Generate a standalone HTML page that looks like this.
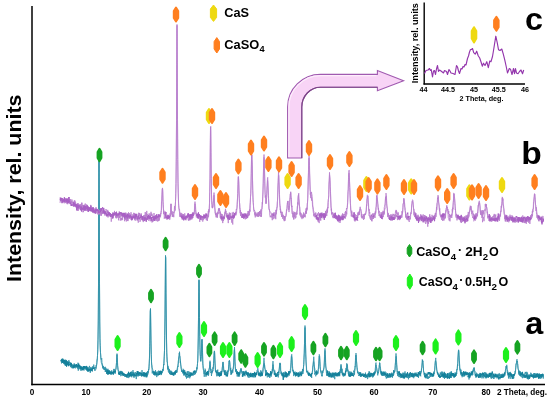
<!DOCTYPE html>
<html><head><meta charset="utf-8"><title>XRD</title>
<style>
html,body{margin:0;padding:0;background:#fff;}
svg{display:block;}
text{font-family:"Liberation Sans",sans-serif;font-weight:bold;fill:#000;}
</style></head><body>
<svg width="550" height="400" viewBox="0 0 550 400">
<defs>
<linearGradient id="ag" x1="0" y1="0" x2="0" y2="1">
<stop offset="0" stop-color="#f0c4ee"/><stop offset="0.5" stop-color="#f9e2f8"/><stop offset="1" stop-color="#f0c4ee"/>
</linearGradient>
</defs>
<rect width="550" height="400" fill="#fff"/>
<!-- arrow -->
<path d="M287.6,158 L287.6,107 A32.9,32.6 0 0 1 320.5,74.4 L377.4,74.4 L377.4,70.5 L403.6,80.7 L377.4,90.8 L377.4,87.2 L320.5,87.2 A18.7,19.8 0 0 0 301.8,107 L301.8,158 Z" fill="#f8d4f6" stroke="#a05ab0" stroke-width="1.1" stroke-linejoin="miter"/><path d="M288.9,157 L288.9,107 A31.6,31.3 0 0 1 320.5,75.7 L376.5,75.7" fill="none" stroke="#fdeefc" stroke-width="1.2"/><path d="M377.4,87.2 L320.5,87.2 A18.7,19.8 0 0 0 301.8,107 L301.8,158" fill="none" stroke="#7a4585" stroke-width="1.1"/>
<!-- axes -->
<line x1="32" y1="6" x2="32" y2="385.2" stroke="#000" stroke-width="1.5"/>
<line x1="31.3" y1="384.5" x2="545" y2="384.5" stroke="#000" stroke-width="1.4"/>
<line x1="424.2" y1="2.5" x2="424.2" y2="84.6" stroke="#000" stroke-width="1.4"/>
<line x1="423.5" y1="84" x2="525" y2="84" stroke="#000" stroke-width="1.3"/>
<g fill="none" stroke="#2c8fa7" stroke-width="0.8" stroke-linejoin="round"><path d="M61.00 361.1 61.25 360.1 61.50 363.4 61.75 360.3 62.00 360.8 62.25 362.6 62.50 359.8 62.75 360.4 63.00 361.5 63.25 361.0 63.50 360.2 63.75 361.5 64.00 361.4 64.25 362.6 64.50 359.9 64.75 361.0 65.00 363.1 65.25 363.8 65.50 359.7 65.75 362.1 66.00 360.1 66.25 360.2 66.50 360.3 66.75 361.0 67.00 362.9 67.25 362.8 67.50 362.3 67.75 362.1 68.00 362.8 68.25 363.0 68.50 364.3 68.75 362.8 69.00 363.7 69.25 363.8 69.50 364.0 69.75 364.5 70.00 364.6 70.25 366.2 70.50 364.7 70.75 367.0 71.00 365.0 71.25 365.1 71.50 366.0 71.75 366.5 72.00 366.4 72.25 367.7 72.50 367.4 72.75 366.6 73.00 365.4 73.25 365.6 73.50 367.2 73.75 365.7 74.00 363.8 74.25 364.5 74.50 364.7 74.75 366.8 75.00 365.4 75.25 368.4 75.50 366.7 75.75 366.2 76.00 365.7 76.25 367.5 76.50 366.1 76.75 365.4 77.00 367.0 77.25 366.3 77.50 367.6 77.75 366.0 78.00 362.7 78.25 367.0 78.50 363.9 78.75 368.1 79.00 368.6 79.25 366.1 79.50 365.5 79.75 365.5 80.00 368.5 80.25 367.5 80.50 367.4 80.75 368.1 81.00 371.0 81.25 369.1 81.50 369.6 81.75 369.5 82.00 369.7 82.25 369.6 82.50 367.2 82.75 367.6 83.00 366.8 83.25 366.7 83.50 368.8 83.75 366.7 84.00 367.2 84.25 366.5 84.50 366.6 84.75 368.3 85.00 367.0 85.25 367.0 85.50 368.2 85.75 368.3 86.00 368.7 86.25 368.1 86.50 365.9 86.75 368.8 87.00 368.8 87.25 369.5 87.50 367.4 87.75 371.4 88.00 366.9 88.25 369.2 88.50 368.4 88.75 367.8 89.00 369.4 89.25 368.2 89.50 365.9 89.75 367.4 90.00 369.5 90.25 371.7 90.50 367.3 90.75 369.1 91.00 370.8 91.25 369.8 91.50 368.6 91.75 367.3 92.00 366.9 92.25 368.1 92.50 368.5 92.75 366.1 93.00 366.7 93.25 369.0 93.50 368.1 93.75 367.6 94.00 368.0 94.25 367.5 94.50 369.6 94.75 370.5 95.00 371.0 95.25 369.3 95.50 369.1 95.75 369.5 96.00 369.2 96.25 368.1 96.50 366.6 96.75 362.9 97.00 359.8 97.25 360.1 97.50 355.3 97.75 349.7 98.00 339.2 98.25 320.2 98.50 285.2 98.75 215.1 99.00 159.9 99.25 214.9 99.50 283.7 99.75 322.0 100.00 342.4 100.25 349.1 100.50 352.9 100.75 357.8 101.00 359.3 101.25 362.3 101.50 363.1 101.75 364.2 102.00 363.9 102.25 365.8 102.50 365.3 102.75 367.0 103.00 366.5 103.25 365.9 103.50 368.2 103.75 367.0 104.00 369.9 104.25 369.0 104.50 369.3 104.75 369.1 105.00 369.3 105.25 366.8 105.50 371.3 105.75 369.0 106.00 371.3 106.25 369.4 106.50 370.0 106.75 369.9 107.00 368.9 107.25 369.9 107.50 370.7 107.75 369.7 108.00 368.8 108.25 369.7 108.50 370.9 108.75 372.2 109.00 372.0 109.25 371.6 109.50 370.4 109.75 373.0 110.00 372.2 110.25 372.2 110.50 373.7 110.75 373.4 111.00 373.2 111.25 371.2 111.50 371.7 111.75 370.3 112.00 372.4 112.25 372.2 112.50 373.3 112.75 372.5 113.00 371.9 113.25 375.0 113.50 371.3 113.75 371.0 114.00 371.8 114.25 373.1 114.50 372.0 114.75 371.8 115.00 370.8 115.25 373.7 115.50 370.7 115.75 369.3 116.00 369.1 116.25 365.9 116.50 362.6 116.75 359.0 117.00 353.6 117.25 357.2 117.50 362.1 117.75 366.2 118.00 369.7 118.25 370.8 118.50 370.7 118.75 370.6 119.00 372.0 119.25 373.5 119.50 372.8 119.75 372.9 120.00 371.0 120.25 374.5 120.50 371.6 120.75 372.0 121.00 373.1 121.25 373.6 121.50 373.7 121.75 372.8 122.00 373.4 122.25 373.0 122.50 371.6 122.75 373.5 123.00 373.0 123.25 374.3 123.50 373.7 123.75 375.1 124.00 375.0 124.25 375.4 124.50 376.0 124.75 375.6 125.00 374.8 125.25 376.8 125.50 374.3 125.75 375.5 126.00 376.8 126.25 375.6 126.50 376.9 126.75 375.2 127.00 375.5 127.25 376.8 127.50 376.9 127.75 377.4 128.00 375.6 128.25 375.8 128.50 376.0 128.75 375.6 129.00 373.3 129.25 374.0 129.50 376.2 129.75 372.9 130.00 375.1 130.25 373.8 130.50 375.4 130.75 373.2 131.00 374.0 131.25 371.5 131.50 373.7 131.75 375.0 132.00 371.8 132.25 374.9 132.50 372.6 132.75 373.3 133.00 370.1 133.25 374.7 133.50 372.4 133.75 372.9 134.00 372.2 134.25 372.8 134.50 375.7 134.75 374.1 135.00 376.1 135.25 375.2 135.50 376.2 135.75 375.4 136.00 376.6 136.25 379.1 136.50 376.7 136.75 376.2 137.00 374.7 137.25 376.1 137.50 376.2 137.75 372.2 138.00 372.4 138.25 376.4 138.50 374.3 138.75 373.9 139.00 374.3 139.25 374.8 139.50 374.4 139.75 373.0 140.00 375.6 140.25 373.0 140.50 371.9 140.75 372.3 141.00 373.0 141.25 372.9 141.50 373.3 141.75 374.1 142.00 370.1 142.25 373.2 142.50 375.4 142.75 375.1 143.00 373.8 143.25 373.9 143.50 376.2 143.75 374.6 144.00 374.3 144.25 377.1 144.50 374.3 144.75 375.4 145.00 374.4 145.25 374.4 145.50 373.1 145.75 373.1 146.00 375.5 146.25 372.6 146.50 374.2 146.75 372.3 147.00 373.3 147.25 373.3 147.50 371.0 147.75 373.9 148.00 371.8 148.25 372.7 148.50 369.1 148.75 369.8 149.00 369.3 149.25 363.1 149.50 355.9 149.75 346.6 150.00 329.7 150.25 311.2 150.50 309.0 150.75 325.1 151.00 343.9 151.25 354.7 151.50 361.2 151.75 367.2 152.00 368.5 152.25 373.4 152.50 370.9 152.75 371.0 153.00 371.7 153.25 373.1 153.50 372.0 153.75 371.4 154.00 374.9 154.25 371.5 154.50 374.8 154.75 373.2 155.00 371.8 155.25 375.1 155.50 372.9 155.75 371.9 156.00 373.2 156.25 374.6 156.50 373.9 156.75 374.0 157.00 375.1 157.25 373.3 157.50 373.5 157.75 372.8 158.00 371.3 158.25 372.7 158.50 374.7 158.75 370.5 159.00 374.0 159.25 372.5 159.50 371.0 159.75 372.1 160.00 374.1 160.25 371.3 160.50 373.0 160.75 373.5 161.00 371.1 161.25 372.9 161.50 372.7 161.75 371.4 162.00 372.6 162.25 371.1 162.50 370.4 162.75 369.1 163.00 370.2 163.25 368.0 163.50 366.3 163.75 363.4 164.00 360.0 164.25 356.0 164.50 350.3 164.75 335.7 165.00 317.1 165.25 284.5 165.50 255.3 165.75 257.5 166.00 292.7 166.25 318.0 166.50 339.4 166.75 352.1 167.00 356.5 167.25 360.1 167.50 363.6 167.75 366.7 168.00 368.7 168.25 368.9 168.50 367.8 168.75 368.9 169.00 370.5 169.25 369.2 169.50 370.8 169.75 374.1 170.00 370.4 170.25 373.2 170.50 370.9 170.75 371.8 171.00 372.3 171.25 370.8 171.50 372.7 171.75 374.6 172.00 374.1 172.25 374.3 172.50 372.6 172.75 373.5 173.00 373.9 173.25 374.5 173.50 375.2 173.75 372.3 174.00 375.3 174.25 372.7 174.50 372.6 174.75 371.3 175.00 372.4 175.25 372.1 175.50 370.8 175.75 371.9 176.00 372.3 176.25 371.6 176.50 372.9 176.75 370.5 177.00 372.4 177.25 370.5 177.50 370.3 177.75 366.3 178.00 367.0 178.25 364.6 178.50 363.1 178.75 357.6 179.00 357.8 179.25 353.0 179.50 355.5 179.75 355.9 180.00 356.7 180.25 362.8 180.50 361.4 180.75 364.8 181.00 367.0 181.25 368.8 181.50 369.7 181.75 371.3 182.00 371.6 182.25 371.6 182.50 370.8 182.75 371.7 183.00 373.3 183.25 370.8 183.50 372.3 183.75 369.7 184.00 371.3 184.25 370.2 184.50 373.7 184.75 370.3 185.00 372.5 185.25 374.1 185.50 374.3 185.75 374.8 186.00 375.3 186.25 374.7 186.50 375.1 186.75 373.8 187.00 373.6 187.25 371.2 187.50 373.2 187.75 374.2 188.00 371.7 188.25 371.1 188.50 372.7 188.75 374.2 189.00 374.5 189.25 371.7 189.50 374.4 189.75 373.4 190.00 374.9 190.25 372.1 190.50 376.0 190.75 374.5 191.00 375.2 191.25 374.7 191.50 373.6 191.75 375.4 192.00 374.1 192.25 373.9 192.50 375.4 192.75 374.5 193.00 373.7 193.25 375.5 193.50 373.5 193.75 373.9 194.00 374.6 194.25 374.5 194.50 374.4 194.75 374.6 195.00 372.3 195.25 371.0 195.50 373.6 195.75 372.9 196.00 370.6 196.25 371.4 196.50 369.6 196.75 367.4 197.00 369.3 197.25 366.7 197.50 363.6 197.75 361.0 198.00 353.1 198.25 337.9 198.50 317.4 198.75 291.3 199.00 279.6 199.25 292.4 199.50 317.7 199.75 336.5 200.00 347.6 200.25 354.6 200.50 356.6 200.75 361.2 201.00 358.4 201.25 356.8 201.50 349.5 201.75 342.5 202.00 339.2 202.25 343.7 202.50 352.6 202.75 363.8 203.00 365.6 203.25 369.4 203.50 370.4 203.75 370.6 204.00 373.7 204.25 373.0 204.50 373.3 204.75 370.3 205.00 373.4 205.25 374.1 205.50 373.5 205.75 373.0 206.00 374.6 206.25 373.5 206.50 373.9 206.75 374.5 207.00 374.5 207.25 371.8 207.50 373.8 207.75 372.5 208.00 371.0 208.25 373.5 208.50 370.8 208.75 371.9 209.00 368.6 209.25 368.8 209.50 366.9 209.75 364.3 210.00 362.1 210.25 363.6 210.50 367.2 210.75 372.8 211.00 372.0 211.25 373.3 211.50 376.0 211.75 371.7 212.00 371.1 212.25 372.0 212.50 372.2 212.75 370.7 213.00 371.0 213.25 369.4 213.50 365.2 213.75 363.3 214.00 355.7 214.25 352.5 214.50 351.4 214.75 359.2 215.00 363.8 215.25 367.1 215.50 370.6 215.75 372.1 216.00 372.2 216.25 372.0 216.50 375.5 216.75 376.3 217.00 374.1 217.25 374.4 217.50 374.1 217.75 375.9 218.00 376.1 218.25 373.7 218.50 374.4 218.75 374.3 219.00 375.4 219.25 376.1 219.50 376.6 219.75 375.0 220.00 374.0 220.25 375.7 220.50 375.5 220.75 374.1 221.00 374.4 221.25 374.2 221.50 374.4 221.75 372.7 222.00 372.1 222.25 370.1 222.50 366.1 222.75 364.8 223.00 362.3 223.25 365.3 223.50 365.9 223.75 369.0 224.00 371.8 224.25 370.1 224.50 372.4 224.75 372.1 225.00 372.3 225.25 372.5 225.50 370.3 225.75 373.1 226.00 373.3 226.25 374.6 226.50 375.2 226.75 374.0 227.00 374.6 227.25 370.6 227.50 373.8 227.75 374.1 228.00 373.2 228.25 371.5 228.50 369.2 228.75 366.8 229.00 363.8 229.25 360.9 229.50 360.5 229.75 362.6 230.00 364.6 230.25 370.7 230.50 369.0 230.75 367.8 231.00 373.2 231.25 373.1 231.50 372.2 231.75 373.2 232.00 372.4 232.25 370.7 232.50 371.4 232.75 369.1 233.00 368.9 233.25 367.2 233.50 365.9 233.75 363.0 234.00 355.2 234.25 350.7 234.50 347.0 234.75 353.5 235.00 361.6 235.25 366.6 235.50 369.4 235.75 371.3 236.00 369.2 236.25 371.3 236.50 369.4 236.75 372.8 237.00 373.7 237.25 373.4 237.50 373.1 237.75 375.0 238.00 375.4 238.25 375.0 238.50 374.2 238.75 374.8 239.00 374.5 239.25 374.4 239.50 374.3 239.75 373.0 240.00 370.7 240.25 371.2 240.50 370.9 240.75 368.7 241.00 368.9 241.25 368.6 241.50 372.4 241.75 372.5 242.00 373.0 242.25 374.2 242.50 374.5 242.75 373.9 243.00 375.2 243.25 375.0 243.50 374.7 243.75 374.7 244.00 373.6 244.25 375.4 244.50 375.4 244.75 374.0 245.00 376.2 245.25 373.7 245.50 371.7 245.75 372.4 246.00 373.4 246.25 374.0 246.50 373.6 246.75 374.9 247.00 373.4 247.25 375.0 247.50 376.3 247.75 375.3 248.00 377.2 248.25 377.5 248.50 375.9 248.75 373.7 249.00 377.5 249.25 377.8 249.50 374.0 249.75 375.9 250.00 375.8 250.25 373.4 250.50 374.6 250.75 376.7 251.00 375.5 251.25 375.4 251.50 376.8 251.75 374.9 252.00 373.5 252.25 377.3 252.50 374.7 252.75 375.5 253.00 376.8 253.25 375.5 253.50 375.2 253.75 374.1 254.00 375.4 254.25 377.3 254.50 373.9 254.75 373.2 255.00 374.8 255.25 373.5 255.50 374.3 255.75 374.0 256.00 374.2 256.25 373.5 256.50 373.1 256.75 373.6 257.00 370.1 257.25 370.3 257.50 369.9 257.75 368.1 258.00 369.1 258.25 370.6 258.50 371.0 258.75 373.4 259.00 372.6 259.25 376.2 259.50 372.6 259.75 372.9 260.00 376.1 260.25 373.0 260.50 376.5 260.75 370.3 261.00 373.4 261.25 375.9 261.50 376.2 261.75 374.9 262.00 373.4 262.25 373.8 262.50 374.4 262.75 373.0 263.00 372.4 263.25 368.4 263.50 367.2 263.75 364.2 264.00 364.5 264.25 363.5 264.50 367.0 264.75 368.1 265.00 369.5 265.25 369.7 265.50 373.7 265.75 376.1 266.00 374.0 266.25 371.5 266.50 374.9 266.75 374.7 267.00 374.7 267.25 377.3 267.50 376.8 267.75 377.1 268.00 374.4 268.25 375.8 268.50 374.0 268.75 376.7 269.00 374.0 269.25 376.8 269.50 375.5 269.75 375.4 270.00 373.4 270.25 375.9 270.50 372.8 270.75 373.3 271.00 373.4 271.25 376.6 271.50 373.7 271.75 372.0 272.00 372.2 272.25 372.5 272.50 366.9 272.75 362.7 273.00 361.1 273.25 363.8 273.50 368.9 273.75 369.2 274.00 370.9 274.25 371.1 274.50 371.6 274.75 374.7 275.00 374.2 275.25 374.6 275.50 372.8 275.75 375.3 276.00 375.3 276.25 377.0 276.50 376.7 276.75 375.3 277.00 376.1 277.25 376.1 277.50 375.6 277.75 374.5 278.00 376.2 278.25 377.4 278.50 373.9 278.75 375.1 279.00 371.4 279.25 369.4 279.50 366.9 279.75 363.4 280.00 363.2 280.25 365.0 280.50 363.7 280.75 370.3 281.00 371.6 281.25 374.3 281.50 371.8 281.75 373.4 282.00 374.9 282.25 374.7 282.50 375.5 282.75 372.8 283.00 373.0 283.25 374.6 283.50 372.3 283.75 374.6 284.00 375.3 284.25 374.6 284.50 372.7 284.75 373.7 285.00 374.0 285.25 375.0 285.50 374.9 285.75 374.3 286.00 372.9 286.25 372.8 286.50 373.8 286.75 373.8 287.00 374.1 287.25 373.4 287.50 374.3 287.75 373.5 288.00 374.2 288.25 373.7 288.50 374.1 288.75 371.9 289.00 371.7 289.25 371.2 289.50 372.3 289.75 372.6 290.00 372.4 290.25 370.3 290.50 368.4 290.75 367.1 291.00 362.6 291.25 356.9 291.50 355.2 291.75 354.3 292.00 357.1 292.25 363.1 292.50 365.7 292.75 368.9 293.00 369.6 293.25 371.2 293.50 371.6 293.75 372.6 294.00 373.8 294.25 373.5 294.50 373.2 294.75 374.4 295.00 371.5 295.25 373.3 295.50 374.5 295.75 373.8 296.00 374.6 296.25 372.2 296.50 374.8 296.75 372.7 297.00 374.9 297.25 374.0 297.50 374.9 297.75 373.1 298.00 373.9 298.25 372.1 298.50 374.8 298.75 375.3 299.00 374.9 299.25 375.7 299.50 375.1 299.75 374.4 300.00 374.8 300.25 373.3 300.50 374.9 300.75 374.0 301.00 373.8 301.25 373.0 301.50 372.2 301.75 371.4 302.00 371.8 302.25 372.5 302.50 369.0 302.75 370.6 303.00 373.8 303.25 368.7 303.50 366.5 303.75 364.5 304.00 359.5 304.25 352.9 304.50 343.1 304.75 330.5 305.00 327.5 305.25 332.2 305.50 344.7 305.75 353.7 306.00 361.8 306.25 365.2 306.50 371.6 306.75 371.2 307.00 372.7 307.25 372.0 307.50 370.9 307.75 372.9 308.00 374.3 308.25 374.1 308.50 373.5 308.75 373.4 309.00 373.0 309.25 374.1 309.50 375.6 309.75 375.8 310.00 376.0 310.25 375.2 310.50 375.7 310.75 375.4 311.00 375.8 311.25 375.4 311.50 375.4 311.75 374.0 312.00 373.3 312.25 374.0 312.50 372.4 312.75 366.3 313.00 366.2 313.25 362.4 313.50 360.0 313.75 356.7 314.00 360.2 314.25 365.0 314.50 368.1 314.75 368.2 315.00 371.8 315.25 372.3 315.50 372.4 315.75 373.0 316.00 371.1 316.25 372.6 316.50 370.4 316.75 374.6 317.00 374.9 317.25 374.1 317.50 372.3 317.75 373.1 318.00 373.4 318.25 369.5 318.50 369.0 318.75 366.3 319.00 360.1 319.25 356.2 319.50 357.9 319.75 361.1 320.00 366.6 320.25 368.9 320.50 369.9 320.75 372.6 321.00 372.8 321.25 373.8 321.50 374.9 321.75 376.2 322.00 374.5 322.25 376.3 322.50 372.3 322.75 373.2 323.00 373.0 323.25 369.9 323.50 369.5 323.75 369.6 324.00 368.0 324.25 365.0 324.50 359.9 324.75 354.2 325.00 350.5 325.25 355.0 325.50 362.3 325.75 366.0 326.00 368.4 326.25 371.8 326.50 373.8 326.75 375.8 327.00 374.2 327.25 375.7 327.50 375.8 327.75 374.7 328.00 374.6 328.25 374.0 328.50 374.3 328.75 374.4 329.00 372.6 329.25 374.0 329.50 376.1 329.75 374.5 330.00 372.5 330.25 376.5 330.50 374.6 330.75 375.1 331.00 375.5 331.25 374.4 331.50 373.7 331.75 374.0 332.00 375.2 332.25 374.9 332.50 374.6 332.75 377.4 333.00 375.2 333.25 376.0 333.50 377.2 333.75 374.8 334.00 374.0 334.25 373.9 334.50 374.1 334.75 375.8 335.00 374.7 335.25 373.0 335.50 372.5 335.75 374.0 336.00 375.3 336.25 372.6 336.50 375.4 336.75 374.1 337.00 373.9 337.25 373.7 337.50 373.3 337.75 373.5 338.00 375.5 338.25 372.3 338.50 373.4 338.75 373.7 339.00 372.3 339.25 372.9 339.50 371.5 339.75 373.5 340.00 372.8 340.25 369.3 340.50 370.9 340.75 366.1 341.00 364.2 341.25 365.4 341.50 370.1 341.75 368.7 342.00 372.6 342.25 373.8 342.50 375.1 342.75 373.8 343.00 375.7 343.25 373.9 343.50 375.5 343.75 373.2 344.00 374.6 344.25 373.7 344.50 374.0 344.75 376.1 345.00 373.1 345.25 372.8 345.50 372.4 345.75 372.0 346.00 368.1 346.25 370.3 346.50 366.0 346.75 363.3 347.00 365.0 347.25 364.5 347.50 368.4 347.75 371.3 348.00 371.4 348.25 371.1 348.50 372.9 348.75 375.7 349.00 373.7 349.25 376.1 349.50 376.2 349.75 373.5 350.00 376.4 350.25 374.1 350.50 376.5 350.75 376.6 351.00 375.7 351.25 374.0 351.50 375.3 351.75 375.2 352.00 376.0 352.25 375.2 352.50 375.7 352.75 374.6 353.00 373.0 353.25 374.7 353.50 376.3 353.75 373.4 354.00 372.8 354.25 371.2 354.50 374.8 354.75 369.9 355.00 370.2 355.25 365.7 355.50 360.6 355.75 355.6 356.00 355.0 356.25 357.0 356.50 360.4 356.75 363.7 357.00 369.0 357.25 370.1 357.50 370.8 357.75 372.3 358.00 371.5 358.25 373.9 358.50 373.3 358.75 373.9 359.00 373.2 359.25 375.0 359.50 375.7 359.75 373.6 360.00 375.8 360.25 376.0 360.50 377.0 360.75 376.7 361.00 374.6 361.25 376.6 361.50 375.6 361.75 374.7 362.00 374.0 362.25 376.0 362.50 376.0 362.75 374.5 363.00 375.4 363.25 374.5 363.50 373.9 363.75 373.5 364.00 375.1 364.25 374.5 364.50 374.5 364.75 374.3 365.00 374.1 365.25 375.4 365.50 372.6 365.75 375.9 366.00 374.0 366.25 375.5 366.50 376.3 366.75 376.5 367.00 377.4 367.25 376.0 367.50 379.1 367.75 378.4 368.00 377.5 368.25 377.4 368.50 375.7 368.75 373.7 369.00 373.5 369.25 375.5 369.50 371.7 369.75 376.4 370.00 375.0 370.25 373.4 370.50 373.9 370.75 372.7 371.00 374.6 371.25 375.2 371.50 376.2 371.75 373.2 372.00 375.9 372.25 374.8 372.50 374.3 372.75 374.3 373.00 374.6 373.25 376.2 373.50 375.8 373.75 375.1 374.00 373.2 374.25 373.8 374.50 375.0 374.75 373.9 375.00 371.7 375.25 373.4 375.50 372.0 375.75 367.5 376.00 365.2 376.25 366.5 376.50 367.2 376.75 368.8 377.00 371.7 377.25 371.6 377.50 373.1 377.75 375.4 378.00 372.2 378.25 371.2 378.50 370.6 378.75 369.6 379.00 369.1 379.25 365.4 379.50 364.7 379.75 362.8 380.00 365.1 380.25 368.4 380.50 371.7 380.75 370.9 381.00 374.4 381.25 372.4 381.50 374.1 381.75 374.0 382.00 376.0 382.25 372.9 382.50 372.9 382.75 373.5 383.00 374.5 383.25 374.3 383.50 372.0 383.75 372.5 384.00 372.0 384.25 375.6 384.50 374.2 384.75 374.6 385.00 371.4 385.25 374.3 385.50 373.8 385.75 375.3 386.00 372.4 386.25 376.0 386.50 375.2 386.75 375.3 387.00 373.3 387.25 377.2 387.50 375.5 387.75 375.8 388.00 375.8 388.25 375.7 388.50 376.5 388.75 376.7 389.00 377.9 389.25 377.3 389.50 375.7 389.75 376.6 390.00 377.4 390.25 375.3 390.50 375.8 390.75 377.2 391.00 376.3 391.25 375.1 391.50 376.4 391.75 376.8 392.00 376.4 392.25 375.8 392.50 377.7 392.75 373.6 393.00 375.4 393.25 375.5 393.50 373.3 393.75 373.1 394.00 372.7 394.25 373.1 394.50 372.0 394.75 371.4 395.00 370.3 395.25 365.2 395.50 362.2 395.75 358.3 396.00 353.4 396.25 357.3 396.50 359.6 396.75 364.6 397.00 367.4 397.25 372.0 397.50 371.6 397.75 372.7 398.00 375.2 398.25 374.8 398.50 373.7 398.75 376.8 399.00 376.7 399.25 375.0 399.50 373.3 399.75 374.3 400.00 373.9 400.25 376.9 400.50 374.3 400.75 376.2 401.00 377.0 401.25 376.2 401.50 376.4 401.75 377.7 402.00 377.2 402.25 374.5 402.50 377.4 402.75 373.4 403.00 375.1 403.25 376.7 403.50 373.4 403.75 376.8 404.00 378.2 404.25 375.5 404.50 373.7 404.75 378.0 405.00 375.0 405.25 374.6 405.50 374.7 405.75 375.2 406.00 374.9 406.25 377.8 406.50 374.3 406.75 373.4 407.00 373.5 407.25 375.0 407.50 377.8 407.75 374.4 408.00 376.0 408.25 377.4 408.50 376.3 408.75 376.4 409.00 376.3 409.25 377.0 409.50 375.6 409.75 378.0 410.00 373.9 410.25 376.9 410.50 376.9 410.75 375.4 411.00 374.9 411.25 376.6 411.50 374.0 411.75 374.9 412.00 374.3 412.25 375.8 412.50 374.6 412.75 375.2 413.00 376.9 413.25 376.2 413.50 376.6 413.75 378.2 414.00 373.7 414.25 375.2 414.50 375.6 414.75 377.0 415.00 373.7 415.25 374.6 415.50 375.2 415.75 373.1 416.00 373.9 416.25 374.5 416.50 374.2 416.75 375.8 417.00 376.5 417.25 375.3 417.50 376.8 417.75 376.8 418.00 376.3 418.25 375.3 418.50 377.9 418.75 374.3 419.00 375.5 419.25 375.7 419.50 371.2 419.75 372.9 420.00 371.1 420.25 372.7 420.50 373.3 420.75 371.3 421.00 371.8 421.25 371.8 421.50 368.9 421.75 367.7 422.00 364.2 422.25 363.0 422.50 359.9 422.75 362.5 423.00 365.2 423.25 365.6 423.50 370.3 423.75 372.5 424.00 374.0 424.25 375.3 424.50 375.5 424.75 377.4 425.00 377.4 425.25 377.3 425.50 376.2 425.75 378.2 426.00 375.0 426.25 377.7 426.50 377.1 426.75 375.2 427.00 376.7 427.25 379.0 427.50 376.3 427.75 375.7 428.00 376.7 428.25 377.3 428.50 378.7 428.75 376.5 429.00 377.8 429.25 376.8 429.50 377.9 429.75 376.8 430.00 374.9 430.25 376.7 430.50 377.0 430.75 375.2 431.00 372.8 431.25 374.2 431.50 375.3 431.75 376.2 432.00 374.9 432.25 376.8 432.50 375.1 432.75 374.0 433.00 376.0 433.25 374.4 433.50 376.3 433.75 375.4 434.00 372.7 434.25 371.3 434.50 370.6 434.75 369.5 435.00 365.4 435.25 361.9 435.50 361.0 435.75 360.9 436.00 362.1 436.25 365.3 436.50 366.1 436.75 370.3 437.00 371.4 437.25 373.2 437.50 372.4 437.75 373.2 438.00 373.6 438.25 373.9 438.50 374.5 438.75 374.5 439.00 376.8 439.25 375.4 439.50 376.0 439.75 375.8 440.00 374.0 440.25 372.5 440.50 373.3 440.75 374.0 441.00 374.3 441.25 372.6 441.50 375.1 441.75 374.1 442.00 375.7 442.25 373.8 442.50 371.7 442.75 375.8 443.00 375.8 443.25 377.9 443.50 375.2 443.75 375.4 444.00 377.1 444.25 371.8 444.50 373.4 444.75 372.8 445.00 375.6 445.25 374.9 445.50 375.9 445.75 373.4 446.00 374.3 446.25 375.1 446.50 374.8 446.75 374.6 447.00 376.1 447.25 373.9 447.50 374.1 447.75 374.1 448.00 375.5 448.25 373.7 448.50 373.8 448.75 374.0 449.00 373.4 449.25 375.2 449.50 374.8 449.75 373.3 450.00 375.2 450.25 376.0 450.50 378.0 450.75 376.1 451.00 377.8 451.25 376.4 451.50 377.7 451.75 374.5 452.00 374.1 452.25 375.1 452.50 374.7 452.75 374.9 453.00 375.1 453.25 373.1 453.50 374.6 453.75 373.7 454.00 376.7 454.25 374.2 454.50 374.0 454.75 376.6 455.00 372.5 455.25 376.2 455.50 374.4 455.75 373.0 456.00 372.5 456.25 372.3 456.50 371.9 456.75 369.7 457.00 369.8 457.25 368.5 457.50 365.3 457.75 363.8 458.00 356.4 458.25 352.5 458.50 349.9 458.75 349.8 459.00 355.4 459.25 360.0 459.50 362.0 459.75 368.2 460.00 368.1 460.25 371.6 460.50 371.3 460.75 373.3 461.00 369.7 461.25 373.8 461.50 373.1 461.75 375.4 462.00 375.8 462.25 375.9 462.50 374.4 462.75 374.9 463.00 374.0 463.25 375.1 463.50 375.4 463.75 375.9 464.00 376.8 464.25 374.0 464.50 375.0 464.75 375.3 465.00 374.2 465.25 372.2 465.50 373.5 465.75 373.3 466.00 372.7 466.25 374.5 466.50 374.1 466.75 374.6 467.00 375.5 467.25 375.6 467.50 376.7 467.75 377.0 468.00 376.8 468.25 376.9 468.50 377.2 468.75 375.6 469.00 376.9 469.25 376.8 469.50 374.8 469.75 376.2 470.00 375.1 470.25 374.9 470.50 376.4 470.75 372.8 471.00 375.4 471.25 373.6 471.50 374.7 471.75 371.8 472.00 375.3 472.25 375.5 472.50 372.5 472.75 375.0 473.00 371.7 473.25 371.1 473.50 368.6 473.75 369.0 474.00 367.5 474.25 368.6 474.50 370.5 474.75 370.8 475.00 373.9 475.25 373.9 475.50 376.4 475.75 375.1 476.00 375.8 476.25 375.8 476.50 376.6 476.75 376.8 477.00 375.0 477.25 373.7 477.50 374.8 477.75 374.4 478.00 375.6 478.25 374.6 478.50 375.3 478.75 375.2 479.00 375.2 479.25 373.8 479.50 376.2 479.75 374.3 480.00 372.9 480.25 374.0 480.50 374.5 480.75 374.4 481.00 375.5 481.25 374.4 481.50 375.4 481.75 376.4 482.00 374.4 482.25 374.7 482.50 377.2 482.75 376.0 483.00 376.4 483.25 375.0 483.50 374.9 483.75 374.5 484.00 373.4 484.25 375.4 484.50 372.5 484.75 373.0 485.00 372.3 485.25 375.9 485.50 372.8 485.75 375.4 486.00 372.7 486.25 376.9 486.50 377.7 486.75 374.9 487.00 376.9 487.25 373.8 487.50 374.9 487.75 376.9 488.00 375.6 488.25 374.9 488.50 375.5 488.75 374.7 489.00 374.5 489.25 376.4 489.50 373.1 489.75 374.6 490.00 375.3 490.25 376.3 490.50 375.4 490.75 374.7 491.00 372.6 491.25 378.8 491.50 374.8 491.75 376.9 492.00 375.0 492.25 378.0 492.50 375.6 492.75 376.9 493.00 377.9 493.25 376.4 493.50 378.7 493.75 377.7 494.00 378.8 494.25 378.2 494.50 376.4 494.75 375.2 495.00 375.9 495.25 377.4 495.50 374.0 495.75 377.0 496.00 373.8 496.25 376.3 496.50 376.2 496.75 374.6 497.00 374.1 497.25 375.9 497.50 376.7 497.75 374.8 498.00 377.0 498.25 376.9 498.50 375.2 498.75 374.5 499.00 376.8 499.25 376.4 499.50 375.1 499.75 375.7 500.00 379.2 500.25 377.4 500.50 377.1 500.75 375.4 501.00 376.1 501.25 377.1 501.50 374.5 501.75 374.7 502.00 374.8 502.25 374.6 502.50 375.9 502.75 374.4 503.00 375.5 503.25 375.7 503.50 375.7 503.75 375.5 504.00 373.4 504.25 373.2 504.50 372.3 504.75 374.1 505.00 373.8 505.25 372.8 505.50 372.8 505.75 369.0 506.00 368.6 506.25 366.0 506.50 366.7 506.75 366.1 507.00 368.9 507.25 369.8 507.50 370.9 507.75 370.7 508.00 375.3 508.25 375.1 508.50 378.5 508.75 375.5 509.00 376.0 509.25 374.5 509.50 377.1 509.75 375.1 510.00 378.4 510.25 378.9 510.50 373.9 510.75 375.5 511.00 374.9 511.25 375.7 511.50 375.3 511.75 377.4 512.00 378.6 512.25 377.3 512.50 378.9 512.75 377.8 513.00 378.5 513.25 378.8 513.50 375.7 513.75 378.3 514.00 374.8 514.25 374.0 514.50 375.4 514.75 372.5 515.00 371.3 515.25 372.3 515.50 369.6 515.75 367.6 516.00 365.4 516.25 363.1 516.50 362.4 516.75 360.2 517.00 359.2 517.25 363.5 517.50 363.9 517.75 364.1 518.00 368.2 518.25 368.9 518.50 370.5 518.75 374.4 519.00 374.5 519.25 373.9 519.50 375.3 519.75 372.7 520.00 375.7 520.25 376.1 520.50 374.7 520.75 373.9 521.00 376.9 521.25 376.8 521.50 376.5 521.75 376.8 522.00 376.8 522.25 377.7 522.50 378.2 522.75 375.8 523.00 377.7 523.25 375.4 523.50 375.0 523.75 375.5 524.00 376.6 524.25 376.4 524.50 375.8 524.75 374.6 525.00 377.0 525.25 375.5 525.50 375.8 525.75 374.9 526.00 378.0 526.25 375.4 526.50 374.3 526.75 377.0 527.00 376.1 527.25 377.3 527.50 377.4 527.75 374.4 528.00 376.3 528.25 379.5 528.50 377.3 528.75 377.2 529.00 377.7 529.25 377.8 529.50 376.1 529.75 376.9 530.00 376.5 530.25 375.7 530.50 375.3 530.75 376.1 531.00 375.6 531.25 374.1 531.50 373.7 531.75 375.2 532.00 375.1 532.25 376.8 532.50 375.0 532.75 374.9 533.00 374.3 533.25 374.9 533.50 375.1 533.75 376.0 534.00 374.2 534.25 375.5 534.50 376.1 534.75 373.1 535.00 375.6 535.25 374.2 535.50 374.7 535.75 375.0 536.00 375.0 536.25 374.4 536.50 375.6 536.75 376.1 537.00 375.1 537.25 374.1 537.50 374.8 537.75 377.2 538.00 375.9 538.25 374.6 538.50 373.9 538.75 375.5 539.00 375.5 539.25 377.9 539.50 373.5 539.75 376.0 540.00 376.8 540.25 377.1 540.50 374.3 540.75 376.7 541.00 376.4 541.25 376.8 541.50 376.9 541.75 375.6 542.00 377.1 542.25 375.5 542.50 374.7 542.75 375.9 543.00 376.9 543.25 378.6 543.50 376.1"/><path d="M61.00 359.8 61.25 360.6 61.50 360.0 61.75 359.6 62.00 360.6 62.25 358.5 62.50 359.6 62.75 360.0 63.00 361.4 63.25 361.6 63.50 362.4 63.75 363.4 64.00 364.2 64.25 364.1 64.50 363.1 64.75 364.6 65.00 363.7 65.25 365.8 65.50 364.7 65.75 363.8 66.00 363.7 66.25 362.5 66.50 363.8 66.75 362.2 67.00 363.8 67.25 361.0 67.50 361.7 67.75 364.6 68.00 364.5 68.25 364.1 68.50 360.3 68.75 360.6 69.00 360.7 69.25 360.5 69.50 363.0 69.75 362.5 70.00 363.4 70.25 363.3 70.50 363.4 70.75 367.2 71.00 366.0 71.25 364.5 71.50 367.5 71.75 365.5 72.00 366.2 72.25 368.4 72.50 365.8 72.75 366.3 73.00 366.1 73.25 368.3 73.50 368.3 73.75 365.9 74.00 367.7 74.25 363.5 74.50 364.8 74.75 366.4 75.00 364.5 75.25 365.3 75.50 365.3 75.75 366.0 76.00 365.8 76.25 364.1 76.50 365.7 76.75 365.7 77.00 367.5 77.25 365.0 77.50 366.3 77.75 368.9 78.00 368.1 78.25 370.7 78.50 367.9 78.75 364.8 79.00 369.4 79.25 368.5 79.50 368.0 79.75 366.8 80.00 368.2 80.25 369.0 80.50 368.5 80.75 368.0 81.00 368.5 81.25 367.8 81.50 366.2 81.75 367.7 82.00 368.0 82.25 369.9 82.50 367.8 82.75 366.7 83.00 369.6 83.25 369.3 83.50 367.9 83.75 367.2 84.00 370.5 84.25 366.6 84.50 367.9 84.75 369.0 85.00 367.5 85.25 368.6 85.50 369.5 85.75 368.5 86.00 367.5 86.25 368.4 86.50 369.1 86.75 370.5 87.00 367.9 87.25 370.9 87.50 368.1 87.75 370.7 88.00 371.7 88.25 370.7 88.50 369.0 88.75 371.4 89.00 370.9 89.25 370.2 89.50 369.6 89.75 369.4 90.00 369.9 90.25 372.9 90.50 370.9 90.75 370.9 91.00 369.8 91.25 370.7 91.50 369.8 91.75 369.0 92.00 369.6 92.25 368.5 92.50 368.9 92.75 368.3 93.00 367.3 93.25 368.6 93.50 368.7 93.75 364.6 94.00 367.7 94.25 367.9 94.50 367.8 94.75 369.6 95.00 368.2 95.25 367.5 95.50 367.0 95.75 368.4 96.00 365.4 96.25 366.4 96.50 365.2 96.75 364.3 97.00 362.7 97.25 359.2 97.50 355.5 97.75 351.1 98.00 340.3 98.25 324.0 98.50 284.0 98.75 212.7 99.00 160.8 99.25 212.7 99.50 281.8 99.75 321.1 100.00 338.6 100.25 345.6 100.50 352.6 100.75 355.0 101.00 359.1 101.25 359.7 101.50 359.2 101.75 358.2 102.00 362.6 102.25 363.3 102.50 364.2 102.75 368.4 103.00 366.6 103.25 368.2 103.50 366.6 103.75 369.1 104.00 368.2 104.25 367.4 104.50 369.3 104.75 369.9 105.00 368.9 105.25 372.0 105.50 370.5 105.75 368.8 106.00 367.9 106.25 371.9 106.50 372.2 106.75 372.3 107.00 370.7 107.25 370.9 107.50 372.8 107.75 371.7 108.00 372.2 108.25 373.0 108.50 373.5 108.75 371.2 109.00 371.9 109.25 372.3 109.50 371.3 109.75 373.2 110.00 370.9 110.25 372.8 110.50 371.9 110.75 374.0 111.00 372.7 111.25 371.9 111.50 372.4 111.75 371.3 112.00 373.7 112.25 372.7 112.50 372.6 112.75 373.4 113.00 373.4 113.25 372.2 113.50 371.2 113.75 373.7 114.00 372.6 114.25 372.1 114.50 372.7 114.75 371.1 115.00 373.0 115.25 370.5 115.50 370.0 115.75 369.7 116.00 367.9 116.25 365.9 116.50 362.5 116.75 356.3 117.00 354.7 117.25 357.7 117.50 365.6 117.75 367.1 118.00 369.1 118.25 370.5 118.50 372.9 118.75 373.4 119.00 372.3 119.25 374.7 119.50 372.0 119.75 373.0 120.00 373.7 120.25 374.3 120.50 373.4 120.75 376.2 121.00 375.9 121.25 374.8 121.50 374.8 121.75 374.6 122.00 374.8 122.25 375.7 122.50 375.8 122.75 375.5 123.00 374.5 123.25 373.2 123.50 373.0 123.75 375.3 124.00 373.4 124.25 374.5 124.50 376.5 124.75 375.6 125.00 375.4 125.25 375.5 125.50 376.2 125.75 376.3 126.00 374.4 126.25 374.1 126.50 374.5 126.75 375.4 127.00 378.0 127.25 375.6 127.50 375.5 127.75 376.6 128.00 376.3 128.25 374.3 128.50 372.5 128.75 378.1 129.00 374.4 129.25 374.1 129.50 376.1 129.75 373.3 130.00 374.1 130.25 372.7 130.50 375.6 130.75 373.6 131.00 374.7 131.25 375.5 131.50 374.3 131.75 377.3 132.00 374.3 132.25 372.5 132.50 375.2 132.75 375.2 133.00 375.2 133.25 373.1 133.50 373.3 133.75 373.8 134.00 375.1 134.25 373.9 134.50 375.7 134.75 375.2 135.00 375.1 135.25 373.5 135.50 372.2 135.75 374.7 136.00 376.2 136.25 375.5 136.50 373.3 136.75 375.2 137.00 374.3 137.25 374.8 137.50 372.7 137.75 372.9 138.00 373.8 138.25 375.5 138.50 373.7 138.75 374.3 139.00 375.9 139.25 373.7 139.50 373.8 139.75 373.7 140.00 376.0 140.25 374.0 140.50 373.1 140.75 374.1 141.00 375.3 141.25 375.3 141.50 375.9 141.75 376.7 142.00 375.5 142.25 374.5 142.50 372.7 142.75 375.1 143.00 375.6 143.25 375.2 143.50 375.2 143.75 373.7 144.00 375.2 144.25 372.4 144.50 372.8 144.75 372.4 145.00 375.7 145.25 375.7 145.50 375.8 145.75 377.2 146.00 373.9 146.25 375.8 146.50 375.0 146.75 374.5 147.00 376.1 147.25 374.4 147.50 373.2 147.75 374.8 148.00 372.6 148.25 372.1 148.50 372.0 148.75 368.8 149.00 366.3 149.25 363.2 149.50 358.2 149.75 343.4 150.00 330.6 150.25 311.6 150.50 308.4 150.75 325.1 151.00 340.5 151.25 354.1 151.50 362.0 151.75 365.0 152.00 365.5 152.25 368.8 152.50 368.6 152.75 369.7 153.00 370.5 153.25 373.3 153.50 374.5 153.75 372.6 154.00 374.3 154.25 372.4 154.50 372.6 154.75 374.6 155.00 375.7 155.25 374.7 155.50 370.2 155.75 372.8 156.00 373.6 156.25 373.8 156.50 372.5 156.75 377.1 157.00 371.7 157.25 374.2 157.50 373.2 157.75 374.0 158.00 374.4 158.25 373.5 158.50 374.4 158.75 372.0 159.00 372.6 159.25 374.1 159.50 371.9 159.75 373.9 160.00 372.6 160.25 371.8 160.50 373.2 160.75 372.2 161.00 375.1 161.25 372.9 161.50 374.6 161.75 371.2 162.00 373.2 162.25 371.4 162.50 371.7 162.75 369.6 163.00 370.8 163.25 370.9 163.50 366.1 163.75 364.1 164.00 364.8 164.25 356.5 164.50 350.3 164.75 337.1 165.00 314.9 165.25 285.1 165.50 256.6 165.75 258.1 166.00 293.7 166.25 322.0 166.50 338.0 166.75 352.5 167.00 361.8 167.25 362.1 167.50 366.0 167.75 369.6 168.00 365.9 168.25 371.1 168.50 372.4 168.75 372.4 169.00 369.5 169.25 372.3 169.50 371.5 169.75 373.9 170.00 373.8 170.25 372.3 170.50 373.0 170.75 372.2 171.00 373.1 171.25 373.4 171.50 374.0 171.75 373.8 172.00 373.3 172.25 374.4 172.50 373.9 172.75 374.4 173.00 373.5 173.25 376.0 173.50 375.7 173.75 375.3 174.00 372.3 174.25 373.5 174.50 372.4 174.75 372.5 175.00 372.8 175.25 372.9 175.50 370.6 175.75 372.9 176.00 372.8 176.25 372.4 176.50 369.9 176.75 370.6 177.00 369.8 177.25 368.1 177.50 367.0 177.75 366.6 178.00 363.7 178.25 361.1 178.50 359.9 178.75 357.4 179.00 356.0 179.25 355.2 179.50 351.7 179.75 355.2 180.00 358.2 180.25 359.1 180.50 362.4 180.75 365.1 181.00 366.3 181.25 368.8 181.50 370.8 181.75 371.9 182.00 370.0 182.25 370.3 182.50 372.5 182.75 371.6 183.00 372.3 183.25 373.8 183.50 372.2 183.75 375.5 184.00 373.6 184.25 374.8 184.50 374.0 184.75 375.4 185.00 374.4 185.25 373.5 185.50 375.2 185.75 376.8 186.00 374.5 186.25 377.1 186.50 378.6 186.75 376.2 187.00 377.5 187.25 376.1 187.50 377.5 187.75 376.0 188.00 373.5 188.25 375.4 188.50 377.5 188.75 375.8 189.00 375.1 189.25 376.5 189.50 374.5 189.75 378.3 190.00 375.1 190.25 377.0 190.50 376.6 190.75 375.8 191.00 374.5 191.25 375.9 191.50 375.5 191.75 375.1 192.00 372.6 192.25 374.4 192.50 373.8 192.75 373.5 193.00 373.1 193.25 372.0 193.50 370.9 193.75 372.7 194.00 370.9 194.25 371.1 194.50 372.3 194.75 374.5 195.00 373.2 195.25 373.9 195.50 372.3 195.75 372.2 196.00 372.7 196.25 372.0 196.50 371.3 196.75 370.4 197.00 368.1 197.25 366.4 197.50 363.4 197.75 360.6 198.00 350.7 198.25 338.2 198.50 319.1 198.75 294.0 199.00 280.2 199.25 290.9 199.50 317.6 199.75 337.0 200.00 349.3 200.25 356.7 200.50 360.9 200.75 361.4 201.00 359.4 201.25 356.4 201.50 348.5 201.75 341.0 202.00 339.4 202.25 343.2 202.50 350.7 202.75 359.7 203.00 365.3 203.25 368.5 203.50 368.7 203.75 371.0 204.00 374.1 204.25 376.8 204.50 373.8 204.75 372.7 205.00 373.5 205.25 373.7 205.50 374.4 205.75 375.9 206.00 376.8 206.25 372.1 206.50 374.2 206.75 374.5 207.00 373.6 207.25 373.4 207.50 373.2 207.75 375.3 208.00 374.1 208.25 372.8 208.50 375.7 208.75 374.2 209.00 370.7 209.25 369.2 209.50 368.0 209.75 364.8 210.00 360.7 210.25 365.2 210.50 367.4 210.75 370.4 211.00 369.2 211.25 369.7 211.50 372.5 211.75 372.2 212.00 373.3 212.25 371.0 212.50 371.9 212.75 367.5 213.00 368.4 213.25 368.5 213.50 363.5 213.75 360.2 214.00 355.4 214.25 350.8 214.50 351.0 214.75 353.9 215.00 360.1 215.25 367.9 215.50 371.7 215.75 370.0 216.00 370.9 216.25 372.8 216.50 373.3 216.75 370.7 217.00 373.9 217.25 370.3 217.50 371.6 217.75 369.6 218.00 373.6 218.25 373.3 218.50 373.7 218.75 372.0 219.00 373.9 219.25 372.0 219.50 374.1 219.75 375.9 220.00 374.7 220.25 372.9 220.50 375.4 220.75 372.8 221.00 372.9 221.25 374.0 221.50 370.9 221.75 372.1 222.00 370.7 222.25 367.5 222.50 366.2 222.75 363.2 223.00 361.9 223.25 363.7 223.50 368.3 223.75 370.6 224.00 371.6 224.25 373.1 224.50 374.7 224.75 373.1 225.00 375.1 225.25 373.9 225.50 374.3 225.75 372.1 226.00 374.9 226.25 371.9 226.50 373.3 226.75 372.7 227.00 374.1 227.25 372.6 227.50 373.5 227.75 371.7 228.00 370.8 228.25 371.7 228.50 368.2 228.75 364.7 229.00 360.8 229.25 361.5 229.50 360.5 229.75 362.3 230.00 367.4 230.25 370.4 230.50 370.3 230.75 370.2 231.00 375.0 231.25 371.0 231.50 372.6 231.75 371.5 232.00 369.9 232.25 372.2 232.50 371.8 232.75 372.8 233.00 371.1 233.25 369.2 233.50 368.9 233.75 362.6 234.00 355.9 234.25 350.4 234.50 349.3 234.75 354.6 235.00 362.9 235.25 366.2 235.50 370.2 235.75 371.7 236.00 370.5 236.25 372.7 236.50 372.6 236.75 373.2 237.00 376.0 237.25 376.6 237.50 375.7 237.75 372.1 238.00 375.8 238.25 375.6 238.50 376.2 238.75 373.8 239.00 372.3 239.25 372.6 239.50 375.2 239.75 375.3 240.00 374.4 240.25 371.6 240.50 371.9 240.75 371.0 241.00 368.5 241.25 370.9 241.50 370.6 241.75 371.8 242.00 371.4 242.25 373.8 242.50 371.6 242.75 373.2 243.00 371.7 243.25 371.4 243.50 372.3 243.75 374.1 244.00 373.1 244.25 373.4 244.50 374.0 244.75 374.2 245.00 373.3 245.25 372.6 245.50 371.3 245.75 373.8 246.00 370.6 246.25 371.5 246.50 373.8 246.75 373.9 247.00 373.1 247.25 374.8 247.50 372.3 247.75 372.6 248.00 374.9 248.25 372.3 248.50 375.1 248.75 374.2 249.00 374.9 249.25 374.6 249.50 375.5 249.75 376.2 250.00 373.7 250.25 373.8 250.50 376.6 250.75 375.3 251.00 374.4 251.25 377.1 251.50 374.7 251.75 376.1 252.00 374.9 252.25 375.9 252.50 373.5 252.75 373.7 253.00 376.6 253.25 373.8 253.50 376.9 253.75 377.4 254.00 374.4 254.25 375.2 254.50 375.6 254.75 374.1 255.00 375.4 255.25 373.2 255.50 373.0 255.75 375.5 256.00 374.6 256.25 372.4 256.50 372.0 256.75 372.7 257.00 372.9 257.25 372.0 257.50 371.8 257.75 370.6 258.00 372.1 258.25 373.0 258.50 375.7 258.75 375.4 259.00 373.5 259.25 374.5 259.50 375.1 259.75 374.4 260.00 373.8 260.25 374.5 260.50 373.3 260.75 372.9 261.00 374.7 261.25 371.6 261.50 373.1 261.75 372.1 262.00 371.5 262.25 370.9 262.50 371.3 262.75 371.2 263.00 368.1 263.25 366.8 263.50 364.4 263.75 360.1 264.00 357.8 264.25 360.6 264.50 366.3 264.75 365.6 265.00 368.9 265.25 369.7 265.50 371.4 265.75 370.3 266.00 372.6 266.25 370.2 266.50 374.3 266.75 372.4 267.00 374.6 267.25 372.3 267.50 372.9 267.75 374.0 268.00 374.4 268.25 374.0 268.50 376.3 268.75 374.9 269.00 375.1 269.25 375.4 269.50 375.1 269.75 378.0 270.00 375.9 270.25 376.3 270.50 374.2 270.75 374.0 271.00 374.3 271.25 373.4 271.50 374.7 271.75 374.2 272.00 373.6 272.25 369.3 272.50 371.0 272.75 366.3 273.00 364.7 273.25 366.5 273.50 369.0 273.75 371.1 274.00 372.4 274.25 374.7 274.50 372.2 274.75 370.4 275.00 372.3 275.25 372.8 275.50 373.4 275.75 375.1 276.00 373.7 276.25 373.3 276.50 376.8 276.75 375.9 277.00 375.8 277.25 374.3 277.50 375.6 277.75 376.1 278.00 372.6 278.25 372.9 278.50 371.7 278.75 373.3 279.00 370.5 279.25 368.8 279.50 365.3 279.75 364.5 280.00 362.8 280.25 365.3 280.50 369.9 280.75 371.5 281.00 373.6 281.25 373.3 281.50 373.7 281.75 374.3 282.00 374.3 282.25 376.2 282.50 375.3 282.75 374.6 283.00 373.6 283.25 376.6 283.50 374.5 283.75 377.0 284.00 377.3 284.25 375.3 284.50 375.2 284.75 376.2 285.00 377.3 285.25 374.9 285.50 374.9 285.75 375.0 286.00 376.4 286.25 377.1 286.50 377.3 286.75 377.6 287.00 374.1 287.25 374.6 287.50 376.5 287.75 377.0 288.00 376.0 288.25 374.1 288.50 374.0 288.75 372.9 289.00 375.8 289.25 374.6 289.50 374.6 289.75 373.9 290.00 372.7 290.25 372.3 290.50 372.6 290.75 370.3 291.00 364.9 291.25 360.6 291.50 356.3 291.75 357.3 292.00 360.0 292.25 366.4 292.50 368.6 292.75 371.3 293.00 370.0 293.25 371.6 293.50 373.5 293.75 376.1 294.00 372.1 294.25 373.7 294.50 374.4 294.75 373.4 295.00 375.1 295.25 374.4 295.50 375.2 295.75 375.0 296.00 373.2 296.25 375.2 296.50 373.1 296.75 375.9 297.00 373.9 297.25 375.0 297.50 375.6 297.75 375.6 298.00 373.3 298.25 373.1 298.50 374.7 298.75 374.1 299.00 374.9 299.25 375.0 299.50 374.5 299.75 376.7 300.00 371.4 300.25 373.0 300.50 374.9 300.75 372.5 301.00 374.5 301.25 371.8 301.50 374.0 301.75 375.2 302.00 372.5 302.25 374.0 302.50 370.5 302.75 371.7 303.00 369.8 303.25 370.9 303.50 367.5 303.75 364.4 304.00 357.2 304.25 353.3 304.50 343.4 304.75 331.9 305.00 325.5 305.25 331.3 305.50 342.3 305.75 354.6 306.00 359.6 306.25 365.0 306.50 367.0 306.75 371.8 307.00 372.0 307.25 372.2 307.50 371.1 307.75 370.8 308.00 373.8 308.25 373.5 308.50 375.7 308.75 373.0 309.00 373.5 309.25 375.4 309.50 374.7 309.75 375.2 310.00 374.0 310.25 374.2 310.50 376.9 310.75 376.4 311.00 376.4 311.25 373.5 311.50 373.8 311.75 374.3 312.00 372.9 312.25 371.2 312.50 371.0 312.75 369.4 313.00 366.0 313.25 364.1 313.50 361.5 313.75 361.7 314.00 364.4 314.25 366.5 314.50 367.2 314.75 374.4 315.00 373.0 315.25 374.9 315.50 375.2 315.75 376.3 316.00 375.3 316.25 374.7 316.50 374.3 316.75 372.7 317.00 373.4 317.25 373.7 317.50 371.7 317.75 373.4 318.00 371.6 318.25 369.9 318.50 366.0 318.75 363.2 319.00 359.3 319.25 354.4 319.50 355.4 319.75 356.7 320.00 361.3 320.25 366.8 320.50 369.6 320.75 371.1 321.00 371.1 321.25 372.3 321.50 373.5 321.75 373.4 322.00 370.7 322.25 372.2 322.50 373.0 322.75 371.0 323.00 370.8 323.25 370.6 323.50 370.8 323.75 367.8 324.00 367.2 324.25 362.9 324.50 356.2 324.75 351.7 325.00 348.4 325.25 354.2 325.50 357.0 325.75 366.1 326.00 367.9 326.25 368.8 326.50 371.0 326.75 373.2 327.00 374.7 327.25 372.1 327.50 373.4 327.75 374.2 328.00 374.8 328.25 373.8 328.50 373.4 328.75 375.6 329.00 371.0 329.25 377.2 329.50 376.0 329.75 376.3 330.00 374.3 330.25 374.2 330.50 376.0 330.75 375.8 331.00 375.2 331.25 376.1 331.50 377.4 331.75 375.4 332.00 375.7 332.25 376.5 332.50 375.7 332.75 376.0 333.00 377.1 333.25 375.3 333.50 376.3 333.75 377.4 334.00 375.3 334.25 375.1 334.50 375.8 334.75 379.2 335.00 372.6 335.25 376.0 335.50 373.3 335.75 374.3 336.00 374.0 336.25 375.7 336.50 375.0 336.75 375.6 337.00 374.7 337.25 376.5 337.50 376.0 337.75 373.1 338.00 373.4 338.25 374.2 338.50 375.6 338.75 376.3 339.00 373.5 339.25 374.8 339.50 374.6 339.75 375.2 340.00 371.4 340.25 372.7 340.50 369.0 340.75 366.9 341.00 365.4 341.25 366.6 341.50 368.3 341.75 373.2 342.00 368.8 342.25 371.5 342.50 372.2 342.75 374.7 343.00 372.6 343.25 376.4 343.50 374.6 343.75 376.3 344.00 376.0 344.25 374.3 344.50 374.3 344.75 374.3 345.00 374.2 345.25 375.2 345.50 374.3 345.75 372.5 346.00 370.0 346.25 370.9 346.50 371.4 346.75 366.0 347.00 365.6 347.25 364.8 347.50 365.9 347.75 370.7 348.00 369.8 348.25 373.6 348.50 372.9 348.75 371.7 349.00 373.4 349.25 373.4 349.50 373.8 349.75 371.4 350.00 373.5 350.25 372.5 350.50 373.8 350.75 375.1 351.00 371.6 351.25 373.9 351.50 372.4 351.75 373.1 352.00 375.6 352.25 373.4 352.50 373.0 352.75 374.1 353.00 372.5 353.25 372.1 353.50 371.5 353.75 370.7 354.00 371.8 354.25 370.4 354.50 369.3 354.75 369.4 355.00 366.3 355.25 366.8 355.50 357.5 355.75 354.7 356.00 353.1 356.25 354.8 356.50 361.3 356.75 364.6 357.00 367.5 357.25 367.7 357.50 373.1 357.75 372.8 358.00 373.1 358.25 372.5 358.50 374.0 358.75 373.3 359.00 373.8 359.25 372.3 359.50 374.3 359.75 372.1 360.00 374.1 360.25 374.8 360.50 372.1 360.75 372.6 361.00 373.4 361.25 374.4 361.50 375.3 361.75 374.5 362.00 374.5 362.25 375.7 362.50 373.7 362.75 374.6 363.00 375.3 363.25 375.9 363.50 377.0 363.75 376.0 364.00 375.9 364.25 376.6 364.50 375.2 364.75 377.3 365.00 375.3 365.25 376.1 365.50 377.7 365.75 375.4 366.00 377.8 366.25 376.3 366.50 375.6 366.75 376.3 367.00 376.0 367.25 377.0 367.50 376.2 367.75 376.5 368.00 376.4 368.25 375.8 368.50 373.6 368.75 376.0 369.00 371.3 369.25 376.1 369.50 375.9 369.75 375.5 370.00 375.4 370.25 374.8 370.50 376.0 370.75 374.1 371.00 373.2 371.25 375.0 371.50 374.8 371.75 375.7 372.00 374.4 372.25 376.6 372.50 377.4 372.75 374.4 373.00 376.5 373.25 377.1 373.50 373.5 373.75 373.4 374.00 375.6 374.25 374.1 374.50 372.7 374.75 371.5 375.00 372.5 375.25 368.6 375.50 366.9 375.75 363.1 376.00 362.6 376.25 366.4 376.50 367.2 376.75 368.7 377.00 369.9 377.25 371.1 377.50 372.4 377.75 372.9 378.00 372.2 378.25 373.4 378.50 371.8 378.75 371.8 379.00 368.0 379.25 367.6 379.50 362.6 379.75 363.1 380.00 367.1 380.25 367.1 380.50 368.1 380.75 370.3 381.00 371.9 381.25 371.5 381.50 371.2 381.75 373.5 382.00 374.2 382.25 371.8 382.50 372.4 382.75 372.4 383.00 374.0 383.25 371.4 383.50 373.3 383.75 372.2 384.00 373.5 384.25 373.4 384.50 372.6 384.75 372.8 385.00 374.3 385.25 375.6 385.50 376.9 385.75 376.4 386.00 376.1 386.25 378.4 386.50 376.9 386.75 378.3 387.00 376.6 387.25 376.7 387.50 374.7 387.75 375.6 388.00 376.2 388.25 375.9 388.50 377.6 388.75 377.2 389.00 375.2 389.25 374.6 389.50 373.0 389.75 376.0 390.00 374.3 390.25 374.9 390.50 373.5 390.75 374.8 391.00 375.2 391.25 375.2 391.50 375.0 391.75 372.6 392.00 375.0 392.25 374.8 392.50 376.2 392.75 375.4 393.00 375.7 393.25 375.5 393.50 375.6 393.75 374.8 394.00 372.9 394.25 371.0 394.50 372.1 394.75 371.9 395.00 369.3 395.25 365.6 395.50 361.3 395.75 358.9 396.00 356.3 396.25 356.5 396.50 362.3 396.75 367.0 397.00 370.4 397.25 373.8 397.50 373.0 397.75 376.1 398.00 374.4 398.25 371.6 398.50 373.6 398.75 374.2 399.00 372.3 399.25 376.8 399.50 376.1 399.75 376.4 400.00 375.6 400.25 378.1 400.50 377.7 400.75 375.9 401.00 376.6 401.25 373.8 401.50 376.5 401.75 377.5 402.00 375.8 402.25 375.5 402.50 374.7 402.75 375.0 403.00 372.5 403.25 373.8 403.50 373.7 403.75 373.7 404.00 374.1 404.25 373.0 404.50 372.9 404.75 375.3 405.00 371.4 405.25 375.3 405.50 374.1 405.75 373.5 406.00 373.5 406.25 374.7 406.50 376.9 406.75 374.6 407.00 376.6 407.25 376.1 407.50 375.5 407.75 376.7 408.00 377.7 408.25 378.0 408.50 379.3 408.75 376.0 409.00 377.7 409.25 376.5 409.50 377.2 409.75 376.0 410.00 375.2 410.25 375.1 410.50 375.4 410.75 373.5 411.00 375.4 411.25 373.6 411.50 374.9 411.75 374.7 412.00 374.8 412.25 372.8 412.50 377.2 412.75 373.4 413.00 374.9 413.25 374.4 413.50 375.9 413.75 375.6 414.00 373.7 414.25 373.7 414.50 372.8 414.75 373.4 415.00 375.0 415.25 373.6 415.50 375.3 415.75 374.4 416.00 372.4 416.25 374.7 416.50 376.2 416.75 375.0 417.00 373.8 417.25 375.7 417.50 377.0 417.75 375.5 418.00 374.5 418.25 376.2 418.50 374.7 418.75 374.1 419.00 375.1 419.25 373.3 419.50 372.8 419.75 373.5 420.00 374.5 420.25 372.7 420.50 373.2 420.75 374.3 421.00 372.5 421.25 372.6 421.50 368.4 421.75 367.7 422.00 366.1 422.25 359.5 422.50 360.2 422.75 361.6 423.00 360.9 423.25 366.4 423.50 370.9 423.75 372.0 424.00 372.7 424.25 372.9 424.50 376.6 424.75 375.2 425.00 374.8 425.25 373.5 425.50 378.1 425.75 377.4 426.00 376.1 426.25 376.9 426.50 375.6 426.75 374.9 427.00 377.9 427.25 372.8 427.50 373.2 427.75 373.5 428.00 372.3 428.25 372.4 428.50 373.1 428.75 373.1 429.00 373.8 429.25 374.3 429.50 373.2 429.75 373.7 430.00 373.6 430.25 372.7 430.50 374.2 430.75 373.9 431.00 376.2 431.25 375.6 431.50 376.0 431.75 376.4 432.00 373.6 432.25 375.9 432.50 374.1 432.75 376.7 433.00 373.9 433.25 374.4 433.50 374.1 433.75 371.8 434.00 373.8 434.25 373.7 434.50 372.5 434.75 369.0 435.00 365.7 435.25 362.5 435.50 359.4 435.75 357.9 436.00 361.5 436.25 364.1 436.50 366.9 436.75 369.8 437.00 370.7 437.25 372.0 437.50 372.8 437.75 373.5 438.00 373.3 438.25 375.6 438.50 375.4 438.75 375.5 439.00 376.1 439.25 374.7 439.50 375.0 439.75 376.0 440.00 375.2 440.25 375.2 440.50 373.6 440.75 373.0 441.00 374.3 441.25 371.7 441.50 371.7 441.75 373.0 442.00 374.4 442.25 373.4 442.50 374.7 442.75 373.9 443.00 375.6 443.25 377.1 443.50 375.2 443.75 375.6 444.00 377.3 444.25 375.3 444.50 378.9 444.75 373.9 445.00 375.9 445.25 377.8 445.50 376.8 445.75 374.2 446.00 376.3 446.25 375.3 446.50 375.2 446.75 375.5 447.00 377.2 447.25 374.5 447.50 378.5 447.75 373.6 448.00 374.9 448.25 376.7 448.50 374.6 448.75 375.5 449.00 373.2 449.25 372.7 449.50 373.6 449.75 373.1 450.00 374.6 450.25 372.1 450.50 375.4 450.75 373.7 451.00 372.3 451.25 371.1 451.50 375.7 451.75 373.4 452.00 375.6 452.25 375.8 452.50 373.8 452.75 375.5 453.00 373.9 453.25 376.6 453.50 374.8 453.75 377.6 454.00 376.9 454.25 376.5 454.50 377.5 454.75 376.9 455.00 375.4 455.25 375.9 455.50 376.5 455.75 374.8 456.00 374.5 456.25 375.4 456.50 372.8 456.75 373.9 457.00 369.4 457.25 369.9 457.50 364.5 457.75 365.9 458.00 357.7 458.25 355.2 458.50 350.4 458.75 350.6 459.00 354.4 459.25 360.6 459.50 363.4 459.75 369.5 460.00 370.3 460.25 369.4 460.50 373.8 460.75 374.6 461.00 374.2 461.25 375.7 461.50 375.5 461.75 373.6 462.00 377.3 462.25 377.1 462.50 376.4 462.75 375.1 463.00 375.8 463.25 375.5 463.50 376.2 463.75 375.5 464.00 374.5 464.25 374.2 464.50 374.0 464.75 374.8 465.00 375.0 465.25 374.1 465.50 373.8 465.75 375.1 466.00 373.8 466.25 374.3 466.50 373.8 466.75 374.4 467.00 374.5 467.25 372.2 467.50 373.9 467.75 375.0 468.00 374.0 468.25 373.9 468.50 373.4 468.75 373.5 469.00 379.5 469.25 375.3 469.50 375.2 469.75 376.3 470.00 373.9 470.25 373.7 470.50 373.5 470.75 374.6 471.00 374.6 471.25 371.4 471.50 373.0 471.75 372.5 472.00 372.2 472.25 372.7 472.50 372.2 472.75 372.5 473.00 369.7 473.25 370.7 473.50 371.3 473.75 369.4 474.00 368.5 474.25 367.7 474.50 370.7 474.75 370.7 475.00 371.8 475.25 375.8 475.50 374.5 475.75 376.9 476.00 377.8 476.25 376.3 476.50 372.7 476.75 373.5 477.00 375.5 477.25 375.1 477.50 374.2 477.75 375.4 478.00 375.0 478.25 375.0 478.50 377.6 478.75 374.4 479.00 375.9 479.25 376.4 479.50 376.3 479.75 376.7 480.00 378.0 480.25 375.5 480.50 375.9 480.75 377.5 481.00 374.6 481.25 376.4 481.50 376.1 481.75 376.4 482.00 378.4 482.25 375.9 482.50 376.6 482.75 372.8 483.00 375.0 483.25 375.6 483.50 376.2 483.75 378.3 484.00 375.8 484.25 375.8 484.50 375.5 484.75 374.3 485.00 376.3 485.25 375.9 485.50 375.7 485.75 376.4 486.00 378.5 486.25 375.7 486.50 374.2 486.75 377.3 487.00 376.3 487.25 374.9 487.50 376.2 487.75 375.2 488.00 378.0 488.25 376.0 488.50 375.0 488.75 374.7 489.00 376.0 489.25 376.5 489.50 375.2 489.75 372.8 490.00 374.4 490.25 376.0 490.50 377.4 490.75 376.3 491.00 375.8 491.25 374.8 491.50 376.1 491.75 376.2 492.00 378.2 492.25 375.8 492.50 376.2 492.75 376.5 493.00 375.5 493.25 376.8 493.50 374.5 493.75 375.8 494.00 373.6 494.25 376.6 494.50 375.0 494.75 376.1 495.00 375.3 495.25 376.3 495.50 376.3 495.75 375.2 496.00 375.4 496.25 377.3 496.50 374.9 496.75 375.1 497.00 378.4 497.25 375.8 497.50 375.0 497.75 374.6 498.00 374.6 498.25 373.7 498.50 374.3 498.75 376.2 499.00 375.6 499.25 373.5 499.50 373.4 499.75 375.6 500.00 374.1 500.25 374.2 500.50 376.0 500.75 376.5 501.00 375.1 501.25 374.5 501.50 375.4 501.75 375.1 502.00 373.9 502.25 376.0 502.50 376.5 502.75 373.8 503.00 373.8 503.25 375.2 503.50 376.2 503.75 375.8 504.00 374.7 504.25 376.4 504.50 373.6 504.75 373.4 505.00 375.5 505.25 370.4 505.50 370.2 505.75 368.0 506.00 366.1 506.25 366.5 506.50 368.3 506.75 364.8 507.00 369.4 507.25 372.5 507.50 371.8 507.75 374.6 508.00 373.8 508.25 375.7 508.50 374.1 508.75 374.6 509.00 377.1 509.25 375.1 509.50 372.2 509.75 373.8 510.00 373.6 510.25 373.1 510.50 371.9 510.75 374.2 511.00 374.3 511.25 375.9 511.50 376.9 511.75 374.8 512.00 375.1 512.25 374.6 512.50 374.5 512.75 375.1 513.00 375.5 513.25 374.9 513.50 374.7 513.75 375.8 514.00 375.1 514.25 374.0 514.50 374.6 514.75 374.3 515.00 373.8 515.25 373.9 515.50 371.5 515.75 368.6 516.00 364.0 516.25 364.1 516.50 362.8 516.75 361.5 517.00 360.9 517.25 361.7 517.50 361.2 517.75 365.7 518.00 368.1 518.25 369.5 518.50 369.9 518.75 373.6 519.00 370.5 519.25 370.7 519.50 374.6 519.75 373.6 520.00 373.8 520.25 375.5 520.50 373.6 520.75 374.4 521.00 374.9 521.25 376.4 521.50 372.4 521.75 374.6 522.00 373.9 522.25 373.8 522.50 375.0 522.75 373.3 523.00 374.5 523.25 376.1 523.50 374.9 523.75 375.2 524.00 374.8 524.25 374.1 524.50 374.1 524.75 373.6 525.00 374.3 525.25 371.9 525.50 373.4 525.75 372.1 526.00 372.4 526.25 374.5 526.50 374.9 526.75 371.8 527.00 373.3 527.25 373.7 527.50 372.7 527.75 375.6 528.00 374.5 528.25 375.4 528.50 375.3 528.75 376.1 529.00 375.9 529.25 376.3 529.50 374.5 529.75 375.3 530.00 375.8 530.25 375.5 530.50 376.0 530.75 372.7 531.00 373.9 531.25 375.5 531.50 374.3 531.75 374.5 532.00 375.0 532.25 374.6 532.50 375.3 532.75 375.8 533.00 375.3 533.25 374.3 533.50 378.5 533.75 373.1 534.00 375.7 534.25 374.3 534.50 376.3 534.75 373.0 535.00 375.4 535.25 374.1 535.50 377.6 535.75 377.1 536.00 373.7 536.25 376.7 536.50 376.6 536.75 375.8 537.00 376.2 537.25 375.9 537.50 376.8 537.75 373.1 538.00 375.7 538.25 377.4 538.50 376.8 538.75 378.7 539.00 375.2 539.25 377.8 539.50 375.8 539.75 377.9 540.00 377.8 540.25 376.1 540.50 376.4 540.75 378.9 541.00 374.1 541.25 377.8 541.50 378.0 541.75 377.2 542.00 375.0 542.25 376.6 542.50 375.9 542.75 376.1 543.00 376.6 543.25 374.7 543.50 376.6"/><path d="M61.00 360.5 L61.25 361.4 L61.50 359.5 L61.75 359.9 L62.00 359.6 L62.25 360.6 L62.50 360.2 L62.75 363.0 L63.00 358.8 L63.25 362.0 L63.50 360.1 L63.75 360.9 L64.00 363.6 L64.25 359.9 L64.50 361.7 L64.75 360.4 L65.00 363.4 L65.25 361.1 L65.50 363.7 L65.75 362.3 L66.00 365.6 L66.25 360.4 L66.50 366.6 L66.75 364.4 L67.00 362.1 L67.25 361.8 L67.50 364.7 L67.75 363.8 L68.00 363.5 L68.25 366.2 L68.50 364.2 L68.75 361.8 L69.00 365.5 L69.25 364.2 L69.50 364.2 L69.75 364.3 L70.00 364.3 L70.25 363.6 L70.50 364.8 L70.75 362.6 L71.00 365.1 L71.25 363.0 L71.50 365.5 L71.75 364.5 L72.00 365.7 L72.25 364.7 L72.50 365.1 L72.75 364.8 L73.00 365.6 L73.25 367.8 L73.50 366.9 L73.75 367.6 L74.00 365.1 L74.25 367.5 L74.50 367.0 L74.75 365.1 L75.00 364.8 L75.25 365.7 L75.50 365.1 L75.75 366.7 L76.00 366.3 L76.25 365.4 L76.50 364.1 L76.75 366.4 L77.00 364.9 L77.25 366.6 L77.50 366.8 L77.75 366.9 L78.00 366.7 L78.25 365.4 L78.50 365.6 L78.75 363.7 L79.00 366.8 L79.25 367.3 L79.50 366.3 L79.75 365.2 L80.00 366.9 L80.25 366.0 L80.50 366.8 L80.75 369.4 L81.00 367.5 L81.25 367.1 L81.50 368.9 L81.75 368.5 L82.00 367.5 L82.25 369.1 L82.50 370.2 L82.75 368.3 L83.00 370.1 L83.25 367.9 L83.50 366.2 L83.75 367.9 L84.00 366.3 L84.25 368.2 L84.50 366.2 L84.75 366.9 L85.00 366.5 L85.25 367.4 L85.50 367.9 L85.75 367.5 L86.00 366.2 L86.25 369.2 L86.50 369.0 L86.75 366.4 L87.00 370.1 L87.25 368.5 L87.50 369.4 L87.75 370.1 L88.00 371.2 L88.25 369.7 L88.50 369.6 L88.75 370.3 L89.00 371.0 L89.25 368.8 L89.50 369.7 L89.75 370.2 L90.00 369.5 L90.25 369.8 L90.50 369.9 L90.75 369.5 L91.00 370.6 L91.25 368.4 L91.50 369.4 L91.75 369.2 L92.00 370.7 L92.25 371.4 L92.50 368.4 L92.75 368.9 L93.00 368.4 L93.25 368.9 L93.50 368.8 L93.75 368.4 L94.00 367.8 L94.25 368.1 M106.50 373.9 L106.75 370.7 L107.00 370.1 L107.25 370.0 L107.50 372.0 L107.75 374.6 L108.00 372.0 L108.25 370.9 L108.50 374.3 L108.75 370.4 L109.00 371.4 L109.25 373.8 L109.50 373.6 L109.75 371.4 L110.00 374.1 L110.25 372.4 L110.50 373.9 L110.75 374.0 L111.00 374.7 L111.25 374.5 L111.50 372.1 L111.75 372.7 L112.00 373.1 L112.25 372.2 L112.50 372.6 L112.75 372.5 L113.00 373.2 L113.25 374.0 L113.50 372.0 L113.75 372.5 L114.00 368.9 L114.25 371.2 L114.50 371.6 L114.75 371.6 L115.00 371.2 L115.25 372.0 L115.50 370.5 M118.50 372.8 L118.75 374.2 L119.00 372.7 L119.25 375.0 L119.50 374.4 L119.75 374.3 L120.00 372.7 L120.25 372.3 L120.50 372.8 L120.75 373.2 L121.00 370.9 L121.25 371.2 L121.50 372.2 L121.75 373.9 L122.00 373.3 L122.25 375.1 L122.50 372.4 L122.75 372.5 L123.00 374.3 L123.25 373.8 L123.50 375.6 L123.75 374.1 L124.00 374.5 L124.25 373.8 L124.50 375.0 L124.75 374.6 L125.00 374.4 L125.25 375.0 L125.50 374.6 L125.75 374.6 L126.00 375.5 L126.25 376.8 L126.50 375.8 L126.75 376.5 L127.00 375.1 L127.25 374.0 L127.50 375.6 L127.75 373.6 L128.00 373.4 L128.25 374.7 L128.50 371.8 L128.75 373.6 L129.00 373.8 L129.25 376.7 L129.50 375.2 L129.75 374.2 L130.00 372.9 L130.25 376.3 L130.50 373.8 L130.75 372.1 L131.00 376.3 L131.25 374.7 L131.50 374.2 L131.75 375.2 L132.00 374.1 L132.25 375.1 L132.50 374.4 L132.75 375.8 L133.00 376.1 L133.25 374.8 L133.50 373.7 L133.75 374.7 L134.00 377.6 L134.25 373.7 L134.50 375.8 L134.75 374.8 L135.00 375.3 L135.25 375.2 L135.50 375.5 L135.75 375.0 L136.00 376.2 L136.25 374.1 L136.50 373.1 L136.75 372.9 L137.00 373.6 L137.25 371.0 L137.50 373.7 L137.75 374.3 L138.00 371.2 L138.25 373.6 L138.50 374.7 L138.75 373.9 L139.00 373.1 L139.25 372.0 L139.50 374.0 L139.75 373.3 L140.00 374.0 L140.25 374.1 L140.50 373.7 L140.75 373.3 L141.00 374.0 L141.25 373.0 L141.50 375.2 L141.75 375.8 L142.00 374.5 L142.25 374.0 L142.50 375.3 L142.75 374.2 L143.00 375.4 L143.25 376.0 L143.50 374.3 L143.75 372.2 L144.00 376.2 L144.25 375.0 L144.50 373.9 L144.75 373.1 L145.00 374.0 L145.25 375.8 L145.50 373.0 L145.75 374.6 L146.00 375.3 L146.25 374.5 L146.50 373.3 L146.75 377.3 L147.00 375.8 L147.25 374.5 L147.50 374.6 M153.50 371.4 L153.75 371.5 L154.00 373.3 L154.25 372.6 L154.50 373.4 L154.75 374.7 L155.00 373.9 L155.25 372.9 L155.50 372.6 L155.75 373.3 L156.00 373.8 L156.25 374.7 L156.50 374.5 L156.75 374.4 L157.00 374.7 L157.25 374.5 L157.50 375.2 L157.75 375.2 L158.00 375.2 L158.25 375.4 L158.50 374.0 L158.75 375.1 L159.00 374.0 L159.25 373.7 L159.50 374.9 L159.75 374.0 L160.00 371.2 L160.25 372.2 L160.50 373.4 L160.75 370.8 L161.00 370.7 L161.25 371.2 L161.50 374.0 M170.00 374.0 L170.25 373.5 L170.50 373.7 L170.75 374.4 L171.00 375.0 L171.25 373.9 L171.50 373.1 L171.75 372.2 L172.00 371.8 L172.25 374.7 L172.50 373.8 L172.75 374.9 L173.00 374.6 L173.25 373.0 L173.50 373.7 L173.75 374.6 L174.00 374.0 L174.25 372.7 L174.50 373.7 L174.75 372.2 L175.00 372.5 L175.25 374.5 L175.50 372.9 L175.75 370.6 M183.00 368.7 L183.25 370.8 L183.50 372.8 L183.75 371.4 L184.00 371.8 L184.25 372.2 L184.50 374.1 L184.75 372.5 L185.00 371.9 L185.25 372.3 L185.50 373.6 L185.75 372.7 L186.00 372.5 L186.25 373.3 L186.50 373.5 L186.75 375.2 L187.00 374.8 L187.25 374.2 L187.50 375.1 L187.75 374.6 L188.00 375.2 L188.25 375.2 L188.50 375.2 L188.75 374.8 L189.00 375.8 L189.25 375.2 L189.50 375.8 L189.75 374.9 L190.00 375.8 L190.25 375.9 L190.50 374.8 L190.75 373.4 L191.00 372.8 L191.25 374.8 L191.50 372.9 L191.75 373.9 L192.00 374.5 L192.25 374.7 L192.50 374.2 L192.75 374.3 L193.00 374.3 L193.25 373.8 L193.50 373.2 L193.75 372.2 L194.00 372.9 L194.25 372.3 L194.50 372.0 L194.75 370.5 L195.00 372.3 M205.00 368.5 L205.25 370.3 L205.50 370.3 L205.75 371.9 L206.00 372.2 L206.25 375.4 L206.50 375.2 L206.75 372.5 L207.00 373.0 L207.25 373.8 L207.50 371.3 L207.75 374.4 L208.00 373.2 L208.25 372.6 M216.50 372.7 L216.75 371.9 L217.00 373.0 L217.25 372.7 L217.50 372.9 L217.75 372.6 L218.00 374.7 L218.25 375.3 L218.50 374.6 L218.75 373.0 L219.00 375.8 L219.25 376.3 L219.50 374.4 L219.75 373.3 L220.00 375.2 L220.25 376.1 L220.50 373.4 L220.75 375.8 L221.00 371.2 L221.25 375.5 L221.50 372.6 M224.50 371.0 L224.75 373.1 L225.00 373.6 L225.25 374.9 L225.50 374.2 L225.75 374.1 L226.00 375.8 L226.25 376.4 L226.50 376.1 L226.75 375.0 L227.00 375.7 L227.25 374.7 L227.50 376.4 L227.75 373.4 M231.25 373.0 L231.50 373.9 L231.75 374.0 L232.00 373.7 M236.50 373.9 L236.75 372.1 L237.00 372.2 L237.25 371.4 L237.50 371.5 L237.75 374.1 L238.00 372.1 L238.25 373.3 L238.50 372.8 L238.75 374.1 L239.00 376.7 L239.25 373.2 L239.50 373.9 L239.75 372.6 L240.00 372.0 M242.00 376.2 L242.25 375.9 L242.50 374.1 L242.75 376.9 L243.00 374.3 L243.25 375.4 L243.50 375.1 L243.75 371.8 L244.00 371.2 L244.25 375.0 L244.50 374.7 L244.75 372.5 L245.00 373.1 M246.25 371.6 L246.50 373.2 L246.75 372.2 L247.00 374.9 L247.25 374.8 L247.50 375.8 L247.75 373.3 L248.00 373.8 L248.25 372.9 L248.50 373.3 L248.75 373.3 L249.00 375.2 L249.25 375.7 L249.50 373.8 L249.75 374.8 L250.00 375.3 L250.25 374.2 L250.50 377.1 L250.75 372.8 L251.00 374.9 L251.25 375.5 L251.50 374.7 L251.75 374.4 L252.00 375.4 L252.25 373.5 L252.50 376.3 L252.75 374.6 L253.00 373.0 L253.25 374.7 L253.50 373.1 L253.75 374.9 L254.00 374.8 L254.25 375.5 L254.50 371.9 L254.75 373.2 L255.00 376.0 L255.25 375.8 L255.50 377.2 L255.75 373.9 L256.00 372.8 L256.25 375.1 L256.50 373.4 L256.75 373.7 L257.00 374.6 M258.25 372.9 L258.50 374.7 L258.75 372.9 L259.00 374.7 L259.25 375.0 L259.50 374.9 L259.75 374.2 L260.00 373.3 L260.25 375.4 L260.50 374.3 L260.75 373.9 L261.00 373.6 L261.25 375.8 L261.50 374.6 L261.75 372.9 L262.00 372.2 L262.25 375.8 L262.50 373.6 M265.50 373.8 L265.75 375.5 L266.00 373.6 L266.25 374.8 L266.50 374.5 L266.75 373.3 L267.00 374.6 L267.25 374.7 L267.50 373.1 L267.75 373.2 L268.00 374.7 L268.25 375.2 L268.50 373.3 L268.75 373.7 L269.00 374.6 L269.25 374.9 L269.50 375.0 L269.75 374.1 L270.00 374.4 L270.25 375.2 L270.50 374.9 L270.75 371.0 L271.00 374.2 L271.25 373.6 L271.50 372.4 M274.50 374.8 L274.75 373.2 L275.00 374.7 L275.25 375.6 L275.50 376.7 L275.75 374.7 L276.00 374.6 L276.25 375.0 L276.50 375.6 L276.75 374.8 L277.00 375.7 L277.25 373.8 L277.50 372.5 L277.75 373.2 L278.00 373.0 L278.25 371.8 L278.50 372.0 M281.50 373.7 L281.75 373.5 L282.00 374.0 L282.25 376.0 L282.50 374.2 L282.75 373.6 L283.00 377.7 L283.25 379.9 L283.50 376.5 L283.75 374.7 L284.00 375.4 L284.25 376.3 L284.50 376.4 L284.75 376.8 L285.00 376.7 L285.25 371.6 L285.50 375.1 L285.75 376.5 L286.00 374.3 L286.25 377.1 L286.50 372.5 L286.75 374.4 L287.00 373.8 L287.25 375.9 L287.50 375.3 L287.75 374.0 L288.00 374.8 L288.25 374.7 L288.50 374.1 L288.75 371.3 L289.00 374.1 L289.25 373.3 L289.50 372.4 L289.75 371.0 M293.50 371.5 L293.75 372.9 L294.00 373.0 L294.25 373.0 L294.50 372.7 L294.75 373.5 L295.00 374.2 L295.25 373.0 L295.50 376.2 L295.75 376.4 L296.00 376.2 L296.25 374.6 L296.50 373.9 L296.75 372.7 L297.00 374.5 L297.25 373.7 L297.50 374.4 L297.75 374.1 L298.00 373.0 L298.25 377.1 L298.50 373.1 L298.75 374.4 L299.00 374.9 L299.25 375.1 L299.50 375.2 L299.75 375.2 L300.00 372.6 L300.25 373.9 L300.50 374.0 L300.75 373.9 L301.00 375.6 L301.25 376.1 L301.50 374.1 L301.75 372.9 L302.00 372.8 M308.25 375.0 L308.50 372.7 L308.75 375.4 L309.00 372.8 L309.25 373.3 L309.50 372.9 L309.75 374.6 L310.00 374.0 L310.25 374.7 L310.50 375.6 L310.75 375.8 L311.00 374.1 L311.25 373.7 L311.50 373.6 L311.75 378.0 M315.75 372.1 L316.00 373.6 L316.25 374.6 L316.50 373.7 L316.75 372.0 L317.00 371.3 M322.00 371.0 L322.25 371.1 M327.25 373.1 L327.50 370.6 L327.75 373.7 L328.00 375.5 L328.25 374.9 L328.50 374.9 L328.75 373.4 L329.00 376.9 L329.25 374.3 L329.50 372.6 L329.75 375.5 L330.00 373.3 L330.25 374.3 L330.50 375.2 L330.75 373.4 L331.00 377.4 L331.25 376.3 L331.50 376.9 L331.75 374.5 L332.00 374.1 L332.25 372.6 L332.50 376.3 L332.75 375.4 L333.00 373.8 L333.25 374.1 L333.50 374.7 L333.75 372.7 L334.00 375.4 L334.25 373.3 L334.50 374.2 L334.75 374.0 L335.00 374.6 L335.25 375.1 L335.50 374.6 L335.75 373.5 L336.00 375.7 L336.25 376.2 L336.50 374.3 L336.75 373.7 L337.00 375.6 L337.25 374.0 L337.50 373.3 L337.75 375.0 L338.00 375.2 L338.25 375.6 L338.50 372.8 L338.75 372.9 L339.00 374.7 L339.25 372.6 L339.50 372.9 L339.75 376.2 M342.25 374.3 L342.50 373.7 L342.75 373.8 L343.00 373.6 L343.25 374.1 L343.50 374.3 L343.75 374.3 L344.00 374.5 L344.25 374.1 L344.50 374.0 L344.75 375.4 L345.00 375.2 L345.25 373.7 L345.50 370.9 M348.50 373.7 L348.75 373.8 L349.00 374.2 L349.25 376.6 L349.50 375.0 L349.75 375.6 L350.00 374.7 L350.25 376.4 L350.50 375.7 L350.75 373.1 L351.00 373.6 L351.25 372.9 L351.50 375.5 L351.75 374.9 L352.00 375.0 L352.25 375.5 L352.50 373.6 L352.75 375.6 L353.00 375.3 L353.25 375.4 L353.50 376.2 L353.75 375.2 M358.25 374.7 L358.50 375.5 L358.75 375.3 L359.00 375.1 L359.25 374.3 L359.50 375.0 L359.75 374.8 L360.00 374.2 L360.25 374.9 L360.50 375.1 L360.75 373.3 L361.00 376.2 L361.25 375.5 L361.50 374.5 L361.75 375.4 L362.00 374.6 L362.25 375.3 L362.50 375.0 L362.75 373.8 L363.00 374.7 L363.25 375.2 L363.50 375.8 L363.75 376.6 L364.00 374.9 L364.25 376.3 L364.50 374.6 L364.75 374.3 L365.00 375.8 L365.25 374.4 L365.50 375.7 L365.75 375.3 L366.00 375.1 L366.25 376.0 L366.50 376.6 L366.75 376.8 L367.00 375.4 L367.25 376.4 L367.50 375.3 L367.75 374.2 L368.00 373.6 L368.25 375.1 L368.50 373.6 L368.75 374.0 L369.00 376.7 L369.25 377.0 L369.50 375.9 L369.75 377.3 L370.00 374.0 L370.25 376.3 L370.50 373.8 L370.75 376.6 L371.00 373.7 L371.25 374.2 L371.50 373.7 L371.75 373.3 L372.00 373.2 L372.25 374.1 L372.50 373.9 L372.75 373.7 L373.00 375.6 L373.25 373.8 L373.50 373.7 L373.75 375.3 L374.00 372.2 L374.25 373.8 L374.50 373.1 M381.00 373.0 L381.25 371.9 L381.50 374.7 L381.75 374.0 L382.00 372.8 L382.25 374.0 L382.50 373.0 L382.75 373.7 L383.00 375.9 L383.25 374.6 L383.50 375.1 L383.75 374.5 L384.00 372.4 L384.25 374.3 L384.50 373.3 L384.75 374.4 L385.00 375.4 L385.25 373.4 L385.50 374.9 L385.75 374.2 L386.00 374.4 L386.25 374.9 L386.50 375.8 L386.75 375.9 L387.00 374.5 L387.25 375.2 L387.50 377.4 L387.75 373.3 L388.00 375.1 L388.25 376.3 L388.50 375.6 L388.75 374.8 L389.00 374.4 L389.25 376.4 L389.50 376.2 L389.75 374.8 L390.00 375.1 L390.25 374.4 L390.50 375.2 L390.75 377.2 L391.00 374.6 L391.25 374.4 L391.50 373.8 L391.75 375.0 L392.00 375.4 L392.25 375.6 L392.50 375.6 L392.75 375.7 L393.00 373.7 L393.25 372.6 L393.50 372.6 L393.75 370.2 L394.00 371.4 M398.00 371.7 L398.25 372.5 L398.50 372.2 L398.75 372.7 L399.00 371.2 L399.25 371.3 L399.50 371.7 L399.75 374.6 L400.00 374.8 L400.25 373.6 L400.50 375.6 L400.75 373.6 L401.00 375.7 L401.25 374.4 L401.50 374.2 L401.75 377.3 L402.00 377.2 L402.25 376.3 L402.50 375.2 L402.75 374.9 L403.00 377.0 L403.25 378.2 L403.50 377.7 L403.75 374.8 L404.00 377.7 L404.25 378.5 L404.50 376.4 L404.75 376.1 L405.00 376.1 L405.25 376.7 L405.50 377.0 L405.75 375.5 L406.00 376.9 L406.25 374.1 L406.50 375.7 L406.75 375.9 L407.00 374.5 L407.25 374.4 L407.50 372.2 L407.75 374.4 L408.00 374.5 L408.25 375.4 L408.50 374.8 L408.75 374.6 L409.00 376.1 L409.25 373.2 L409.50 375.4 L409.75 375.0 L410.00 374.9 L410.25 372.2 L410.50 373.4 L410.75 373.8 L411.00 373.5 L411.25 373.6 L411.50 375.8 L411.75 373.5 L412.00 377.1 L412.25 373.9 L412.50 374.7 L412.75 375.8 L413.00 376.7 L413.25 375.5 L413.50 376.3 L413.75 373.7 L414.00 375.5 L414.25 374.7 L414.50 374.4 L414.75 375.4 L415.00 373.9 L415.25 375.2 L415.50 375.7 L415.75 375.0 L416.00 376.1 L416.25 373.9 L416.50 374.7 L416.75 374.2 L417.00 375.7 L417.25 376.2 L417.50 374.3 L417.75 374.4 L418.00 374.4 L418.25 372.0 L418.50 373.9 L418.75 373.3 L419.00 373.0 L419.25 374.3 L419.50 373.3 L419.75 373.4 L420.00 373.8 L420.25 373.2 L420.50 374.2 L420.75 376.4 M424.50 373.7 L424.75 372.9 L425.00 374.1 L425.25 376.8 L425.50 376.0 L425.75 376.2 L426.00 375.5 L426.25 375.0 L426.50 375.5 L426.75 373.8 L427.00 374.3 L427.25 375.2 L427.50 375.2 L427.75 374.9 L428.00 374.6 L428.25 373.8 L428.50 374.1 L428.75 372.2 L429.00 373.2 L429.25 372.2 L429.50 374.1 L429.75 373.1 L430.00 372.7 L430.25 375.1 L430.50 373.6 L430.75 374.0 L431.00 374.9 L431.25 373.6 L431.50 373.2 L431.75 374.7 L432.00 373.9 L432.25 375.0 L432.50 375.4 L432.75 374.3 L433.00 375.7 L433.25 373.7 L433.50 376.1 L433.75 373.1 M437.50 372.7 L437.75 372.4 L438.00 374.7 L438.25 375.1 L438.50 375.2 L438.75 376.1 L439.00 376.9 L439.25 374.9 L439.50 376.5 L439.75 377.9 L440.00 376.2 L440.25 375.8 L440.50 377.5 L440.75 376.3 L441.00 375.9 L441.25 376.9 L441.50 375.5 L441.75 374.9 L442.00 374.9 L442.25 375.8 L442.50 375.4 L442.75 374.0 L443.00 377.0 L443.25 374.1 L443.50 373.9 L443.75 375.7 L444.00 372.6 L444.25 377.2 L444.50 374.3 L444.75 374.5 L445.00 373.5 L445.25 374.0 L445.50 375.7 L445.75 377.6 L446.00 376.6 L446.25 376.6 L446.50 376.1 L446.75 377.3 L447.00 375.9 L447.25 378.4 L447.50 373.4 L447.75 376.2 L448.00 376.6 L448.25 378.1 L448.50 376.6 L448.75 377.3 L449.00 378.3 L449.25 376.8 L449.50 378.6 L449.75 374.9 L450.00 376.7 L450.25 376.9 L450.50 376.1 L450.75 374.1 L451.00 375.4 L451.25 374.8 L451.50 372.6 L451.75 375.7 L452.00 374.6 L452.25 373.1 L452.50 373.2 L452.75 375.7 L453.00 376.0 L453.25 373.3 L453.50 376.0 L453.75 374.3 L454.00 374.0 L454.25 376.8 L454.50 375.3 L454.75 376.5 L455.00 376.5 L455.25 375.7 L455.50 374.1 L455.75 376.0 L456.00 373.6 L456.25 372.4 M461.00 372.4 L461.25 373.7 L461.50 374.0 L461.75 372.3 L462.00 373.3 L462.25 373.5 L462.50 375.5 L462.75 373.5 L463.00 372.3 L463.25 372.7 L463.50 374.4 L463.75 371.1 L464.00 374.5 L464.25 372.1 L464.50 374.2 L464.75 375.7 L465.00 372.9 L465.25 373.0 L465.50 373.1 L465.75 371.6 L466.00 373.9 L466.25 372.7 L466.50 374.9 L466.75 374.4 L467.00 372.6 L467.25 374.4 L467.50 374.2 L467.75 374.0 L468.00 373.8 L468.25 373.8 L468.50 373.1 L468.75 375.4 L469.00 377.2 L469.25 372.3 L469.50 376.0 L469.75 377.9 L470.00 375.9 L470.25 374.7 L470.50 374.8 L470.75 374.2 L471.00 375.1 L471.25 372.9 L471.50 374.8 L471.75 372.6 L472.00 371.7 L472.25 373.5 L472.50 371.3 L472.75 371.9 M475.25 374.6 L475.50 374.0 L475.75 375.6 L476.00 374.5 L476.25 375.0 L476.50 376.6 L476.75 376.2 L477.00 376.2 L477.25 375.6 L477.50 375.7 L477.75 375.6 L478.00 375.9 L478.25 377.5 L478.50 377.5 L478.75 375.8 L479.00 377.6 L479.25 376.6 L479.50 376.3 L479.75 374.8 L480.00 374.5 L480.25 373.5 L480.50 376.9 L480.75 375.0 L481.00 373.3 L481.25 375.0 L481.50 374.9 L481.75 374.5 L482.00 375.0 L482.25 374.2 L482.50 372.8 L482.75 372.8 L483.00 374.3 L483.25 375.3 L483.50 372.9 L483.75 375.9 L484.00 376.2 L484.25 375.4 L484.50 375.3 L484.75 376.8 L485.00 376.5 L485.25 376.0 L485.50 376.3 L485.75 377.5 L486.00 376.8 L486.25 373.8 L486.50 376.1 L486.75 377.0 L487.00 376.7 L487.25 375.1 L487.50 376.1 L487.75 374.8 L488.00 376.4 L488.25 376.5 L488.50 377.3 L488.75 376.8 L489.00 374.8 L489.25 373.1 L489.50 377.0 L489.75 373.9 L490.00 376.4 L490.25 375.0 L490.50 373.2 L490.75 375.1 L491.00 374.6 L491.25 374.6 L491.50 373.2 L491.75 375.2 L492.00 373.8 L492.25 371.5 L492.50 373.7 L492.75 374.6 L493.00 373.7 L493.25 374.0 L493.50 375.7 L493.75 374.9 L494.00 376.9 L494.25 375.6 L494.50 375.9 L494.75 376.6 L495.00 376.4 L495.25 373.8 L495.50 376.3 L495.75 376.7 L496.00 375.7 L496.25 375.5 L496.50 376.0 L496.75 376.7 L497.00 375.7 L497.25 377.0 L497.50 376.8 L497.75 375.7 L498.00 377.5 L498.25 378.1 L498.50 377.3 L498.75 379.4 L499.00 377.4 L499.25 377.8 L499.50 377.2 L499.75 378.1 L500.00 377.1 L500.25 376.7 L500.50 377.9 L500.75 377.0 L501.00 377.7 L501.25 376.8 L501.50 377.8 L501.75 375.6 L502.00 375.1 L502.25 377.3 L502.50 376.7 L502.75 377.6 L503.00 374.9 L503.25 377.3 L503.50 375.6 L503.75 376.5 L504.00 374.3 L504.25 374.8 L504.50 373.0 L504.75 373.2 M508.00 372.2 L508.25 373.9 L508.50 373.3 L508.75 374.9 L509.00 373.8 L509.25 374.1 L509.50 374.3 L509.75 373.9 L510.00 374.6 L510.25 373.1 L510.50 373.9 L510.75 375.1 L511.00 375.5 L511.25 376.3 L511.50 373.6 L511.75 375.7 L512.00 374.6 L512.25 374.8 L512.50 377.1 L512.75 378.4 L513.00 377.0 L513.25 376.5 L513.50 374.6 L513.75 375.8 L514.00 374.2 L514.25 375.2 L514.50 373.7 M519.50 371.9 L519.75 371.7 L520.00 372.5 L520.25 371.5 L520.50 375.3 L520.75 375.2 L521.00 373.1 L521.25 374.3 L521.50 374.9 L521.75 373.6 L522.00 374.4 L522.25 375.2 L522.50 371.9 L522.75 375.7 L523.00 375.0 L523.25 374.4 L523.50 375.2 L523.75 375.1 L524.00 377.0 L524.25 377.7 L524.50 376.4 L524.75 374.8 L525.00 376.4 L525.25 377.7 L525.50 376.4 L525.75 376.5 L526.00 375.3 L526.25 374.9 L526.50 376.4 L526.75 375.2 L527.00 375.9 L527.25 378.7 L527.50 376.4 L527.75 376.9 L528.00 378.5 L528.25 375.8 L528.50 376.0 L528.75 375.9 L529.00 376.7 L529.25 375.6 L529.50 378.8 L529.75 378.0 L530.00 377.5 L530.25 375.2 L530.50 375.3 L530.75 375.9 L531.00 375.7 L531.25 376.5 L531.50 376.6 L531.75 375.1 L532.00 376.7 L532.25 375.8 L532.50 376.9 L532.75 376.3 L533.00 377.5 L533.25 375.5 L533.50 377.2 L533.75 375.6 L534.00 376.8 L534.25 377.4 L534.50 375.7 L534.75 377.7 L535.00 376.0 L535.25 376.2 L535.50 377.1 L535.75 375.4 L536.00 376.1 L536.25 377.5 L536.50 373.8 L536.75 375.2 L537.00 373.8 L537.25 377.1 L537.50 376.5 L537.75 376.2 L538.00 376.5 L538.25 374.4 L538.50 375.1 L538.75 378.5 L539.00 374.8 L539.25 378.2 L539.50 376.3 L539.75 374.5 L540.00 376.4 L540.25 376.1 L540.50 375.2 L540.75 376.6 L541.00 377.2 L541.25 377.2 L541.50 374.3 L541.75 375.9 L542.00 374.6 L542.25 373.9 L542.50 373.8 L542.75 375.6 L543.00 375.2 L543.25 374.3 L543.50 374.2" stroke="#13809a" stroke-width="1"/></g>
<g fill="none" stroke="#b77dcd" stroke-width="0.8" stroke-linejoin="round"><path d="M60.00 202.9 60.25 200.9 60.50 200.5 60.75 197.4 61.00 200.1 61.25 200.0 61.50 200.4 61.75 199.4 62.00 200.3 62.25 199.5 62.50 198.0 62.75 201.4 63.00 201.3 63.25 202.6 63.50 199.9 63.75 199.2 64.00 199.0 64.25 197.4 64.50 201.4 64.75 198.1 65.00 197.9 65.25 199.4 65.50 202.1 65.75 200.1 66.00 198.1 66.25 198.6 66.50 200.9 66.75 199.7 67.00 198.8 67.25 199.7 67.50 201.3 67.75 203.4 68.00 198.3 68.25 199.4 68.50 199.3 68.75 197.0 69.00 199.7 69.25 199.8 69.50 203.5 69.75 201.6 70.00 199.3 70.25 202.9 70.50 201.3 70.75 199.1 71.00 201.0 71.25 201.2 71.50 201.1 71.75 202.9 72.00 199.6 72.25 203.2 72.50 205.6 72.75 205.6 73.00 206.2 73.25 206.2 73.50 206.7 73.75 202.3 74.00 205.2 74.25 200.6 74.50 202.5 74.75 200.3 75.00 205.1 75.25 205.7 75.50 203.6 75.75 207.2 76.00 203.8 76.25 205.8 76.50 206.4 76.75 205.0 77.00 207.9 77.25 210.8 77.50 206.2 77.75 209.5 78.00 207.8 78.25 210.9 78.50 208.7 78.75 208.9 79.00 208.7 79.25 207.8 79.50 205.0 79.75 209.4 80.00 204.8 80.25 207.4 80.50 208.1 80.75 205.8 81.00 207.6 81.25 209.3 81.50 207.4 81.75 206.0 82.00 202.7 82.25 205.7 82.50 206.2 82.75 206.1 83.00 205.2 83.25 207.2 83.50 205.5 83.75 206.1 84.00 207.2 84.25 204.6 84.50 205.3 84.75 209.2 85.00 207.0 85.25 203.5 85.50 205.4 85.75 206.4 86.00 207.5 86.25 205.7 86.50 204.6 86.75 204.3 87.00 206.7 87.25 206.4 87.50 205.3 87.75 206.2 88.00 206.3 88.25 208.6 88.50 206.7 88.75 209.0 89.00 209.8 89.25 209.3 89.50 207.2 89.75 210.6 90.00 207.1 90.25 208.7 90.50 206.6 90.75 204.9 91.00 208.0 91.25 208.3 91.50 207.9 91.75 208.8 92.00 207.7 92.25 208.0 92.50 209.3 92.75 213.0 93.00 211.6 93.25 209.7 93.50 211.7 93.75 210.2 94.00 210.4 94.25 212.5 94.50 210.3 94.75 208.4 95.00 209.5 95.25 211.1 95.50 211.3 95.75 213.2 96.00 210.2 96.25 212.7 96.50 212.5 96.75 211.8 97.00 213.6 97.25 213.2 97.50 211.2 97.75 214.4 98.00 210.8 98.25 213.0 98.50 212.9 98.75 213.5 99.00 211.5 99.25 212.4 99.50 211.9 99.75 213.5 100.00 210.3 100.25 211.5 100.50 210.9 100.75 209.2 101.00 215.8 101.25 211.5 101.50 209.5 101.75 214.3 102.00 210.5 102.25 212.8 102.50 213.6 102.75 211.1 103.00 211.3 103.25 211.1 103.50 211.8 103.75 209.5 104.00 210.3 104.25 212.3 104.50 214.4 104.75 213.9 105.00 215.7 105.25 214.0 105.50 211.9 105.75 212.3 106.00 209.0 106.25 210.6 106.50 210.4 106.75 212.5 107.00 213.1 107.25 211.3 107.50 211.3 107.75 209.9 108.00 212.4 108.25 213.2 108.50 213.8 108.75 212.0 109.00 216.7 109.25 215.6 109.50 213.7 109.75 213.2 110.00 213.7 110.25 214.6 110.50 214.5 110.75 215.4 111.00 216.0 111.25 217.2 111.50 216.9 111.75 215.0 112.00 215.9 112.25 214.7 112.50 214.3 112.75 218.1 113.00 214.0 113.25 217.7 113.50 213.6 113.75 214.3 114.00 215.4 114.25 213.6 114.50 214.3 114.75 213.4 115.00 213.3 115.25 214.1 115.50 213.7 115.75 217.7 116.00 215.1 116.25 218.4 116.50 211.5 116.75 215.9 117.00 216.8 117.25 215.4 117.50 217.6 117.75 216.7 118.00 215.2 118.25 216.4 118.50 220.3 118.75 216.3 119.00 216.6 119.25 215.6 119.50 216.7 119.75 214.5 120.00 216.3 120.25 220.7 120.50 218.5 120.75 217.8 121.00 218.6 121.25 219.9 121.50 217.9 121.75 220.4 122.00 218.8 122.25 217.3 122.50 219.8 122.75 213.1 123.00 215.9 123.25 217.2 123.50 215.2 123.75 216.4 124.00 215.6 124.25 215.6 124.50 221.2 124.75 218.0 125.00 217.1 125.25 219.6 125.50 217.4 125.75 219.6 126.00 219.1 126.25 221.5 126.50 216.8 126.75 220.5 127.00 219.5 127.25 217.4 127.50 220.8 127.75 217.4 128.00 221.1 128.25 218.8 128.50 218.6 128.75 217.1 129.00 217.9 129.25 213.0 129.50 215.8 129.75 214.4 130.00 215.8 130.25 215.3 130.50 216.5 130.75 214.3 131.00 218.8 131.25 219.8 131.50 215.9 131.75 216.4 132.00 217.0 132.25 218.6 132.50 219.6 132.75 214.5 133.00 215.2 133.25 214.3 133.50 213.9 133.75 212.8 134.00 215.8 134.25 213.2 134.50 217.5 134.75 216.6 135.00 213.6 135.25 213.9 135.50 214.9 135.75 218.5 136.00 215.3 136.25 214.6 136.50 217.3 136.75 218.2 137.00 216.7 137.25 220.5 137.50 218.2 137.75 218.4 138.00 216.0 138.25 217.0 138.50 216.5 138.75 212.7 139.00 216.6 139.25 213.0 139.50 215.7 139.75 213.3 140.00 219.1 140.25 216.5 140.50 217.5 140.75 217.9 141.00 214.6 141.25 213.4 141.50 216.9 141.75 219.2 142.00 218.3 142.25 219.8 142.50 220.3 142.75 216.5 143.00 219.5 143.25 222.1 143.50 217.8 143.75 215.1 144.00 217.5 144.25 216.6 144.50 217.5 144.75 214.9 145.00 216.1 145.25 212.0 145.50 216.8 145.75 217.9 146.00 217.4 146.25 213.0 146.50 216.1 146.75 210.9 147.00 216.2 147.25 215.8 147.50 214.3 147.75 216.5 148.00 216.2 148.25 217.6 148.50 216.4 148.75 216.8 149.00 213.5 149.25 215.2 149.50 216.7 149.75 218.4 150.00 218.4 150.25 221.3 150.50 217.8 150.75 219.2 151.00 220.3 151.25 219.7 151.50 221.0 151.75 219.3 152.00 222.5 152.25 219.6 152.50 221.7 152.75 219.6 153.00 221.7 153.25 216.8 153.50 219.6 153.75 217.9 154.00 218.7 154.25 220.1 154.50 216.3 154.75 215.9 155.00 216.4 155.25 218.4 155.50 215.0 155.75 218.3 156.00 216.2 156.25 216.5 156.50 217.9 156.75 219.1 157.00 217.5 157.25 217.8 157.50 218.5 157.75 218.1 158.00 214.2 158.25 217.7 158.50 218.4 158.75 219.8 159.00 221.0 159.25 218.4 159.50 217.0 159.75 214.9 160.00 216.3 160.25 217.0 160.50 217.3 160.75 213.1 161.00 213.7 161.25 212.5 161.50 210.8 161.75 203.1 162.00 195.1 162.25 188.8 162.50 188.4 162.75 192.8 163.00 201.6 163.25 207.3 163.50 210.4 163.75 213.5 164.00 212.3 164.25 214.6 164.50 213.9 164.75 214.9 165.00 216.8 165.25 214.7 165.50 211.6 165.75 214.0 166.00 213.2 166.25 212.0 166.50 213.4 166.75 216.7 167.00 218.4 167.25 215.5 167.50 218.6 167.75 219.4 168.00 216.1 168.25 218.2 168.50 218.4 168.75 218.8 169.00 215.9 169.25 217.7 169.50 219.6 169.75 219.5 170.00 219.7 170.25 215.0 170.50 216.3 170.75 210.3 171.00 203.7 171.25 209.8 171.50 211.5 171.75 214.7 172.00 214.4 172.25 216.8 172.50 215.4 172.75 214.6 173.00 216.7 173.25 215.7 173.50 214.6 173.75 217.2 174.00 214.1 174.25 213.2 174.50 212.5 174.75 209.7 175.00 209.3 175.25 210.5 175.50 201.9 175.75 196.8 176.00 183.2 176.25 161.8 176.50 125.0 176.75 64.6 177.00 24.4 177.25 62.5 177.50 119.9 177.75 159.6 178.00 181.1 178.25 192.5 178.50 201.0 178.75 205.5 179.00 208.2 179.25 209.3 179.50 209.0 179.75 212.4 180.00 212.1 180.25 215.8 180.50 215.9 180.75 216.6 181.00 215.1 181.25 212.9 181.50 217.5 181.75 218.0 182.00 213.6 182.25 216.3 182.50 218.0 182.75 214.3 183.00 218.8 183.25 215.4 183.50 214.2 183.75 218.1 184.00 216.4 184.25 215.0 184.50 217.7 184.75 213.3 185.00 219.7 185.25 215.7 185.50 217.7 185.75 216.8 186.00 218.2 186.25 219.0 186.50 216.2 186.75 218.8 187.00 217.1 187.25 216.6 187.50 217.6 187.75 216.5 188.00 217.1 188.25 220.2 188.50 218.7 188.75 220.9 189.00 219.9 189.25 217.5 189.50 216.0 189.75 217.7 190.00 218.9 190.25 218.1 190.50 216.3 190.75 218.9 191.00 214.0 191.25 214.4 191.50 216.4 191.75 219.6 192.00 216.7 192.25 214.5 192.50 217.2 192.75 217.5 193.00 218.0 193.25 215.7 193.50 214.6 193.75 215.2 194.00 214.1 194.25 213.6 194.50 211.1 194.75 203.1 195.00 201.6 195.25 203.4 195.50 205.8 195.75 209.7 196.00 211.8 196.25 213.0 196.50 215.8 196.75 214.2 197.00 213.4 197.25 213.2 197.50 214.6 197.75 215.0 198.00 214.1 198.25 218.7 198.50 218.3 198.75 217.6 199.00 217.2 199.25 216.2 199.50 217.4 199.75 221.9 200.00 215.3 200.25 219.0 200.50 219.8 200.75 218.6 201.00 217.7 201.25 219.2 201.50 216.0 201.75 218.6 202.00 220.0 202.25 216.0 202.50 216.4 202.75 218.0 203.00 219.4 203.25 219.9 203.50 218.8 203.75 216.4 204.00 215.5 204.25 217.5 204.50 217.5 204.75 215.0 205.00 216.7 205.25 217.2 205.50 218.3 205.75 215.1 206.00 217.6 206.25 214.8 206.50 215.9 206.75 216.2 207.00 218.5 207.25 221.0 207.50 215.5 207.75 215.4 208.00 215.6 208.25 211.1 208.50 213.7 208.75 209.3 209.00 212.3 209.25 209.2 209.50 202.7 209.75 191.4 210.00 178.9 210.25 151.4 210.50 126.9 210.75 130.7 211.00 152.4 211.25 178.9 211.50 194.0 211.75 200.7 212.00 204.4 212.25 204.6 212.50 208.0 212.75 207.0 213.00 205.4 213.25 202.0 213.50 200.9 213.75 198.0 214.00 195.2 214.25 198.1 214.50 203.1 214.75 207.8 215.00 209.1 215.25 210.9 215.50 212.4 215.75 214.2 216.00 215.8 216.25 216.8 216.50 214.7 216.75 215.5 217.00 213.3 217.25 216.5 217.50 213.3 217.75 213.8 218.00 211.1 218.25 210.6 218.50 208.5 218.75 211.1 219.00 208.6 219.25 208.8 219.50 209.4 219.75 211.8 220.00 215.1 220.25 217.8 220.50 213.4 220.75 214.6 221.00 216.0 221.25 215.4 221.50 213.8 221.75 216.6 222.00 217.9 222.25 214.2 222.50 217.2 222.75 218.5 223.00 218.6 223.25 216.4 223.50 220.8 223.75 218.0 224.00 215.6 224.25 218.2 224.50 214.2 224.75 216.6 225.00 211.9 225.25 213.8 225.50 210.6 225.75 213.4 226.00 213.7 226.25 214.4 226.50 214.8 226.75 217.3 227.00 213.1 227.25 217.1 227.50 217.3 227.75 217.7 228.00 218.3 228.25 223.1 228.50 217.5 228.75 218.7 229.00 217.7 229.25 220.0 229.50 214.1 229.75 219.9 230.00 215.8 230.25 213.0 230.50 214.7 230.75 216.1 231.00 216.7 231.25 216.3 231.50 217.7 231.75 216.3 232.00 216.1 232.25 212.5 232.50 216.5 232.75 217.0 233.00 214.5 233.25 211.9 233.50 212.6 233.75 217.4 234.00 213.7 234.25 213.6 234.50 213.4 234.75 215.7 235.00 213.6 235.25 213.1 235.50 211.9 235.75 213.9 236.00 215.3 236.25 212.8 236.50 213.4 236.75 210.7 237.00 208.2 237.25 204.5 237.50 199.0 237.75 193.5 238.00 184.5 238.25 176.3 238.50 176.6 238.75 181.6 239.00 190.3 239.25 197.0 239.50 202.9 239.75 203.8 240.00 209.6 240.25 213.0 240.50 210.0 240.75 215.8 241.00 214.5 241.25 214.3 241.50 212.3 241.75 217.3 242.00 214.3 242.25 215.2 242.50 217.0 242.75 214.5 243.00 214.6 243.25 214.2 243.50 215.9 243.75 216.9 244.00 216.6 244.25 216.6 244.50 215.4 244.75 216.2 245.00 215.0 245.25 219.4 245.50 216.6 245.75 213.2 246.00 214.7 246.25 219.0 246.50 214.2 246.75 215.7 247.00 216.9 247.25 214.2 247.50 217.4 247.75 218.0 248.00 213.5 248.25 216.2 248.50 212.4 248.75 211.6 249.00 212.9 249.25 212.0 249.50 209.6 249.75 210.4 250.00 204.6 250.25 202.5 250.50 197.6 250.75 194.1 251.00 185.2 251.25 173.6 251.50 158.8 251.75 154.5 252.00 158.0 252.25 164.8 252.50 177.9 252.75 190.3 253.00 197.9 253.25 202.5 253.50 206.7 253.75 208.8 254.00 210.1 254.25 210.7 254.50 210.1 254.75 211.4 255.00 211.3 255.25 215.8 255.50 212.6 255.75 212.4 256.00 212.4 256.25 213.0 256.50 213.2 256.75 215.0 257.00 214.5 257.25 216.2 257.50 214.1 257.75 216.0 258.00 216.9 258.25 213.6 258.50 215.5 258.75 215.4 259.00 214.1 259.25 213.5 259.50 211.0 259.75 215.5 260.00 211.9 260.25 211.1 260.50 213.9 260.75 209.5 261.00 213.5 261.25 212.0 261.50 211.4 261.75 208.9 262.00 205.5 262.25 202.1 262.50 204.1 262.75 196.1 263.00 189.1 263.25 183.3 263.50 168.6 263.75 158.9 264.00 154.5 264.25 159.3 264.50 168.3 264.75 180.2 265.00 192.1 265.25 197.6 265.50 195.6 265.75 199.4 266.00 203.6 266.25 202.0 266.50 199.1 266.75 197.3 267.00 187.1 267.25 185.9 267.50 180.1 267.75 181.6 268.00 186.4 268.25 194.1 268.50 198.5 268.75 202.8 269.00 208.5 269.25 210.1 269.50 209.6 269.75 215.3 270.00 216.1 270.25 217.3 270.50 215.8 270.75 216.8 271.00 216.0 271.25 215.3 271.50 217.1 271.75 217.5 272.00 216.2 272.25 220.2 272.50 214.7 272.75 215.9 273.00 216.1 273.25 219.2 273.50 216.6 273.75 216.5 274.00 215.5 274.25 215.7 274.50 214.8 274.75 218.4 275.00 217.6 275.25 217.9 275.50 214.8 275.75 219.2 276.00 212.7 276.25 209.9 276.50 211.3 276.75 210.0 277.00 208.5 277.25 202.3 277.50 200.4 277.75 196.3 278.00 184.9 278.25 177.7 278.50 171.4 278.75 175.3 279.00 182.2 279.25 189.8 279.50 197.0 279.75 203.6 280.00 205.6 280.25 209.9 280.50 208.8 280.75 210.4 281.00 213.0 281.25 212.1 281.50 214.9 281.75 216.7 282.00 215.7 282.25 214.4 282.50 214.9 282.75 218.9 283.00 215.9 283.25 217.8 283.50 217.6 283.75 218.4 284.00 220.2 284.25 217.5 284.50 216.0 284.75 220.3 285.00 217.9 285.25 218.2 285.50 216.3 285.75 216.9 286.00 216.8 286.25 215.9 286.50 211.8 286.75 209.7 287.00 208.4 287.25 205.5 287.50 204.2 287.75 202.0 288.00 200.9 288.25 207.4 288.50 209.6 288.75 210.3 289.00 212.1 289.25 210.0 289.50 206.1 289.75 205.3 290.00 199.4 290.25 197.1 290.50 192.4 290.75 192.9 291.00 195.6 291.25 199.6 291.50 201.1 291.75 207.0 292.00 205.8 292.25 212.3 292.50 214.6 292.75 217.4 293.00 215.5 293.25 214.3 293.50 213.2 293.75 219.1 294.00 213.6 294.25 217.3 294.50 211.9 294.75 215.3 295.00 216.2 295.25 215.3 295.50 214.3 295.75 212.6 296.00 212.0 296.25 214.5 296.50 212.8 296.75 210.8 297.00 210.1 297.25 206.6 297.50 207.4 297.75 204.8 298.00 197.9 298.25 195.7 298.50 195.0 298.75 193.2 299.00 201.2 299.25 205.0 299.50 206.4 299.75 211.9 300.00 215.4 300.25 212.4 300.50 216.5 300.75 215.9 301.00 216.1 301.25 217.7 301.50 215.8 301.75 214.3 302.00 214.2 302.25 216.5 302.50 217.5 302.75 216.4 303.00 216.2 303.25 216.3 303.50 218.2 303.75 216.8 304.00 214.4 304.25 214.8 304.50 216.7 304.75 213.4 305.00 213.2 305.25 213.3 305.50 211.1 305.75 213.8 306.00 208.4 306.25 213.7 306.50 210.0 306.75 207.7 307.00 208.7 307.25 203.1 307.50 203.3 307.75 198.7 308.00 189.6 308.25 181.0 308.50 172.8 308.75 161.0 309.00 157.9 309.25 161.7 309.50 172.0 309.75 178.0 310.00 186.9 310.25 194.6 310.50 192.5 310.75 198.1 311.00 195.9 311.25 195.4 311.50 200.5 311.75 197.5 312.00 201.1 312.25 201.4 312.50 206.0 312.75 207.4 313.00 209.5 313.25 211.9 313.50 213.3 313.75 216.3 314.00 213.9 314.25 215.2 314.50 214.3 314.75 215.1 315.00 212.9 315.25 217.0 315.50 214.7 315.75 215.9 316.00 215.9 316.25 218.2 316.50 217.9 316.75 217.5 317.00 218.2 317.25 218.8 317.50 219.9 317.75 219.8 318.00 221.3 318.25 222.1 318.50 220.6 318.75 217.5 319.00 222.5 319.25 223.1 319.50 218.8 319.75 218.5 320.00 215.6 320.25 219.8 320.50 216.5 320.75 220.7 321.00 213.3 321.25 217.0 321.50 217.7 321.75 215.6 322.00 214.8 322.25 216.3 322.50 214.9 322.75 215.2 323.00 215.7 323.25 215.0 323.50 215.7 323.75 217.5 324.00 215.8 324.25 216.8 324.50 215.4 324.75 218.0 325.00 214.3 325.25 217.7 325.50 210.9 325.75 213.8 326.00 212.0 326.25 215.4 326.50 213.3 326.75 209.8 327.00 209.9 327.25 211.9 327.50 208.4 327.75 207.8 328.00 202.3 328.25 199.3 328.50 198.4 328.75 195.6 329.00 184.2 329.25 179.1 329.50 172.3 329.75 176.6 330.00 179.2 330.25 186.6 330.50 191.4 330.75 199.7 331.00 205.2 331.25 210.5 331.50 208.8 331.75 213.9 332.00 212.9 332.25 213.7 332.50 213.2 332.75 212.3 333.00 213.4 333.25 218.2 333.50 213.8 333.75 215.3 334.00 218.0 334.25 213.0 334.50 217.4 334.75 216.0 335.00 217.4 335.25 218.7 335.50 217.3 335.75 217.4 336.00 219.1 336.25 219.0 336.50 216.9 336.75 217.8 337.00 215.9 337.25 220.2 337.50 216.1 337.75 218.5 338.00 221.1 338.25 219.8 338.50 218.2 338.75 217.7 339.00 218.0 339.25 220.6 339.50 219.6 339.75 218.9 340.00 223.0 340.25 217.2 340.50 217.5 340.75 217.5 341.00 218.3 341.25 218.4 341.50 217.4 341.75 219.0 342.00 218.6 342.25 217.2 342.50 213.5 342.75 218.6 343.00 215.5 343.25 215.6 343.50 216.1 343.75 213.9 344.00 214.2 344.25 215.2 344.50 214.1 344.75 214.8 345.00 212.5 345.25 213.1 345.50 211.2 345.75 212.0 346.00 212.3 346.25 210.8 346.50 208.1 346.75 209.0 347.00 208.1 347.25 207.6 347.50 202.8 347.75 198.1 348.00 191.5 348.25 189.8 348.50 177.7 348.75 171.0 349.00 170.1 349.25 170.2 349.50 181.4 349.75 187.7 350.00 195.2 350.25 198.5 350.50 203.6 350.75 209.1 351.00 211.5 351.25 216.3 351.50 214.7 351.75 210.7 352.00 214.5 352.25 214.2 352.50 216.9 352.75 215.1 353.00 216.2 353.25 215.0 353.50 216.6 353.75 218.0 354.00 214.8 354.25 212.5 354.50 214.2 354.75 218.4 355.00 216.3 355.25 215.5 355.50 214.4 355.75 217.7 356.00 216.5 356.25 215.9 356.50 215.2 356.75 215.8 357.00 215.5 357.25 216.9 357.50 217.9 357.75 212.5 358.00 213.2 358.25 215.1 358.50 215.1 358.75 212.1 359.00 213.0 359.25 212.6 359.50 211.3 359.75 209.8 360.00 208.9 360.25 209.4 360.50 209.1 360.75 210.1 361.00 211.4 361.25 211.6 361.50 213.5 361.75 216.6 362.00 216.6 362.25 218.2 362.50 217.6 362.75 217.3 363.00 217.8 363.25 214.3 363.50 216.1 363.75 214.9 364.00 216.8 364.25 214.0 364.50 215.1 364.75 213.7 365.00 214.8 365.25 214.8 365.50 212.6 365.75 212.2 366.00 211.0 366.25 210.2 366.50 206.0 366.75 203.5 367.00 199.3 367.25 195.1 367.50 194.9 367.75 195.6 368.00 196.1 368.25 203.4 368.50 203.3 368.75 208.8 369.00 210.7 369.25 209.3 369.50 213.5 369.75 212.2 370.00 215.4 370.25 217.4 370.50 219.8 370.75 218.6 371.00 215.3 371.25 217.6 371.50 220.9 371.75 218.9 372.00 221.4 372.25 217.2 372.50 217.2 372.75 215.5 373.00 216.6 373.25 218.8 373.50 214.9 373.75 217.6 374.00 216.8 374.25 217.2 374.50 215.3 374.75 215.3 375.00 218.0 375.25 211.4 375.50 213.1 375.75 212.2 376.00 207.8 376.25 206.6 376.50 195.8 376.75 197.3 377.00 194.7 377.25 196.9 377.50 200.0 377.75 204.0 378.00 204.7 378.25 209.9 378.50 207.9 378.75 213.4 379.00 212.5 379.25 210.9 379.50 211.6 379.75 212.0 380.00 213.6 380.25 215.7 380.50 217.8 380.75 217.1 381.00 213.7 381.25 212.1 381.50 215.2 381.75 213.3 382.00 215.2 382.25 214.2 382.50 219.2 382.75 212.0 383.00 215.0 383.25 217.1 383.50 213.0 383.75 211.7 384.00 214.8 384.25 207.5 384.50 206.5 384.75 205.2 385.00 205.0 385.25 202.3 385.50 197.2 385.75 198.0 386.00 193.1 386.25 194.8 386.50 197.6 386.75 203.9 387.00 205.6 387.25 208.0 387.50 213.7 387.75 214.9 388.00 215.7 388.25 212.9 388.50 213.8 388.75 215.6 389.00 215.9 389.25 215.8 389.50 216.3 389.75 217.9 390.00 215.3 390.25 217.4 390.50 216.4 390.75 216.2 391.00 216.6 391.25 218.3 391.50 217.6 391.75 216.0 392.00 217.9 392.25 217.8 392.50 218.5 392.75 217.7 393.00 220.0 393.25 219.2 393.50 217.0 393.75 216.9 394.00 216.8 394.25 219.6 394.50 217.5 394.75 217.4 395.00 217.0 395.25 218.1 395.50 218.6 395.75 214.0 396.00 217.0 396.25 214.9 396.50 216.7 396.75 215.2 397.00 214.6 397.25 218.2 397.50 220.1 397.75 215.9 398.00 218.5 398.25 218.9 398.50 219.4 398.75 216.4 399.00 216.9 399.25 219.0 399.50 220.1 399.75 217.0 400.00 218.1 400.25 216.6 400.50 216.9 400.75 215.4 401.00 215.6 401.25 214.9 401.50 215.8 401.75 217.1 402.00 215.1 402.25 215.0 402.50 211.7 402.75 212.2 403.00 203.8 403.25 204.0 403.50 203.0 403.75 198.3 404.00 201.4 404.25 201.9 404.50 202.5 404.75 207.1 405.00 207.3 405.25 210.6 405.50 213.3 405.75 212.7 406.00 218.0 406.25 215.9 406.50 219.2 406.75 217.6 407.00 218.5 407.25 216.6 407.50 217.6 407.75 217.4 408.00 218.5 408.25 220.4 408.50 217.3 408.75 217.9 409.00 218.7 409.25 219.4 409.50 217.6 409.75 216.7 410.00 215.8 410.25 216.0 410.50 215.4 410.75 212.7 411.00 211.8 411.25 211.6 411.50 208.1 411.75 204.5 412.00 203.7 412.25 201.2 412.50 199.7 412.75 200.2 413.00 200.6 413.25 204.6 413.50 207.9 413.75 210.3 414.00 209.5 414.25 214.0 414.50 215.9 414.75 217.0 415.00 216.4 415.25 217.4 415.50 214.8 415.75 215.5 416.00 213.2 416.25 217.7 416.50 220.7 416.75 220.9 417.00 216.2 417.25 219.0 417.50 220.0 417.75 217.4 418.00 214.7 418.25 220.2 418.50 217.4 418.75 217.5 419.00 221.0 419.25 219.2 419.50 220.0 419.75 221.4 420.00 218.7 420.25 217.4 420.50 220.2 420.75 218.9 421.00 220.0 421.25 219.4 421.50 217.5 421.75 218.8 422.00 218.3 422.25 218.5 422.50 218.9 422.75 219.7 423.00 219.5 423.25 217.1 423.50 220.2 423.75 216.7 424.00 222.5 424.25 217.5 424.50 218.5 424.75 220.6 425.00 218.0 425.25 216.2 425.50 216.0 425.75 218.8 426.00 219.2 426.25 220.1 426.50 219.5 426.75 218.6 427.00 220.6 427.25 222.5 427.50 219.3 427.75 226.7 428.00 220.4 428.25 223.1 428.50 223.9 428.75 222.0 429.00 220.6 429.25 220.7 429.50 221.1 429.75 214.2 430.00 218.8 430.25 217.2 430.50 216.6 430.75 217.9 431.00 218.1 431.25 218.7 431.50 217.1 431.75 220.0 432.00 214.8 432.25 216.6 432.50 216.2 432.75 218.2 433.00 217.2 433.25 218.8 433.50 216.7 433.75 220.1 434.00 219.3 434.25 217.2 434.50 215.2 434.75 215.8 435.00 214.8 435.25 218.8 435.50 217.2 435.75 213.0 436.00 216.9 436.25 211.9 436.50 206.9 436.75 210.1 437.00 207.8 437.25 202.7 437.50 198.1 437.75 199.0 438.00 195.1 438.25 196.7 438.50 199.9 438.75 202.6 439.00 204.4 439.25 206.1 439.50 211.3 439.75 208.3 440.00 213.9 440.25 214.9 440.50 216.0 440.75 215.1 441.00 216.5 441.25 217.7 441.50 215.0 441.75 217.0 442.00 217.8 442.25 215.4 442.50 216.2 442.75 220.5 443.00 219.8 443.25 217.0 443.50 219.5 443.75 219.0 444.00 220.5 444.25 219.8 444.50 213.7 444.75 216.6 445.00 218.5 445.25 217.9 445.50 213.0 445.75 210.5 446.00 211.3 446.25 208.2 446.50 207.9 446.75 205.3 447.00 208.7 447.25 209.2 447.50 210.3 447.75 209.0 448.00 209.1 448.25 210.5 448.50 214.0 448.75 210.9 449.00 215.3 449.25 217.5 449.50 214.0 449.75 215.1 450.00 217.3 450.25 217.3 450.50 214.9 450.75 215.5 451.00 215.8 451.25 214.8 451.50 215.7 451.75 214.6 452.00 215.3 452.25 209.2 452.50 212.3 452.75 209.6 453.00 205.3 453.25 202.8 453.50 200.2 453.75 196.1 454.00 194.0 454.25 195.9 454.50 197.1 454.75 199.5 455.00 203.5 455.25 206.4 455.50 210.2 455.75 212.9 456.00 213.4 456.25 216.4 456.50 214.7 456.75 214.5 457.00 214.9 457.25 215.0 457.50 216.2 457.75 219.1 458.00 214.6 458.25 217.8 458.50 216.9 458.75 218.4 459.00 216.5 459.25 218.7 459.50 217.3 459.75 219.7 460.00 216.2 460.25 220.8 460.50 221.8 460.75 218.5 461.00 222.7 461.25 219.5 461.50 222.8 461.75 220.9 462.00 221.6 462.25 220.7 462.50 217.8 462.75 222.0 463.00 221.4 463.25 217.8 463.50 220.4 463.75 220.2 464.00 218.4 464.25 217.7 464.50 221.4 464.75 218.5 465.00 220.5 465.25 221.9 465.50 219.4 465.75 217.0 466.00 219.7 466.25 215.6 466.50 216.0 466.75 221.9 467.00 215.5 467.25 217.1 467.50 214.7 467.75 216.2 468.00 216.6 468.25 211.9 468.50 214.9 468.75 216.6 469.00 216.2 469.25 214.2 469.50 210.7 469.75 211.1 470.00 207.8 470.25 205.8 470.50 206.2 470.75 210.1 471.00 206.3 471.25 211.4 471.50 212.2 471.75 211.3 472.00 213.8 472.25 216.1 472.50 216.4 472.75 218.0 473.00 216.2 473.25 216.0 473.50 219.1 473.75 217.2 474.00 215.8 474.25 217.1 474.50 220.1 474.75 216.2 475.00 214.9 475.25 218.9 475.50 220.5 475.75 219.3 476.00 214.9 476.25 213.4 476.50 218.4 476.75 215.6 477.00 216.2 477.25 214.3 477.50 216.3 477.75 212.4 478.00 210.1 478.25 208.8 478.50 204.5 478.75 204.9 479.00 203.7 479.25 200.8 479.50 203.7 479.75 205.3 480.00 206.6 480.25 211.2 480.50 213.6 480.75 213.2 481.00 210.9 481.25 210.8 481.50 215.2 481.75 213.5 482.00 213.7 482.25 211.7 482.50 210.2 482.75 216.8 483.00 211.9 483.25 212.3 483.50 210.4 483.75 214.4 484.00 211.0 484.25 210.8 484.50 210.5 484.75 209.5 485.00 210.7 485.25 204.1 485.50 206.7 485.75 203.8 486.00 204.0 486.25 204.7 486.50 208.1 486.75 207.5 487.00 210.7 487.25 214.2 487.50 213.8 487.75 215.0 488.00 217.1 488.25 217.2 488.50 216.9 488.75 217.7 489.00 216.4 489.25 219.4 489.50 216.5 489.75 215.8 490.00 219.2 490.25 216.4 490.50 217.0 490.75 218.1 491.00 219.5 491.25 217.5 491.50 217.4 491.75 217.4 492.00 218.7 492.25 217.3 492.50 218.5 492.75 220.3 493.00 217.6 493.25 217.2 493.50 216.0 493.75 216.0 494.00 214.9 494.25 214.8 494.50 215.3 494.75 216.6 495.00 216.7 495.25 215.3 495.50 216.7 495.75 214.4 496.00 220.3 496.25 221.4 496.50 217.7 496.75 219.1 497.00 218.7 497.25 220.0 497.50 217.9 497.75 216.4 498.00 220.2 498.25 217.1 498.50 219.4 498.75 217.3 499.00 217.4 499.25 220.1 499.50 220.8 499.75 217.5 500.00 216.4 500.25 216.7 500.50 214.2 500.75 210.8 501.00 211.7 501.25 205.9 501.50 207.7 501.75 203.4 502.00 201.7 502.25 196.9 502.50 197.4 502.75 200.5 503.00 204.0 503.25 206.1 503.50 208.3 503.75 208.5 504.00 213.5 504.25 214.6 504.50 215.4 504.75 219.2 505.00 216.7 505.25 221.4 505.50 218.0 505.75 218.2 506.00 219.3 506.25 217.4 506.50 218.8 506.75 219.7 507.00 216.7 507.25 218.0 507.50 216.8 507.75 218.1 508.00 220.4 508.25 217.6 508.50 217.7 508.75 218.2 509.00 215.9 509.25 218.0 509.50 216.7 509.75 216.5 510.00 214.7 510.25 216.4 510.50 219.1 510.75 219.4 511.00 217.1 511.25 217.8 511.50 217.1 511.75 216.2 512.00 215.2 512.25 221.1 512.50 216.9 512.75 218.9 513.00 221.2 513.25 218.2 513.50 218.7 513.75 219.5 514.00 218.7 514.25 219.7 514.50 218.9 514.75 221.3 515.00 220.4 515.25 217.8 515.50 217.7 515.75 219.0 516.00 219.2 516.25 219.1 516.50 221.9 516.75 219.4 517.00 219.8 517.25 220.8 517.50 217.4 517.75 221.3 518.00 221.6 518.25 223.0 518.50 219.1 518.75 219.9 519.00 221.0 519.25 219.9 519.50 218.0 519.75 221.5 520.00 219.3 520.25 220.1 520.50 217.6 520.75 220.6 521.00 218.4 521.25 217.7 521.50 220.2 521.75 220.8 522.00 217.7 522.25 221.0 522.50 222.3 522.75 220.4 523.00 217.9 523.25 221.3 523.50 222.1 523.75 218.8 524.00 223.0 524.25 219.9 524.50 219.9 524.75 221.9 525.00 220.4 525.25 222.2 525.50 220.2 525.75 220.9 526.00 220.2 526.25 220.4 526.50 220.7 526.75 220.2 527.00 218.5 527.25 220.1 527.50 218.1 527.75 219.9 528.00 218.8 528.25 217.6 528.50 216.7 528.75 218.2 529.00 220.6 529.25 219.0 529.50 220.4 529.75 218.8 530.00 218.4 530.25 217.6 530.50 215.3 530.75 218.5 531.00 217.6 531.25 216.9 531.50 217.6 531.75 214.0 532.00 217.5 532.25 211.4 532.50 212.9 532.75 209.1 533.00 208.7 533.25 208.8 533.50 201.8 533.75 201.3 534.00 197.9 534.25 195.1 534.50 193.6 534.75 194.8 535.00 196.5 535.25 199.6 535.50 204.0 535.75 206.9 536.00 208.4 536.25 208.9 536.50 214.0 536.75 213.6 537.00 217.9 537.25 215.2 537.50 214.9 537.75 219.3 538.00 216.8 538.25 216.0 538.50 220.7 538.75 216.7 539.00 221.4 539.25 217.9 539.50 220.2 539.75 220.0 540.00 216.7 540.25 219.6 540.50 218.9 540.75 219.7 541.00 220.2 541.25 221.7 541.50 218.6 541.75 218.6 542.00 222.0 542.25 219.6 542.50 219.6 542.75 215.9 543.00 216.2 543.25 217.6 543.50 218.4"/><path d="M60.00 197.4 60.25 199.8 60.50 198.7 60.75 199.7 61.00 201.5 61.25 200.6 61.50 202.3 61.75 202.0 62.00 203.3 62.25 199.4 62.50 199.8 62.75 199.0 63.00 201.7 63.25 200.1 63.50 201.7 63.75 200.5 64.00 200.0 64.25 203.3 64.50 201.0 64.75 200.2 65.00 199.0 65.25 202.9 65.50 203.0 65.75 200.0 66.00 201.8 66.25 202.5 66.50 199.5 66.75 201.6 67.00 204.1 67.25 199.0 67.50 202.1 67.75 204.2 68.00 200.0 68.25 200.2 68.50 201.3 68.75 201.9 69.00 201.8 69.25 199.0 69.50 200.4 69.75 202.0 70.00 201.6 70.25 204.2 70.50 202.1 70.75 202.3 71.00 206.0 71.25 202.9 71.50 201.4 71.75 202.9 72.00 202.3 72.25 203.6 72.50 203.0 72.75 201.7 73.00 201.7 73.25 201.7 73.50 205.0 73.75 206.4 74.00 203.5 74.25 204.8 74.50 204.7 74.75 203.5 75.00 203.6 75.25 203.8 75.50 201.6 75.75 203.5 76.00 205.5 76.25 206.3 76.50 204.4 76.75 204.1 77.00 205.7 77.25 207.9 77.50 203.0 77.75 203.3 78.00 203.9 78.25 205.6 78.50 203.5 78.75 205.9 79.00 204.2 79.25 206.5 79.50 205.3 79.75 205.2 80.00 207.3 80.25 204.0 80.50 204.7 80.75 207.0 81.00 207.1 81.25 206.4 81.50 202.8 81.75 207.9 82.00 207.8 82.25 207.3 82.50 205.3 82.75 210.4 83.00 212.3 83.25 210.5 83.50 211.9 83.75 208.6 84.00 209.7 84.25 208.1 84.50 207.1 84.75 208.1 85.00 207.2 85.25 207.5 85.50 207.7 85.75 208.6 86.00 209.1 86.25 210.2 86.50 208.3 86.75 211.0 87.00 207.7 87.25 210.7 87.50 210.6 87.75 206.6 88.00 209.6 88.25 211.7 88.50 210.4 88.75 208.7 89.00 208.6 89.25 209.9 89.50 209.7 89.75 210.8 90.00 209.8 90.25 211.1 90.50 210.4 90.75 208.5 91.00 208.2 91.25 209.0 91.50 210.5 91.75 208.5 92.00 211.4 92.25 207.5 92.50 209.7 92.75 208.8 93.00 211.0 93.25 210.9 93.50 210.6 93.75 209.0 94.00 209.6 94.25 210.0 94.50 212.6 94.75 209.9 95.00 211.6 95.25 212.3 95.50 209.4 95.75 209.9 96.00 207.1 96.25 210.0 96.50 211.7 96.75 208.8 97.00 210.7 97.25 211.2 97.50 210.3 97.75 209.0 98.00 210.1 98.25 208.9 98.50 209.7 98.75 214.6 99.00 210.5 99.25 210.7 99.50 212.5 99.75 213.2 100.00 214.4 100.25 212.2 100.50 212.0 100.75 212.3 101.00 215.2 101.25 215.7 101.50 212.6 101.75 212.8 102.00 213.4 102.25 211.6 102.50 212.0 102.75 214.0 103.00 210.3 103.25 212.6 103.50 213.7 103.75 209.9 104.00 213.3 104.25 211.4 104.50 210.6 104.75 213.0 105.00 211.9 105.25 211.8 105.50 211.6 105.75 211.7 106.00 212.7 106.25 213.7 106.50 215.8 106.75 214.5 107.00 215.7 107.25 214.8 107.50 216.4 107.75 215.5 108.00 217.5 108.25 215.6 108.50 212.2 108.75 214.2 109.00 213.3 109.25 215.2 109.50 213.5 109.75 214.9 110.00 214.9 110.25 213.0 110.50 214.1 110.75 215.2 111.00 214.0 111.25 221.7 111.50 217.4 111.75 214.6 112.00 214.2 112.25 216.4 112.50 215.2 112.75 212.8 113.00 212.1 113.25 214.5 113.50 213.4 113.75 214.5 114.00 213.6 114.25 215.6 114.50 210.9 114.75 215.1 115.00 213.1 115.25 213.2 115.50 216.6 115.75 212.2 116.00 215.4 116.25 215.1 116.50 217.7 116.75 213.5 117.00 216.5 117.25 216.8 117.50 216.0 117.75 216.3 118.00 215.9 118.25 213.8 118.50 215.3 118.75 213.0 119.00 217.7 119.25 217.7 119.50 213.9 119.75 218.0 120.00 215.7 120.25 213.4 120.50 214.6 120.75 216.6 121.00 215.3 121.25 213.6 121.50 216.4 121.75 214.9 122.00 214.4 122.25 213.1 122.50 215.9 122.75 216.3 123.00 213.1 123.25 214.2 123.50 214.1 123.75 214.7 124.00 212.6 124.25 217.6 124.50 215.0 124.75 216.1 125.00 214.4 125.25 218.5 125.50 216.0 125.75 212.5 126.00 217.0 126.25 215.3 126.50 213.6 126.75 215.2 127.00 213.8 127.25 216.5 127.50 216.5 127.75 213.4 128.00 216.9 128.25 217.8 128.50 212.3 128.75 218.6 129.00 217.6 129.25 217.9 129.50 218.8 129.75 216.3 130.00 214.8 130.25 216.7 130.50 215.7 130.75 216.7 131.00 212.2 131.25 215.3 131.50 220.3 131.75 216.8 132.00 217.9 132.25 216.9 132.50 215.9 132.75 217.9 133.00 217.9 133.25 216.3 133.50 216.8 133.75 218.4 134.00 216.3 134.25 216.5 134.50 219.9 134.75 219.9 135.00 217.8 135.25 220.7 135.50 219.5 135.75 218.8 136.00 217.3 136.25 219.3 136.50 217.3 136.75 218.1 137.00 217.3 137.25 220.3 137.50 218.7 137.75 218.5 138.00 219.7 138.25 222.7 138.50 220.4 138.75 216.4 139.00 219.0 139.25 219.2 139.50 218.2 139.75 217.6 140.00 221.9 140.25 220.3 140.50 220.4 140.75 219.3 141.00 219.8 141.25 219.0 141.50 218.3 141.75 217.5 142.00 216.1 142.25 216.5 142.50 217.6 142.75 216.2 143.00 218.3 143.25 216.4 143.50 219.4 143.75 216.1 144.00 219.1 144.25 220.9 144.50 220.4 144.75 218.2 145.00 221.1 145.25 218.9 145.50 219.3 145.75 218.4 146.00 215.4 146.25 219.0 146.50 218.7 146.75 219.1 147.00 216.4 147.25 219.3 147.50 217.1 147.75 216.3 148.00 216.7 148.25 218.7 148.50 217.7 148.75 220.8 149.00 219.3 149.25 219.5 149.50 216.9 149.75 214.9 150.00 213.4 150.25 215.1 150.50 217.0 150.75 216.7 151.00 211.8 151.25 215.0 151.50 215.9 151.75 213.5 152.00 215.5 152.25 214.6 152.50 216.4 152.75 216.8 153.00 216.3 153.25 217.0 153.50 216.4 153.75 218.0 154.00 213.0 154.25 219.3 154.50 220.5 154.75 217.0 155.00 219.1 155.25 220.6 155.50 218.7 155.75 218.8 156.00 219.8 156.25 221.1 156.50 217.6 156.75 220.1 157.00 220.4 157.25 217.3 157.50 219.6 157.75 221.6 158.00 219.1 158.25 218.6 158.50 220.9 158.75 217.3 159.00 217.5 159.25 219.5 159.50 219.8 159.75 214.7 160.00 215.6 160.25 216.0 160.50 216.5 160.75 214.0 161.00 210.6 161.25 210.3 161.50 201.7 161.75 200.3 162.00 194.6 162.25 189.4 162.50 187.9 162.75 190.2 163.00 201.0 163.25 204.4 163.50 208.7 163.75 214.0 164.00 210.7 164.25 218.7 164.50 217.3 164.75 217.9 165.00 216.6 165.25 218.3 165.50 218.4 165.75 218.0 166.00 215.3 166.25 218.5 166.50 218.4 166.75 219.6 167.00 218.9 167.25 218.8 167.50 218.7 167.75 216.1 168.00 215.4 168.25 218.0 168.50 216.8 168.75 218.3 169.00 215.2 169.25 215.8 169.50 217.4 169.75 215.7 170.00 213.5 170.25 214.8 170.50 212.2 170.75 206.3 171.00 204.0 171.25 208.5 171.50 211.8 171.75 213.9 172.00 214.4 172.25 211.3 172.50 216.5 172.75 216.1 173.00 215.0 173.25 211.8 173.50 213.3 173.75 213.1 174.00 211.8 174.25 210.9 174.50 206.2 174.75 209.2 175.00 207.2 175.25 204.6 175.50 201.6 175.75 193.4 176.00 183.6 176.25 157.6 176.50 120.7 176.75 60.1 177.00 25.4 177.25 59.9 177.50 119.2 177.75 159.3 178.00 183.5 178.25 193.6 178.50 203.2 178.75 207.4 179.00 209.3 179.25 211.5 179.50 211.7 179.75 216.8 180.00 215.8 180.25 213.2 180.50 217.1 180.75 214.0 181.00 216.4 181.25 217.1 181.50 215.6 181.75 215.2 182.00 216.7 182.25 217.0 182.50 216.5 182.75 216.8 183.00 214.2 183.25 216.5 183.50 215.3 183.75 217.4 184.00 215.9 184.25 216.7 184.50 216.7 184.75 217.7 185.00 218.0 185.25 218.2 185.50 219.2 185.75 216.5 186.00 220.3 186.25 216.9 186.50 215.9 186.75 217.2 187.00 215.8 187.25 215.4 187.50 216.3 187.75 213.9 188.00 217.5 188.25 213.8 188.50 215.1 188.75 218.2 189.00 218.5 189.25 217.6 189.50 214.9 189.75 216.6 190.00 216.2 190.25 216.0 190.50 216.3 190.75 217.2 191.00 217.8 191.25 216.7 191.50 214.9 191.75 216.3 192.00 216.7 192.25 217.7 192.50 215.2 192.75 215.3 193.00 214.8 193.25 213.7 193.50 215.6 193.75 213.3 194.00 214.3 194.25 212.2 194.50 208.2 194.75 205.9 195.00 203.7 195.25 206.3 195.50 209.3 195.75 214.0 196.00 213.6 196.25 217.4 196.50 217.5 196.75 217.3 197.00 214.9 197.25 215.1 197.50 216.5 197.75 216.6 198.00 214.3 198.25 219.0 198.50 216.6 198.75 216.3 199.00 217.6 199.25 215.8 199.50 214.0 199.75 217.4 200.00 216.7 200.25 218.0 200.50 218.4 200.75 215.6 201.00 216.8 201.25 219.4 201.50 220.2 201.75 217.6 202.00 217.8 202.25 218.0 202.50 217.9 202.75 221.6 203.00 220.1 203.25 216.4 203.50 216.9 203.75 219.3 204.00 218.3 204.25 218.9 204.50 218.4 204.75 215.9 205.00 215.1 205.25 214.7 205.50 215.9 205.75 217.6 206.00 216.0 206.25 220.1 206.50 214.3 206.75 216.5 207.00 218.8 207.25 220.2 207.50 215.8 207.75 217.7 208.00 218.2 208.25 213.4 208.50 217.0 208.75 214.6 209.00 211.6 209.25 210.5 209.50 203.5 209.75 192.4 210.00 178.9 210.25 150.2 210.50 129.1 210.75 126.3 211.00 157.4 211.25 178.7 211.50 194.3 211.75 202.1 212.00 207.5 212.25 206.5 212.50 208.2 212.75 207.5 213.00 207.3 213.25 203.9 213.50 200.8 213.75 197.4 214.00 192.6 214.25 197.0 214.50 201.8 214.75 206.2 215.00 213.1 215.25 212.7 215.50 215.0 215.75 213.1 216.00 215.7 216.25 217.6 216.50 214.2 216.75 214.1 217.00 212.7 217.25 213.0 217.50 217.7 217.75 212.2 218.00 213.7 218.25 213.9 218.50 211.3 218.75 209.8 219.00 208.4 219.25 210.8 219.50 208.4 219.75 211.6 220.00 213.5 220.25 211.6 220.50 214.3 220.75 215.8 221.00 219.1 221.25 216.2 221.50 219.5 221.75 216.7 222.00 220.8 222.25 217.6 222.50 220.1 222.75 223.1 223.00 219.9 223.25 220.5 223.50 216.2 223.75 218.5 224.00 218.4 224.25 216.4 224.50 216.4 224.75 213.2 225.00 212.9 225.25 210.3 225.50 208.8 225.75 212.4 226.00 210.8 226.25 213.8 226.50 217.3 226.75 216.8 227.00 214.6 227.25 215.6 227.50 215.2 227.75 216.4 228.00 219.2 228.25 219.1 228.50 215.7 228.75 214.3 229.00 218.1 229.25 212.7 229.50 217.3 229.75 212.7 230.00 217.1 230.25 216.9 230.50 216.1 230.75 215.4 231.00 218.5 231.25 218.8 231.50 218.7 231.75 222.7 232.00 218.9 232.25 218.6 232.50 221.9 232.75 224.5 233.00 218.3 233.25 218.6 233.50 217.6 233.75 218.3 234.00 218.4 234.25 215.2 234.50 215.3 234.75 213.5 235.00 214.8 235.25 213.6 235.50 214.2 235.75 212.7 236.00 212.9 236.25 209.2 236.50 209.9 236.75 208.7 237.00 207.4 237.25 201.9 237.50 197.8 237.75 193.5 238.00 184.9 238.25 177.1 238.50 177.7 238.75 182.9 239.00 191.9 239.25 198.4 239.50 202.8 239.75 208.3 240.00 208.2 240.25 213.4 240.50 215.0 240.75 215.7 241.00 212.8 241.25 215.3 241.50 217.4 241.75 216.7 242.00 217.1 242.25 216.8 242.50 217.8 242.75 216.0 243.00 213.3 243.25 216.0 243.50 218.7 243.75 216.0 244.00 215.7 244.25 217.7 244.50 213.3 244.75 213.0 245.00 214.1 245.25 215.7 245.50 218.0 245.75 217.1 246.00 215.4 246.25 217.9 246.50 216.0 246.75 215.9 247.00 215.0 247.25 213.5 247.50 214.4 247.75 213.0 248.00 211.0 248.25 212.8 248.50 216.1 248.75 213.2 249.00 210.9 249.25 212.7 249.50 215.3 249.75 209.8 250.00 211.7 250.25 205.3 250.50 196.3 250.75 193.4 251.00 187.1 251.25 173.1 251.50 158.8 251.75 154.9 252.00 159.5 252.25 165.3 252.50 180.2 252.75 190.8 253.00 199.7 253.25 202.8 253.50 205.7 253.75 210.6 254.00 211.7 254.25 212.2 254.50 212.1 254.75 214.7 255.00 212.8 255.25 217.4 255.50 213.3 255.75 216.1 256.00 215.9 256.25 215.0 256.50 214.2 256.75 216.4 257.00 214.9 257.25 213.4 257.50 215.1 257.75 215.7 258.00 212.2 258.25 216.9 258.50 212.2 258.75 215.7 259.00 215.3 259.25 212.7 259.50 215.2 259.75 214.0 260.00 216.4 260.25 214.7 260.50 216.1 260.75 216.1 261.00 217.0 261.25 213.2 261.50 216.6 261.75 209.3 262.00 209.1 262.25 207.7 262.50 202.1 262.75 196.9 263.00 193.0 263.25 180.0 263.50 170.0 263.75 161.8 264.00 157.4 264.25 159.0 264.50 170.8 264.75 181.6 265.00 189.9 265.25 194.7 265.50 197.5 265.75 198.7 266.00 203.7 266.25 201.1 266.50 197.5 266.75 193.4 267.00 189.2 267.25 183.3 267.50 177.9 267.75 177.3 268.00 185.8 268.25 191.0 268.50 195.5 268.75 205.0 269.00 209.3 269.25 209.3 269.50 210.3 269.75 211.2 270.00 211.7 270.25 212.1 270.50 211.9 270.75 212.3 271.00 213.1 271.25 214.0 271.50 214.7 271.75 215.5 272.00 213.3 272.25 216.2 272.50 213.9 272.75 214.0 273.00 216.6 273.25 213.1 273.50 215.7 273.75 212.5 274.00 214.7 274.25 216.2 274.50 216.1 274.75 212.6 275.00 212.3 275.25 216.1 275.50 213.9 275.75 215.1 276.00 209.9 276.25 214.1 276.50 211.5 276.75 207.6 277.00 207.8 277.25 207.1 277.50 201.5 277.75 193.0 278.00 185.3 278.25 182.5 278.50 175.3 278.75 175.2 279.00 181.5 279.25 188.8 279.50 194.5 279.75 202.0 280.00 206.7 280.25 206.6 280.50 212.6 280.75 210.8 281.00 213.4 281.25 214.9 281.50 215.4 281.75 216.8 282.00 211.9 282.25 211.9 282.50 212.9 282.75 214.9 283.00 217.0 283.25 214.9 283.50 215.4 283.75 216.6 284.00 216.6 284.25 221.2 284.50 216.0 284.75 220.4 285.00 220.9 285.25 216.6 285.50 216.0 285.75 215.4 286.00 213.6 286.25 212.5 286.50 209.7 286.75 210.3 287.00 208.4 287.25 202.9 287.50 203.5 287.75 201.1 288.00 202.1 288.25 205.2 288.50 206.0 288.75 210.0 289.00 209.5 289.25 208.5 289.50 205.8 289.75 199.6 290.00 197.3 290.25 194.2 290.50 195.0 290.75 191.7 291.00 198.8 291.25 198.3 291.50 204.9 291.75 208.2 292.00 212.8 292.25 214.0 292.50 213.4 292.75 214.5 293.00 211.9 293.25 211.5 293.50 216.5 293.75 219.6 294.00 217.1 294.25 215.0 294.50 216.8 294.75 213.2 295.00 216.0 295.25 215.8 295.50 218.4 295.75 216.5 296.00 217.4 296.25 213.2 296.50 214.5 296.75 212.9 297.00 214.4 297.25 211.9 297.50 209.3 297.75 202.4 298.00 204.5 298.25 196.8 298.50 194.6 298.75 198.8 299.00 200.1 299.25 202.1 299.50 206.7 299.75 206.6 300.00 209.7 300.25 213.9 300.50 213.0 300.75 214.2 301.00 212.9 301.25 214.6 301.50 214.9 301.75 215.2 302.00 219.1 302.25 215.9 302.50 216.2 302.75 217.7 303.00 215.2 303.25 216.7 303.50 212.5 303.75 214.9 304.00 216.4 304.25 214.5 304.50 216.6 304.75 215.2 305.00 216.7 305.25 217.3 305.50 214.8 305.75 212.8 306.00 212.4 306.25 213.3 306.50 212.0 306.75 208.1 307.00 210.4 307.25 208.0 307.50 202.2 307.75 197.3 308.00 190.0 308.25 178.8 308.50 169.7 308.75 160.9 309.00 155.8 309.25 157.2 309.50 165.3 309.75 176.0 310.00 184.1 310.25 189.9 310.50 191.4 310.75 196.1 311.00 195.9 311.25 195.3 311.50 191.9 311.75 194.2 312.00 194.6 312.25 198.8 312.50 199.4 312.75 205.0 313.00 206.9 313.25 208.0 313.50 210.8 313.75 210.8 314.00 213.3 314.25 214.5 314.50 215.3 314.75 216.4 315.00 217.4 315.25 214.6 315.50 217.0 315.75 212.5 316.00 214.2 316.25 219.2 316.50 216.8 316.75 215.4 317.00 219.5 317.25 213.8 317.50 215.0 317.75 213.5 318.00 216.0 318.25 214.1 318.50 212.2 318.75 213.3 319.00 214.5 319.25 216.8 319.50 216.6 319.75 217.2 320.00 216.7 320.25 215.2 320.50 219.2 320.75 215.2 321.00 216.8 321.25 215.0 321.50 215.2 321.75 215.4 322.00 214.3 322.25 217.3 322.50 215.9 322.75 217.7 323.00 218.4 323.25 217.6 323.50 216.9 323.75 217.5 324.00 215.7 324.25 217.3 324.50 213.1 324.75 214.9 325.00 217.4 325.25 213.3 325.50 216.0 325.75 216.3 326.00 214.6 326.25 212.6 326.50 214.9 326.75 216.0 327.00 214.2 327.25 208.5 327.50 212.6 327.75 207.1 328.00 208.2 328.25 202.5 328.50 199.2 328.75 194.7 329.00 183.9 329.25 181.0 329.50 174.6 329.75 176.5 330.00 180.6 330.25 187.9 330.50 193.2 330.75 201.0 331.00 207.3 331.25 207.9 331.50 214.0 331.75 214.6 332.00 212.4 332.25 215.5 332.50 216.7 332.75 216.1 333.00 217.1 333.25 218.0 333.50 215.8 333.75 217.1 334.00 216.0 334.25 214.7 334.50 217.1 334.75 215.6 335.00 216.1 335.25 217.9 335.50 213.5 335.75 218.0 336.00 217.9 336.25 217.8 336.50 218.8 336.75 218.7 337.00 219.2 337.25 216.2 337.50 218.2 337.75 219.5 338.00 219.0 338.25 219.5 338.50 218.0 338.75 222.2 339.00 219.4 339.25 220.4 339.50 220.5 339.75 218.1 340.00 217.9 340.25 216.9 340.50 219.1 340.75 220.3 341.00 219.0 341.25 215.4 341.50 219.1 341.75 219.1 342.00 217.6 342.25 214.4 342.50 213.9 342.75 215.8 343.00 214.4 343.25 217.3 343.50 218.7 343.75 218.8 344.00 217.9 344.25 218.0 344.50 218.0 344.75 216.4 345.00 214.5 345.25 218.7 345.50 218.3 345.75 211.5 346.00 216.5 346.25 214.3 346.50 212.1 346.75 214.4 347.00 209.0 347.25 207.8 347.50 205.1 347.75 202.9 348.00 194.1 348.25 188.4 348.50 179.4 348.75 174.2 349.00 173.2 349.25 175.4 349.50 180.0 349.75 187.7 350.00 192.4 350.25 202.6 350.50 205.3 350.75 210.6 351.00 211.3 351.25 212.7 351.50 213.6 351.75 212.1 352.00 216.6 352.25 217.0 352.50 215.1 352.75 217.2 353.00 217.0 353.25 216.3 353.50 216.3 353.75 215.8 354.00 216.9 354.25 220.7 354.50 220.6 354.75 219.7 355.00 221.5 355.25 220.2 355.50 219.2 355.75 220.7 356.00 219.4 356.25 219.1 356.50 220.0 356.75 217.0 357.00 220.5 357.25 218.6 357.50 216.4 357.75 218.0 358.00 214.5 358.25 213.5 358.50 214.8 358.75 215.2 359.00 212.8 359.25 210.9 359.50 214.8 359.75 210.5 360.00 206.8 360.25 206.9 360.50 209.1 360.75 209.0 361.00 209.2 361.25 217.2 361.50 217.5 361.75 213.8 362.00 218.3 362.25 218.4 362.50 216.1 362.75 216.9 363.00 216.2 363.25 217.9 363.50 219.9 363.75 217.2 364.00 216.2 364.25 219.1 364.50 216.2 364.75 214.5 365.00 214.2 365.25 213.8 365.50 214.7 365.75 214.1 366.00 213.0 366.25 211.2 366.50 204.8 366.75 205.6 367.00 199.5 367.25 198.9 367.50 197.0 367.75 196.1 368.00 199.1 368.25 202.8 368.50 207.7 368.75 210.6 369.00 215.5 369.25 214.9 369.50 216.5 369.75 217.1 370.00 216.7 370.25 218.7 370.50 216.2 370.75 218.0 371.00 216.6 371.25 217.4 371.50 215.1 371.75 215.6 372.00 219.2 372.25 218.2 372.50 218.7 372.75 217.1 373.00 216.0 373.25 218.2 373.50 218.9 373.75 215.4 374.00 213.2 374.25 215.7 374.50 216.0 374.75 213.0 375.00 212.7 375.25 214.6 375.50 214.3 375.75 213.0 376.00 207.5 376.25 206.0 376.50 201.9 376.75 197.9 377.00 197.6 377.25 200.5 377.50 200.2 377.75 203.7 378.00 207.4 378.25 208.6 378.50 209.6 378.75 212.2 379.00 215.8 379.25 215.1 379.50 213.8 379.75 216.2 380.00 215.4 380.25 217.3 380.50 216.7 380.75 214.9 381.00 215.9 381.25 217.1 381.50 217.0 381.75 215.7 382.00 216.5 382.25 213.9 382.50 214.2 382.75 214.2 383.00 210.8 383.25 214.9 383.50 212.7 383.75 213.4 384.00 211.4 384.25 213.6 384.50 210.9 384.75 208.7 385.00 209.1 385.25 203.4 385.50 198.3 385.75 200.3 386.00 196.1 386.25 196.3 386.50 200.3 386.75 206.2 387.00 208.0 387.25 208.4 387.50 211.8 387.75 217.1 388.00 215.5 388.25 216.7 388.50 214.6 388.75 215.3 389.00 219.1 389.25 215.4 389.50 216.7 389.75 217.3 390.00 217.1 390.25 215.6 390.50 217.3 390.75 215.1 391.00 214.1 391.25 216.7 391.50 216.2 391.75 215.5 392.00 216.5 392.25 214.7 392.50 217.5 392.75 218.7 393.00 213.8 393.25 215.1 393.50 215.4 393.75 214.1 394.00 216.0 394.25 217.5 394.50 214.9 394.75 216.3 395.00 213.8 395.25 213.6 395.50 211.5 395.75 212.2 396.00 209.9 396.25 213.8 396.50 210.5 396.75 211.4 397.00 213.9 397.25 212.7 397.50 215.2 397.75 215.5 398.00 215.2 398.25 212.4 398.50 215.3 398.75 216.0 399.00 216.0 399.25 216.1 399.50 215.4 399.75 215.9 400.00 217.4 400.25 217.2 400.50 215.5 400.75 217.0 401.00 217.5 401.25 217.2 401.50 214.7 401.75 217.9 402.00 211.1 402.25 213.6 402.50 211.7 402.75 209.6 403.00 207.5 403.25 204.1 403.50 202.6 403.75 199.7 404.00 198.6 404.25 199.8 404.50 202.0 404.75 206.8 405.00 210.6 405.25 210.8 405.50 213.4 405.75 216.9 406.00 213.8 406.25 217.1 406.50 215.9 406.75 217.7 407.00 218.4 407.25 219.8 407.50 216.5 407.75 219.0 408.00 217.4 408.25 219.8 408.50 216.4 408.75 220.2 409.00 221.4 409.25 222.0 409.50 220.7 409.75 218.8 410.00 217.4 410.25 219.4 410.50 218.0 410.75 213.5 411.00 212.7 411.25 213.7 411.50 210.3 411.75 205.2 412.00 203.0 412.25 201.0 412.50 201.6 412.75 201.9 413.00 203.5 413.25 205.3 413.50 208.2 413.75 210.2 414.00 215.3 414.25 211.7 414.50 216.1 414.75 217.0 415.00 216.5 415.25 212.5 415.50 216.2 415.75 216.2 416.00 215.1 416.25 215.5 416.50 216.1 416.75 217.8 417.00 216.1 417.25 218.1 417.50 215.9 417.75 220.9 418.00 215.4 418.25 217.7 418.50 216.1 418.75 216.2 419.00 218.7 419.25 220.3 419.50 217.2 419.75 219.1 420.00 217.8 420.25 219.9 420.50 214.4 420.75 219.2 421.00 217.5 421.25 217.5 421.50 217.0 421.75 214.7 422.00 218.6 422.25 217.8 422.50 215.8 422.75 216.6 423.00 216.8 423.25 214.4 423.50 217.7 423.75 218.6 424.00 217.7 424.25 217.5 424.50 215.1 424.75 216.7 425.00 215.4 425.25 217.3 425.50 219.1 425.75 224.0 426.00 219.5 426.25 220.2 426.50 219.7 426.75 220.0 427.00 222.2 427.25 219.4 427.50 220.1 427.75 220.9 428.00 218.2 428.25 223.2 428.50 218.8 428.75 219.9 429.00 221.9 429.25 219.2 429.50 215.3 429.75 220.4 430.00 221.3 430.25 220.2 430.50 221.7 430.75 220.3 431.00 222.9 431.25 222.7 431.50 220.1 431.75 221.7 432.00 218.9 432.25 220.4 432.50 220.9 432.75 217.5 433.00 219.6 433.25 215.7 433.50 216.8 433.75 216.2 434.00 219.4 434.25 216.2 434.50 219.8 434.75 215.2 435.00 215.1 435.25 213.3 435.50 214.8 435.75 212.9 436.00 212.4 436.25 212.0 436.50 209.6 436.75 206.4 437.00 203.2 437.25 202.5 437.50 202.3 437.75 199.2 438.00 196.7 438.25 196.7 438.50 201.7 438.75 203.8 439.00 205.7 439.25 208.6 439.50 210.7 439.75 211.8 440.00 214.6 440.25 215.0 440.50 216.8 440.75 216.3 441.00 214.6 441.25 217.4 441.50 219.8 441.75 214.6 442.00 217.1 442.25 215.1 442.50 216.8 442.75 220.8 443.00 218.6 443.25 216.1 443.50 216.2 443.75 216.9 444.00 219.0 444.25 217.7 444.50 216.6 444.75 218.5 445.00 214.0 445.25 215.5 445.50 217.7 445.75 213.2 446.00 212.0 446.25 208.9 446.50 207.6 446.75 206.5 447.00 207.4 447.25 207.9 447.50 207.3 447.75 213.5 448.00 213.6 448.25 218.1 448.50 218.4 448.75 219.1 449.00 220.3 449.25 220.6 449.50 217.8 449.75 220.5 450.00 221.3 450.25 218.9 450.50 215.6 450.75 216.9 451.00 217.2 451.25 215.6 451.50 214.8 451.75 218.0 452.00 214.5 452.25 213.0 452.50 212.7 452.75 207.7 453.00 209.2 453.25 202.5 453.50 198.9 453.75 193.0 454.00 193.1 454.25 196.7 454.50 198.6 454.75 202.1 455.00 205.7 455.25 210.0 455.50 209.0 455.75 216.5 456.00 217.0 456.25 217.9 456.50 214.1 456.75 218.0 457.00 220.4 457.25 217.6 457.50 216.8 457.75 215.6 458.00 217.4 458.25 219.3 458.50 215.4 458.75 216.1 459.00 219.3 459.25 216.1 459.50 217.9 459.75 217.7 460.00 219.1 460.25 216.2 460.50 217.5 460.75 215.9 461.00 219.5 461.25 216.8 461.50 220.1 461.75 216.0 462.00 217.0 462.25 219.5 462.50 217.9 462.75 218.4 463.00 216.9 463.25 217.4 463.50 216.9 463.75 218.2 464.00 219.8 464.25 220.5 464.50 219.9 464.75 216.2 465.00 220.9 465.25 220.6 465.50 219.1 465.75 218.9 466.00 215.6 466.25 217.7 466.50 220.5 466.75 221.8 467.00 219.1 467.25 217.4 467.50 218.2 467.75 218.7 468.00 215.9 468.25 217.2 468.50 217.3 468.75 217.5 469.00 214.2 469.25 212.1 469.50 212.6 469.75 210.4 470.00 209.0 470.25 207.0 470.50 207.0 470.75 205.9 471.00 208.5 471.25 208.6 471.50 209.1 471.75 214.1 472.00 213.2 472.25 213.1 472.50 212.6 472.75 210.6 473.00 215.0 473.25 215.5 473.50 213.6 473.75 215.5 474.00 214.3 474.25 215.9 474.50 216.4 474.75 215.2 475.00 215.8 475.25 217.7 475.50 215.7 475.75 214.1 476.00 213.4 476.25 215.7 476.50 218.2 476.75 215.0 477.00 215.0 477.25 214.5 477.50 212.0 477.75 212.6 478.00 205.5 478.25 206.1 478.50 206.2 478.75 202.6 479.00 203.2 479.25 203.9 479.50 203.5 479.75 202.9 480.00 206.0 480.25 210.1 480.50 214.8 480.75 213.1 481.00 210.3 481.25 214.7 481.50 215.6 481.75 216.6 482.00 218.0 482.25 212.0 482.50 222.2 482.75 220.0 483.00 219.7 483.25 219.3 483.50 216.9 483.75 218.0 484.00 221.2 484.25 218.4 484.50 217.4 484.75 214.9 485.00 212.7 485.25 211.3 485.50 210.7 485.75 208.9 486.00 207.5 486.25 204.1 486.50 206.5 486.75 208.3 487.00 208.6 487.25 212.8 487.50 211.8 487.75 218.4 488.00 216.2 488.25 216.6 488.50 215.9 488.75 217.6 489.00 221.0 489.25 216.3 489.50 218.6 489.75 221.5 490.00 215.3 490.25 219.8 490.50 218.2 490.75 221.4 491.00 218.0 491.25 217.0 491.50 218.8 491.75 221.8 492.00 218.0 492.25 218.5 492.50 218.3 492.75 216.1 493.00 216.6 493.25 216.6 493.50 217.5 493.75 216.5 494.00 216.2 494.25 213.9 494.50 220.2 494.75 217.1 495.00 217.4 495.25 219.4 495.50 221.2 495.75 219.2 496.00 219.8 496.25 217.8 496.50 219.8 496.75 220.3 497.00 218.5 497.25 220.5 497.50 217.3 497.75 221.7 498.00 216.6 498.25 220.1 498.50 216.8 498.75 218.9 499.00 219.9 499.25 214.6 499.50 216.7 499.75 216.5 500.00 213.8 500.25 214.2 500.50 216.2 500.75 211.2 501.00 210.9 501.25 207.3 501.50 205.6 501.75 205.5 502.00 204.0 502.25 197.8 502.50 200.2 502.75 200.7 503.00 198.6 503.25 205.1 503.50 205.1 503.75 207.5 504.00 209.7 504.25 211.9 504.50 214.8 504.75 217.1 505.00 218.9 505.25 215.6 505.50 221.3 505.75 217.3 506.00 216.0 506.25 220.2 506.50 220.3 506.75 221.4 507.00 221.2 507.25 221.7 507.50 218.5 507.75 219.4 508.00 219.1 508.25 220.6 508.50 219.1 508.75 222.3 509.00 220.8 509.25 221.0 509.50 219.0 509.75 218.9 510.00 219.0 510.25 219.5 510.50 215.8 510.75 217.8 511.00 220.7 511.25 220.1 511.50 220.9 511.75 219.8 512.00 219.1 512.25 220.4 512.50 219.4 512.75 221.3 513.00 220.3 513.25 220.7 513.50 221.2 513.75 219.2 514.00 219.2 514.25 219.5 514.50 220.1 514.75 222.6 515.00 219.8 515.25 219.7 515.50 221.8 515.75 222.5 516.00 220.9 516.25 221.9 516.50 220.2 516.75 220.4 517.00 220.2 517.25 221.4 517.50 220.0 517.75 219.7 518.00 217.9 518.25 217.6 518.50 218.7 518.75 218.1 519.00 220.0 519.25 217.8 519.50 219.4 519.75 218.5 520.00 217.4 520.25 217.6 520.50 219.2 520.75 220.2 521.00 218.2 521.25 221.7 521.50 220.9 521.75 221.0 522.00 219.4 522.25 220.0 522.50 219.4 522.75 215.4 523.00 217.1 523.25 221.0 523.50 217.0 523.75 219.1 524.00 219.6 524.25 219.1 524.50 219.9 524.75 223.1 525.00 216.8 525.25 217.9 525.50 223.0 525.75 222.3 526.00 220.0 526.25 223.9 526.50 220.0 526.75 220.2 527.00 221.5 527.25 220.8 527.50 221.5 527.75 220.2 528.00 219.9 528.25 220.7 528.50 222.7 528.75 219.8 529.00 219.6 529.25 222.2 529.50 220.5 529.75 224.0 530.00 223.6 530.25 218.9 530.50 216.3 530.75 217.2 531.00 219.0 531.25 216.8 531.50 218.9 531.75 214.5 532.00 214.7 532.25 214.8 532.50 216.0 532.75 210.8 533.00 211.6 533.25 209.0 533.50 207.0 533.75 203.1 534.00 200.0 534.25 197.8 534.50 196.2 534.75 194.1 535.00 197.6 535.25 200.7 535.50 204.9 535.75 205.4 536.00 211.0 536.25 207.2 536.50 208.9 536.75 211.4 537.00 213.5 537.25 216.5 537.50 215.9 537.75 216.5 538.00 216.5 538.25 215.1 538.50 220.1 538.75 218.9 539.00 216.7 539.25 217.8 539.50 218.1 539.75 219.7 540.00 219.7 540.25 219.8 540.50 218.1 540.75 219.8 541.00 219.1 541.25 217.9 541.50 219.2 541.75 218.4 542.00 218.5 542.25 219.5 542.50 217.5 542.75 222.2 543.00 219.6 543.25 219.1 543.50 220.2"/><path d="M60.00 200.4 L60.25 199.5 L60.50 198.3 L60.75 200.8 L61.00 200.5 L61.25 198.0 L61.50 199.1 L61.75 198.1 L62.00 198.0 L62.25 202.7 L62.50 199.9 L62.75 201.6 L63.00 201.2 L63.25 200.9 L63.50 199.3 L63.75 199.3 L64.00 201.2 L64.25 202.0 L64.50 197.5 L64.75 198.7 L65.00 199.6 L65.25 201.4 L65.50 200.7 L65.75 201.2 L66.00 200.5 L66.25 198.9 L66.50 200.2 L66.75 202.3 L67.00 200.7 L67.25 198.7 L67.50 202.4 L67.75 201.0 L68.00 201.4 L68.25 203.1 L68.50 199.6 L68.75 199.5 L69.00 197.0 L69.25 201.1 L69.50 202.1 L69.75 201.5 L70.00 201.9 L70.25 203.7 L70.50 203.3 L70.75 203.7 L71.00 203.5 L71.25 204.0 L71.50 206.0 L71.75 204.7 L72.00 204.5 L72.25 204.4 L72.50 205.0 L72.75 205.4 L73.00 205.7 L73.25 205.0 L73.50 204.1 L73.75 202.2 L74.00 205.4 L74.25 203.2 L74.50 204.5 L74.75 206.5 L75.00 205.3 L75.25 203.9 L75.50 206.2 L75.75 204.9 L76.00 204.7 L76.25 207.3 L76.50 206.6 L76.75 210.3 L77.00 204.2 L77.25 205.8 L77.50 206.5 L77.75 207.9 L78.00 205.7 L78.25 208.5 L78.50 206.5 L78.75 205.3 L79.00 206.2 L79.25 206.4 L79.50 206.3 L79.75 205.8 L80.00 206.5 L80.25 208.4 L80.50 208.5 L80.75 210.3 L81.00 206.6 L81.25 206.6 L81.50 211.5 L81.75 209.2 L82.00 209.4 L82.25 207.6 L82.50 209.4 L82.75 208.8 L83.00 208.6 L83.25 210.0 L83.50 207.0 L83.75 208.2 L84.00 205.4 L84.25 208.5 L84.50 206.4 L84.75 210.7 L85.00 206.2 L85.25 210.6 L85.50 207.2 L85.75 206.1 L86.00 208.8 L86.25 208.8 L86.50 207.1 L86.75 206.8 L87.00 205.3 L87.25 208.5 L87.50 209.6 L87.75 206.4 L88.00 209.6 L88.25 211.9 L88.50 207.0 L88.75 210.4 L89.00 210.3 L89.25 208.5 L89.50 209.8 L89.75 207.6 L90.00 209.7 L90.25 211.2 L90.50 208.2 L90.75 207.7 L91.00 205.7 L91.25 211.3 L91.50 211.4 L91.75 208.2 L92.00 209.2 L92.25 209.3 L92.50 211.7 L92.75 207.7 L93.00 211.3 L93.25 207.3 L93.50 211.8 L93.75 210.0 L94.00 213.1 L94.25 212.1 L94.50 210.5 L94.75 210.4 L95.00 209.7 L95.25 213.7 L95.50 212.7 L95.75 210.1 L96.00 208.7 L96.25 211.1 L96.50 210.0 L96.75 209.0 L97.00 209.7 L97.25 210.5 L97.50 209.7 L97.75 210.9 L98.00 210.4 L98.25 211.3 L98.50 210.6 L98.75 213.0 L99.00 212.4 L99.25 211.8 L99.50 212.5 L99.75 211.7 L100.00 211.4 L100.25 212.1 L100.50 212.2 L100.75 208.2 L101.00 209.9 L101.25 210.1 L101.50 208.2 L101.75 210.4 L102.00 209.3 L102.25 208.9 L102.50 207.2 L102.75 207.8 L103.00 210.2 L103.25 212.9 L103.50 210.0 L103.75 207.9 L104.00 213.0 L104.25 211.8 L104.50 213.6 L104.75 211.4 L105.00 214.0 L105.25 213.6 L105.50 211.7 L105.75 213.4 L106.00 214.4 L106.25 213.2 L106.50 216.3 L106.75 214.0 L107.00 215.9 L107.25 214.2 L107.50 215.3 L107.75 215.1 L108.00 211.3 L108.25 213.5 L108.50 214.8 L108.75 213.1 L109.00 215.7 L109.25 215.4 L109.50 212.4 L109.75 213.9 L110.00 214.6 L110.25 213.1 L110.50 216.8 L110.75 215.8 L111.00 215.1 L111.25 214.1 L111.50 214.2 L111.75 214.5 L112.00 216.7 L112.25 214.3 L112.50 216.7 L112.75 218.6 L113.00 213.0 L113.25 213.8 L113.50 216.1 L113.75 214.7 L114.00 212.9 L114.25 213.9 L114.50 213.9 L114.75 215.0 L115.00 212.7 L115.25 213.6 L115.50 213.8 L115.75 214.6 L116.00 213.8 L116.25 212.0 L116.50 212.3 L116.75 215.9 L117.00 213.4 L117.25 214.2 L117.50 214.0 L117.75 214.4 L118.00 215.7 L118.25 213.7 L118.50 214.6 L118.75 214.1 L119.00 213.7 L119.25 211.6 L119.50 212.6 L119.75 214.6 L120.00 212.9 L120.25 213.0 L120.50 213.2 L120.75 212.0 L121.00 212.7 L121.25 214.3 L121.50 212.9 L121.75 212.5 L122.00 215.5 L122.25 215.9 L122.50 214.8 L122.75 213.6 L123.00 216.6 L123.25 216.0 L123.50 213.3 L123.75 214.4 L124.00 213.8 L124.25 213.1 L124.50 218.1 L124.75 218.4 L125.00 213.3 L125.25 217.1 L125.50 215.9 L125.75 216.4 L126.00 217.1 L126.25 217.1 L126.50 215.8 L126.75 215.0 L127.00 216.7 L127.25 218.4 L127.50 214.1 L127.75 214.9 L128.00 215.7 L128.25 214.7 L128.50 215.4 L128.75 217.3 L129.00 216.7 L129.25 216.0 L129.50 216.4 L129.75 215.5 L130.00 217.9 L130.25 216.2 L130.50 215.5 L130.75 216.4 L131.00 217.3 L131.25 219.4 L131.50 217.2 L131.75 216.6 L132.00 220.2 L132.25 217.0 L132.50 218.9 L132.75 217.8 L133.00 218.1 L133.25 215.6 L133.50 217.8 L133.75 216.7 L134.00 215.8 L134.25 218.0 L134.50 217.2 L134.75 217.5 L135.00 218.7 L135.25 213.9 L135.50 217.4 L135.75 214.7 L136.00 214.4 L136.25 216.9 L136.50 216.3 L136.75 213.8 L137.00 217.1 L137.25 217.6 L137.50 219.3 L137.75 219.0 L138.00 217.6 L138.25 215.5 L138.50 217.4 L138.75 218.4 L139.00 218.8 L139.25 219.2 L139.50 218.1 L139.75 218.3 L140.00 216.9 L140.25 216.9 L140.50 217.8 L140.75 218.1 L141.00 214.7 L141.25 215.5 L141.50 215.8 L141.75 217.1 L142.00 216.4 L142.25 220.2 L142.50 217.4 L142.75 216.5 L143.00 217.7 L143.25 217.5 L143.50 218.3 L143.75 219.1 L144.00 220.8 L144.25 220.7 L144.50 219.5 L144.75 217.2 L145.00 219.4 L145.25 217.6 L145.50 218.6 L145.75 219.5 L146.00 218.8 L146.25 221.8 L146.50 218.8 L146.75 218.3 L147.00 218.3 L147.25 219.8 L147.50 216.0 L147.75 217.4 L148.00 216.3 L148.25 217.3 L148.50 215.0 L148.75 217.0 L149.00 218.7 L149.25 216.3 L149.50 218.9 L149.75 216.4 L150.00 217.2 L150.25 215.8 L150.50 218.2 L150.75 218.2 L151.00 217.8 L151.25 219.0 L151.50 217.1 L151.75 220.5 L152.00 218.3 L152.25 217.0 L152.50 217.8 L152.75 218.1 L153.00 216.4 L153.25 216.5 L153.50 220.2 L153.75 218.5 L154.00 219.1 L154.25 221.0 L154.50 218.5 L154.75 216.4 L155.00 218.7 L155.25 216.5 L155.50 219.1 L155.75 218.2 L156.00 218.8 L156.25 215.9 L156.50 214.4 L156.75 217.4 L157.00 218.0 L157.25 217.0 L157.50 216.3 L157.75 216.3 L158.00 216.2 L158.25 217.5 L158.50 214.5 L158.75 215.9 L159.00 217.0 L159.25 215.8 L159.50 214.8 L159.75 214.7 L160.00 215.5 M165.00 212.6 L165.25 212.3 L165.50 215.7 L165.75 215.4 L166.00 217.9 L166.25 218.1 L166.50 216.8 L166.75 218.0 L167.00 217.1 L167.25 218.3 L167.50 216.7 L167.75 218.9 L168.00 214.8 L168.25 218.1 L168.50 217.4 L168.75 218.4 L169.00 215.9 L169.25 217.4 L169.50 217.9 L169.75 216.7 L170.00 216.6 M181.25 215.4 L181.50 217.6 L181.75 217.4 L182.00 218.2 L182.25 219.5 L182.50 216.2 L182.75 217.2 L183.00 215.7 L183.25 217.8 L183.50 219.1 L183.75 220.4 L184.00 217.3 L184.25 218.1 L184.50 218.7 L184.75 218.7 L185.00 216.6 L185.25 219.5 L185.50 217.9 L185.75 217.5 L186.00 216.7 L186.25 217.0 L186.50 215.9 L186.75 216.1 L187.00 217.8 L187.25 215.7 L187.50 216.2 L187.75 215.6 L188.00 213.6 L188.25 213.1 L188.50 216.6 L188.75 215.0 L189.00 215.9 L189.25 215.3 L189.50 214.5 L189.75 218.3 L190.00 220.2 L190.25 218.2 L190.50 214.4 L190.75 215.4 L191.00 216.4 L191.25 214.3 L191.50 215.6 L191.75 216.3 L192.00 218.5 L192.25 213.6 L192.50 216.0 L192.75 214.1 L193.00 212.3 L193.25 216.1 M196.75 216.1 L197.00 214.2 L197.25 215.5 L197.50 217.7 L197.75 217.8 L198.00 214.0 L198.25 217.8 L198.50 212.4 L198.75 216.9 L199.00 214.1 L199.25 215.0 L199.50 215.3 L199.75 215.2 L200.00 216.3 L200.25 215.9 L200.50 219.4 L200.75 216.6 L201.00 215.6 L201.25 217.4 L201.50 216.2 L201.75 217.1 L202.00 216.2 L202.25 216.7 L202.50 216.9 L202.75 217.4 L203.00 217.9 L203.25 216.9 L203.50 215.7 L203.75 215.1 L204.00 214.4 L204.25 218.1 L204.50 215.3 L204.75 215.4 L205.00 216.0 L205.25 216.8 L205.50 217.7 L205.75 216.1 L206.00 213.4 L206.25 215.8 L206.50 214.6 L206.75 213.9 L207.00 216.1 M220.75 216.6 L221.00 216.3 L221.25 219.2 L221.50 218.5 L221.75 216.5 L222.00 217.6 L222.25 219.3 L222.50 218.7 L222.75 218.5 L223.00 217.0 L223.25 217.8 L223.50 217.5 L223.75 218.4 L224.00 217.0 L224.25 219.3 M227.00 216.3 L227.25 215.4 L227.50 217.4 L227.75 215.8 L228.00 219.3 L228.25 215.6 L228.50 215.8 L228.75 215.3 L229.00 217.5 L229.25 219.5 L229.50 217.6 L229.75 219.3 L230.00 218.2 L230.25 218.0 L230.50 217.9 L230.75 217.3 L231.00 216.3 L231.25 218.0 L231.50 217.8 L231.75 218.3 L232.00 217.0 L232.25 217.7 L232.50 216.1 L232.75 217.8 L233.00 215.4 L233.25 215.0 L233.50 218.4 L233.75 216.9 L234.00 217.5 L234.25 217.0 L234.50 217.0 L234.75 213.2 L235.00 215.3 M242.00 216.0 L242.25 217.9 L242.50 214.2 L242.75 215.7 L243.00 216.3 L243.25 216.0 L243.50 216.3 L243.75 214.1 L244.00 218.4 L244.25 216.4 L244.50 216.5 L244.75 216.8 L245.00 214.3 L245.25 215.9 L245.50 214.1 L245.75 214.7 L246.00 216.0 L246.25 216.7 L246.50 215.4 L246.75 215.0 L247.00 215.5 L247.25 218.2 M273.00 213.9 L273.25 214.8 L273.50 215.8 M315.50 216.5 L315.75 216.2 L316.00 216.9 L316.25 216.8 L316.50 215.0 L316.75 219.1 L317.00 219.4 L317.25 218.1 L317.50 217.4 L317.75 217.0 L318.00 220.3 L318.25 217.8 L318.50 219.9 L318.75 218.8 L319.00 217.9 L319.25 216.4 L319.50 215.5 L319.75 213.5 L320.00 216.2 L320.25 214.5 L320.50 215.5 L320.75 215.6 L321.00 212.8 L321.25 217.8 L321.50 215.0 L321.75 215.6 L322.00 212.7 L322.25 215.4 L322.50 214.6 L322.75 214.0 L323.00 214.8 L323.25 216.0 L323.50 217.3 L323.75 213.2 L324.00 216.3 L324.25 219.9 L324.50 218.2 L324.75 216.6 L325.00 213.9 L325.25 216.8 L325.50 215.5 M333.75 215.4 L334.00 214.8 L334.25 215.6 L334.50 217.8 L334.75 216.9 L335.00 214.9 L335.25 212.7 L335.50 216.6 L335.75 215.7 L336.00 218.5 L336.25 218.2 L336.50 217.4 L336.75 215.4 L337.00 218.9 L337.25 219.6 L337.50 217.2 L337.75 221.2 L338.00 218.0 L338.25 216.0 L338.50 214.8 L338.75 220.4 L339.00 216.1 L339.25 219.1 L339.50 215.5 L339.75 220.3 L340.00 221.1 L340.25 216.7 L340.50 216.7 L340.75 220.0 L341.00 218.4 L341.25 218.8 L341.50 216.8 L341.75 218.8 L342.00 217.1 L342.25 220.1 L342.50 216.3 L342.75 217.0 L343.00 220.1 L343.25 217.5 L343.50 216.3 L343.75 217.1 L344.00 216.6 L344.25 216.2 L344.50 217.6 L344.75 216.8 M353.50 215.8 L353.75 217.1 L354.00 212.4 L354.25 217.5 L354.50 218.2 L354.75 217.5 L355.00 219.9 L355.25 217.6 L355.50 218.7 L355.75 219.6 L356.00 219.2 L356.25 219.9 L356.50 217.8 L356.75 217.5 L357.00 216.8 L357.25 218.7 L357.50 219.5 L357.75 220.8 M371.00 215.9 L371.25 215.9 L371.50 215.2 L371.75 214.8 L372.00 214.4 L372.25 213.9 L372.50 214.1 L372.75 213.7 L373.00 214.8 L373.25 217.0 L373.50 216.4 M380.50 215.9 L380.75 216.7 L381.00 217.9 L381.25 214.6 L381.50 216.0 L381.75 219.0 L382.00 217.5 L382.25 216.0 M389.25 217.2 L389.50 219.9 L389.75 218.0 L390.00 218.9 L390.25 219.5 L390.50 220.3 L390.75 218.2 L391.00 216.8 L391.25 219.5 L391.50 216.6 L391.75 217.0 L392.00 220.6 L392.25 217.3 L392.50 217.9 L392.75 219.5 L393.00 217.0 L393.25 218.2 L393.50 220.0 L393.75 217.8 L394.00 217.2 L394.25 217.5 L394.50 219.8 M397.75 217.2 L398.00 215.9 L398.25 217.0 L398.50 218.3 L398.75 219.2 L399.00 216.3 L399.25 217.4 L399.50 216.0 L399.75 217.2 L400.00 216.6 L400.25 219.2 L400.50 216.4 L400.75 216.4 M407.50 214.1 L407.75 212.6 L408.00 217.5 L408.25 217.0 L408.50 218.0 L408.75 216.0 L409.00 217.0 L409.25 216.5 M415.50 213.6 L415.75 216.8 L416.00 218.8 L416.25 216.9 L416.50 220.0 L416.75 217.9 L417.00 218.5 L417.25 218.5 L417.50 217.6 L417.75 219.7 L418.00 220.4 L418.25 219.4 L418.50 223.0 L418.75 218.1 L419.00 219.4 L419.25 217.9 L419.50 218.2 L419.75 217.4 L420.00 216.8 L420.25 217.5 L420.50 218.1 L420.75 218.0 L421.00 218.4 L421.25 219.2 L421.50 216.2 L421.75 221.1 L422.00 219.6 L422.25 216.8 L422.50 219.1 L422.75 219.1 L423.00 222.2 L423.25 221.9 L423.50 220.1 L423.75 218.8 L424.00 219.0 L424.25 217.2 L424.50 218.7 L424.75 221.0 L425.00 221.0 L425.25 218.3 L425.50 219.7 L425.75 218.9 L426.00 218.6 L426.25 216.5 L426.50 218.7 L426.75 216.7 L427.00 217.8 L427.25 221.2 L427.50 218.4 L427.75 219.7 L428.00 220.1 L428.25 217.3 L428.50 218.2 L428.75 218.2 L429.00 220.1 L429.25 219.1 L429.50 218.7 L429.75 220.0 L430.00 218.2 L430.25 219.2 L430.50 222.6 L430.75 217.7 L431.00 218.7 L431.25 220.0 L431.50 220.5 L431.75 219.9 L432.00 220.7 L432.25 219.4 L432.50 219.3 L432.75 219.3 L433.00 218.0 L433.25 218.7 L433.50 217.8 L433.75 219.2 L434.00 216.7 L434.25 217.7 L434.50 221.2 L434.75 219.3 M441.50 214.9 L441.75 215.8 L442.00 216.9 L442.25 215.9 L442.50 215.6 L442.75 213.6 L443.00 217.4 L443.25 213.5 L443.50 216.2 L443.75 214.6 L444.00 213.7 L444.25 215.3 M457.50 215.3 L457.75 217.7 L458.00 216.6 L458.25 215.6 L458.50 217.5 L458.75 216.1 L459.00 218.5 L459.25 219.0 L459.50 219.4 L459.75 216.9 L460.00 216.5 L460.25 217.5 L460.50 216.7 L460.75 220.3 L461.00 216.7 L461.25 214.9 L461.50 217.4 L461.75 217.1 L462.00 218.8 L462.25 219.5 L462.50 219.1 L462.75 218.7 L463.00 220.5 L463.25 218.8 L463.50 220.7 L463.75 218.9 L464.00 217.6 L464.25 221.0 L464.50 218.1 L464.75 219.5 L465.00 223.3 L465.25 219.9 L465.50 219.3 L465.75 219.6 L466.00 220.0 L466.25 219.1 L466.50 218.0 L466.75 218.8 L467.00 220.3 L467.25 219.2 L467.50 219.1 L467.75 221.1 L468.00 216.9 M473.75 221.3 L474.00 220.3 L474.25 217.6 L474.50 217.9 L474.75 219.0 L475.00 215.9 L475.25 218.7 L475.50 218.4 M488.75 217.0 L489.00 216.3 L489.25 214.1 L489.50 218.2 L489.75 218.5 L490.00 220.8 L490.25 218.6 L490.50 219.9 L490.75 220.4 L491.00 219.0 L491.25 218.5 L491.50 218.3 L491.75 219.9 L492.00 218.6 L492.25 220.1 L492.50 220.3 L492.75 219.5 L493.00 220.3 L493.25 218.2 L493.50 220.5 L493.75 219.1 L494.00 220.0 L494.25 218.5 L494.50 221.0 L494.75 219.5 L495.00 221.3 L495.25 217.9 L495.50 217.8 L495.75 219.0 L496.00 218.1 L496.25 220.3 L496.50 218.6 L496.75 218.2 L497.00 219.7 L497.25 220.0 L497.50 221.3 L497.75 217.7 L498.00 217.3 L498.25 213.5 L498.50 218.1 L498.75 216.4 L499.00 218.4 L499.25 218.0 M505.75 214.6 L506.00 218.5 L506.25 219.5 L506.50 216.1 L506.75 215.2 L507.00 216.4 L507.25 218.1 L507.50 221.3 L507.75 217.5 L508.00 218.4 L508.25 219.3 L508.50 219.1 L508.75 218.0 L509.00 218.4 L509.25 220.7 L509.50 218.3 L509.75 218.1 L510.00 217.2 L510.25 217.6 L510.50 217.0 L510.75 217.7 L511.00 218.3 L511.25 219.8 L511.50 217.1 L511.75 220.2 L512.00 219.3 L512.25 217.3 L512.50 218.5 L512.75 216.5 L513.00 222.4 L513.25 217.5 L513.50 220.2 L513.75 221.3 L514.00 221.6 L514.25 221.3 L514.50 220.6 L514.75 217.4 L515.00 220.2 L515.25 221.1 L515.50 220.5 L515.75 220.6 L516.00 217.6 L516.25 216.0 L516.50 217.2 L516.75 217.2 L517.00 216.7 L517.25 218.8 L517.50 220.2 L517.75 220.5 L518.00 220.5 L518.25 221.9 L518.50 217.0 L518.75 221.4 L519.00 221.3 L519.25 217.2 L519.50 220.7 L519.75 219.9 L520.00 218.0 L520.25 221.1 L520.50 220.4 L520.75 221.6 L521.00 219.2 L521.25 221.3 L521.50 216.8 L521.75 221.7 L522.00 219.0 L522.25 222.4 L522.50 220.8 L522.75 217.8 L523.00 220.9 L523.25 218.8 L523.50 217.2 L523.75 217.6 L524.00 219.2 L524.25 216.8 L524.50 217.3 L524.75 218.0 L525.00 218.2 L525.25 219.0 L525.50 218.5 L525.75 221.3 L526.00 219.1 L526.25 216.9 L526.50 218.6 L526.75 221.2 L527.00 220.3 L527.25 218.6 L527.50 219.0 L527.75 216.0 L528.00 217.8 L528.25 217.1 L528.50 217.4 L528.75 220.4 L529.00 220.1 L529.25 217.0 L529.50 217.9 L529.75 219.2 L530.00 219.0 L530.25 217.6 L530.50 220.1 L530.75 220.0 L531.00 218.5 M538.00 217.4 L538.25 216.5 L538.50 215.9 L538.75 218.0 L539.00 215.6 L539.25 216.3 L539.50 218.5 L539.75 219.0 L540.00 218.0 L540.25 219.3 L540.50 218.5 L540.75 219.9 L541.00 218.0 L541.25 216.7 L541.50 222.7 L541.75 221.5 L542.00 224.4 L542.25 221.2 L542.50 222.3 L542.75 221.4 L543.00 221.8 L543.25 218.6 L543.50 221.1" stroke="#a85fc4" stroke-width="1"/></g>
<polygon points="162.5,168.8 164.7,172.3 164.7,179.3 162.5,182.8 160.3,179.3 160.3,172.3" fill="#ff7f1f" stroke="#ff7f1f" stroke-width="2" stroke-linejoin="round"/>
<polygon points="176.0,7.5 178.2,11.0 178.2,18.0 176.0,21.5 173.8,18.0 173.8,11.0" fill="#ff7f1f" stroke="#ff7f1f" stroke-width="2" stroke-linejoin="round"/>
<polygon points="195.0,185.0 197.2,188.5 197.2,195.5 195.0,199.0 192.8,195.5 192.8,188.5" fill="#ff7f1f" stroke="#ff7f1f" stroke-width="2" stroke-linejoin="round"/>
<polygon points="209.0,109.0 211.2,112.5 211.2,119.5 209.0,123.0 206.8,119.5 206.8,112.5" fill="#eed911" stroke="#eed911" stroke-width="2" stroke-linejoin="round"/>
<polygon points="212.0,109.0 214.2,112.5 214.2,119.5 212.0,123.0 209.8,119.5 209.8,112.5" fill="#ff7f1f" stroke="#ff7f1f" stroke-width="2" stroke-linejoin="round"/>
<polygon points="216.0,174.0 218.2,177.5 218.2,184.5 216.0,188.0 213.8,184.5 213.8,177.5" fill="#ff7f1f" stroke="#ff7f1f" stroke-width="2" stroke-linejoin="round"/>
<polygon points="220.4,191.0 222.6,194.5 222.6,201.5 220.4,205.0 218.2,201.5 218.2,194.5" fill="#ff7f1f" stroke="#ff7f1f" stroke-width="2" stroke-linejoin="round"/>
<polygon points="226.0,193.0 228.2,196.5 228.2,203.5 226.0,207.0 223.8,203.5 223.8,196.5" fill="#ff7f1f" stroke="#ff7f1f" stroke-width="2" stroke-linejoin="round"/>
<polygon points="238.4,159.5 240.6,163.0 240.6,170.0 238.4,173.5 236.2,170.0 236.2,163.0" fill="#ff7f1f" stroke="#ff7f1f" stroke-width="2" stroke-linejoin="round"/>
<polygon points="251.0,140.5 253.2,144.0 253.2,151.0 251.0,154.5 248.8,151.0 248.8,144.0" fill="#ff7f1f" stroke="#ff7f1f" stroke-width="2" stroke-linejoin="round"/>
<polygon points="264.0,136.5 266.2,140.0 266.2,147.0 264.0,150.5 261.8,147.0 261.8,140.0" fill="#ff7f1f" stroke="#ff7f1f" stroke-width="2" stroke-linejoin="round"/>
<polygon points="268.4,157.0 270.6,160.5 270.6,167.5 268.4,171.0 266.2,167.5 266.2,160.5" fill="#ff7f1f" stroke="#ff7f1f" stroke-width="2" stroke-linejoin="round"/>
<polygon points="279.0,157.4 281.2,160.9 281.2,167.9 279.0,171.4 276.8,167.9 276.8,160.9" fill="#ff7f1f" stroke="#ff7f1f" stroke-width="2" stroke-linejoin="round"/>
<polygon points="287.6,174.0 289.8,177.5 289.8,184.5 287.6,188.0 285.4,184.5 285.4,177.5" fill="#eed911" stroke="#eed911" stroke-width="2" stroke-linejoin="round"/>
<polygon points="291.6,162.0 293.8,165.5 293.8,172.5 291.6,176.0 289.4,172.5 289.4,165.5" fill="#ff7f1f" stroke="#ff7f1f" stroke-width="2" stroke-linejoin="round"/>
<polygon points="298.6,174.0 300.8,177.5 300.8,184.5 298.6,188.0 296.4,184.5 296.4,177.5" fill="#ff7f1f" stroke="#ff7f1f" stroke-width="2" stroke-linejoin="round"/>
<polygon points="309.0,141.0 311.2,144.5 311.2,151.5 309.0,155.0 306.8,151.5 306.8,144.5" fill="#ff7f1f" stroke="#ff7f1f" stroke-width="2" stroke-linejoin="round"/>
<polygon points="330.0,155.0 332.2,158.5 332.2,165.5 330.0,169.0 327.8,165.5 327.8,158.5" fill="#ff7f1f" stroke="#ff7f1f" stroke-width="2" stroke-linejoin="round"/>
<polygon points="349.4,152.0 351.6,155.5 351.6,162.5 349.4,166.0 347.2,162.5 347.2,155.5" fill="#ff7f1f" stroke="#ff7f1f" stroke-width="2" stroke-linejoin="round"/>
<polygon points="360.0,186.0 362.2,189.5 362.2,196.5 360.0,200.0 357.8,196.5 357.8,189.5" fill="#ff7f1f" stroke="#ff7f1f" stroke-width="2" stroke-linejoin="round"/>
<polygon points="366.4,177.0 368.6,180.5 368.6,187.5 366.4,191.0 364.2,187.5 364.2,180.5" fill="#eed911" stroke="#eed911" stroke-width="2" stroke-linejoin="round"/>
<polygon points="368.6,178.0 370.8,181.5 370.8,188.5 368.6,192.0 366.4,188.5 366.4,181.5" fill="#ff7f1f" stroke="#ff7f1f" stroke-width="2" stroke-linejoin="round"/>
<polygon points="377.4,179.4 379.6,182.9 379.6,189.9 377.4,193.4 375.2,189.9 375.2,182.9" fill="#ff7f1f" stroke="#ff7f1f" stroke-width="2" stroke-linejoin="round"/>
<polygon points="386.4,175.0 388.6,178.5 388.6,185.5 386.4,189.0 384.2,185.5 384.2,178.5" fill="#ff7f1f" stroke="#ff7f1f" stroke-width="2" stroke-linejoin="round"/>
<polygon points="404.0,180.0 406.2,183.5 406.2,190.5 404.0,194.0 401.8,190.5 401.8,183.5" fill="#ff7f1f" stroke="#ff7f1f" stroke-width="2" stroke-linejoin="round"/>
<polygon points="411.2,179.4 413.4,182.9 413.4,189.9 411.2,193.4 409.0,189.9 409.0,182.9" fill="#eed911" stroke="#eed911" stroke-width="2" stroke-linejoin="round"/>
<polygon points="414.0,180.0 416.2,183.5 416.2,190.5 414.0,194.0 411.8,190.5 411.8,183.5" fill="#ff7f1f" stroke="#ff7f1f" stroke-width="2" stroke-linejoin="round"/>
<polygon points="438.0,176.4 440.2,179.9 440.2,186.9 438.0,190.4 435.8,186.9 435.8,179.9" fill="#ff7f1f" stroke="#ff7f1f" stroke-width="2" stroke-linejoin="round"/>
<polygon points="447.2,189.0 449.4,192.5 449.4,199.5 447.2,203.0 445.0,199.5 445.0,192.5" fill="#ff7f1f" stroke="#ff7f1f" stroke-width="2" stroke-linejoin="round"/>
<polygon points="453.6,174.0 455.8,177.5 455.8,184.5 453.6,188.0 451.4,184.5 451.4,177.5" fill="#ff7f1f" stroke="#ff7f1f" stroke-width="2" stroke-linejoin="round"/>
<polygon points="469.4,185.4 471.6,188.9 471.6,195.9 469.4,199.4 467.2,195.9 467.2,188.9" fill="#eed911" stroke="#eed911" stroke-width="2" stroke-linejoin="round"/>
<polygon points="472.0,185.4 474.2,188.9 474.2,195.9 472.0,199.4 469.8,195.9 469.8,188.9" fill="#ff7f1f" stroke="#ff7f1f" stroke-width="2" stroke-linejoin="round"/>
<polygon points="478.6,184.0 480.8,187.5 480.8,194.5 478.6,198.0 476.4,194.5 476.4,187.5" fill="#ff7f1f" stroke="#ff7f1f" stroke-width="2" stroke-linejoin="round"/>
<polygon points="486.0,186.0 488.2,189.5 488.2,196.5 486.0,200.0 483.8,196.5 483.8,189.5" fill="#ff7f1f" stroke="#ff7f1f" stroke-width="2" stroke-linejoin="round"/>
<polygon points="502.0,178.0 504.2,181.5 504.2,188.5 502.0,192.0 499.8,188.5 499.8,181.5" fill="#eed911" stroke="#eed911" stroke-width="2" stroke-linejoin="round"/>
<polygon points="534.6,175.0 536.8,178.5 536.8,185.5 534.6,189.0 532.4,185.5 532.4,178.5" fill="#ff7f1f" stroke="#ff7f1f" stroke-width="2" stroke-linejoin="round"/>
<polygon points="99.5,148.8 101.4,151.9 101.4,158.1 99.5,161.2 97.6,158.1 97.6,151.9" fill="#16a322" stroke="#16a322" stroke-width="2" stroke-linejoin="round"/>
<polygon points="117.6,336.0 119.7,339.5 119.7,346.5 117.6,350.0 115.5,346.5 115.5,339.5" fill="#1df01d" stroke="#1df01d" stroke-width="2" stroke-linejoin="round"/>
<polygon points="151.0,289.8 152.9,292.9 152.9,299.1 151.0,302.2 149.1,299.1 149.1,292.9" fill="#16a322" stroke="#16a322" stroke-width="2" stroke-linejoin="round"/>
<polygon points="165.6,237.8 167.5,240.9 167.5,247.1 165.6,250.2 163.7,247.1 163.7,240.9" fill="#16a322" stroke="#16a322" stroke-width="2" stroke-linejoin="round"/>
<polygon points="179.4,333.0 181.5,336.5 181.5,343.5 179.4,347.0 177.3,343.5 177.3,336.5" fill="#1df01d" stroke="#1df01d" stroke-width="2" stroke-linejoin="round"/>
<polygon points="199.0,264.8 200.9,267.9 200.9,274.1 199.0,277.2 197.1,274.1 197.1,267.9" fill="#16a322" stroke="#16a322" stroke-width="2" stroke-linejoin="round"/>
<polygon points="204.0,322.0 206.1,325.5 206.1,332.5 204.0,336.0 201.9,332.5 201.9,325.5" fill="#1df01d" stroke="#1df01d" stroke-width="2" stroke-linejoin="round"/>
<polygon points="209.4,343.8 211.3,346.9 211.3,353.1 209.4,356.2 207.5,353.1 207.5,346.9" fill="#16a322" stroke="#16a322" stroke-width="2" stroke-linejoin="round"/>
<polygon points="214.6,332.4 216.5,335.5 216.5,341.7 214.6,344.9 212.7,341.7 212.7,335.5" fill="#16a322" stroke="#16a322" stroke-width="2" stroke-linejoin="round"/>
<polygon points="223.0,343.0 225.1,346.5 225.1,353.5 223.0,357.0 220.9,353.5 220.9,346.5" fill="#1df01d" stroke="#1df01d" stroke-width="2" stroke-linejoin="round"/>
<polygon points="229.4,343.0 231.5,346.5 231.5,353.5 229.4,357.0 227.3,353.5 227.3,346.5" fill="#1df01d" stroke="#1df01d" stroke-width="2" stroke-linejoin="round"/>
<polygon points="234.6,332.4 236.5,335.5 236.5,341.7 234.6,344.9 232.7,341.7 232.7,335.5" fill="#16a322" stroke="#16a322" stroke-width="2" stroke-linejoin="round"/>
<polygon points="241.2,350.2 243.1,353.4 243.1,359.6 241.2,362.8 239.3,359.6 239.3,353.4" fill="#16a322" stroke="#16a322" stroke-width="2" stroke-linejoin="round"/>
<polygon points="245.4,354.2 247.3,357.4 247.3,363.6 245.4,366.8 243.5,363.6 243.5,357.4" fill="#16a322" stroke="#16a322" stroke-width="2" stroke-linejoin="round"/>
<polygon points="257.6,353.0 259.7,356.5 259.7,363.5 257.6,367.0 255.5,363.5 255.5,356.5" fill="#1df01d" stroke="#1df01d" stroke-width="2" stroke-linejoin="round"/>
<polygon points="264.0,343.1 265.9,346.3 265.9,352.5 264.0,355.6 262.1,352.5 262.1,346.3" fill="#16a322" stroke="#16a322" stroke-width="2" stroke-linejoin="round"/>
<polygon points="273.4,345.8 275.3,348.9 275.3,355.1 273.4,358.2 271.5,355.1 271.5,348.9" fill="#16a322" stroke="#16a322" stroke-width="2" stroke-linejoin="round"/>
<polygon points="280.0,343.0 282.1,346.5 282.1,353.5 280.0,357.0 277.9,353.5 277.9,346.5" fill="#1df01d" stroke="#1df01d" stroke-width="2" stroke-linejoin="round"/>
<polygon points="291.6,337.0 293.7,340.5 293.7,347.5 291.6,351.0 289.5,347.5 289.5,340.5" fill="#1df01d" stroke="#1df01d" stroke-width="2" stroke-linejoin="round"/>
<polygon points="305.0,305.0 307.1,308.5 307.1,315.5 305.0,319.0 302.9,315.5 302.9,308.5" fill="#1df01d" stroke="#1df01d" stroke-width="2" stroke-linejoin="round"/>
<polygon points="313.4,341.8 315.3,344.9 315.3,351.1 313.4,354.2 311.5,351.1 311.5,344.9" fill="#16a322" stroke="#16a322" stroke-width="2" stroke-linejoin="round"/>
<polygon points="325.4,333.8 327.3,336.9 327.3,343.1 325.4,346.2 323.5,343.1 323.5,336.9" fill="#16a322" stroke="#16a322" stroke-width="2" stroke-linejoin="round"/>
<polygon points="341.0,346.8 342.9,349.9 342.9,356.1 341.0,359.2 339.1,356.1 339.1,349.9" fill="#16a322" stroke="#16a322" stroke-width="2" stroke-linejoin="round"/>
<polygon points="346.8,346.8 348.7,349.9 348.7,356.1 346.8,359.2 344.9,356.1 344.9,349.9" fill="#16a322" stroke="#16a322" stroke-width="2" stroke-linejoin="round"/>
<polygon points="356.0,331.0 358.1,334.5 358.1,341.5 356.0,345.0 353.9,341.5 353.9,334.5" fill="#1df01d" stroke="#1df01d" stroke-width="2" stroke-linejoin="round"/>
<polygon points="376.0,347.8 377.9,350.9 377.9,357.1 376.0,360.2 374.1,357.1 374.1,350.9" fill="#16a322" stroke="#16a322" stroke-width="2" stroke-linejoin="round"/>
<polygon points="379.6,347.8 381.5,350.9 381.5,357.1 379.6,360.2 377.7,357.1 377.7,350.9" fill="#16a322" stroke="#16a322" stroke-width="2" stroke-linejoin="round"/>
<polygon points="396.0,336.0 398.1,339.5 398.1,346.5 396.0,350.0 393.9,346.5 393.9,339.5" fill="#1df01d" stroke="#1df01d" stroke-width="2" stroke-linejoin="round"/>
<polygon points="422.6,341.8 424.5,344.9 424.5,351.1 422.6,354.2 420.7,351.1 420.7,344.9" fill="#16a322" stroke="#16a322" stroke-width="2" stroke-linejoin="round"/>
<polygon points="435.6,339.4 437.7,342.9 437.7,349.9 435.6,353.4 433.5,349.9 433.5,342.9" fill="#1df01d" stroke="#1df01d" stroke-width="2" stroke-linejoin="round"/>
<polygon points="458.4,330.4 460.5,333.9 460.5,340.9 458.4,344.4 456.3,340.9 456.3,333.9" fill="#1df01d" stroke="#1df01d" stroke-width="2" stroke-linejoin="round"/>
<polygon points="474.0,350.4 475.9,353.5 475.9,359.7 474.0,362.9 472.1,359.7 472.1,353.5" fill="#16a322" stroke="#16a322" stroke-width="2" stroke-linejoin="round"/>
<polygon points="506.0,348.0 508.1,351.5 508.1,358.5 506.0,362.0 503.9,358.5 503.9,351.5" fill="#1df01d" stroke="#1df01d" stroke-width="2" stroke-linejoin="round"/>
<polygon points="517.4,341.1 519.3,344.3 519.3,350.5 517.4,353.6 515.5,350.5 515.5,344.3" fill="#16a322" stroke="#16a322" stroke-width="2" stroke-linejoin="round"/>
<polyline points="424.5,73.5 426.0,70.5 428.0,70.0 429.5,68.5 430.5,70.5 431.2,69.5 432.5,77.0 433.5,71.0 434.5,70.5 435.5,74.5 436.5,69.0 437.5,65.5 438.5,71.5 439.5,70.0 441.0,71.0 443.5,73.0 444.5,70.5 446.5,71.5 447.5,74.5 449.0,69.5 450.0,71.0 451.0,73.0 453.0,73.5 455.0,74.5 456.5,65.5 457.5,67.0 458.5,71.0 459.5,73.5 461.0,68.5 462.0,69.0 463.0,66.5 464.0,67.0 465.0,64.5 466.0,65.0 467.5,58.5 468.5,56.0 469.5,52.0 470.5,49.5 471.5,49.5 472.5,48.5 473.7,52.7 475.2,54.2 476.7,51.2 478.2,55.7 479.7,58.0 481.2,62.5 482.3,66.2 483.5,63.2 485.0,65.5 486.8,61.7 488.3,67.7 489.8,61.0 491.0,61.7 492.5,56.5 494.0,47.5 495.8,36.2 497.3,43.0 498.5,49.7 500.0,50.5 501.8,49.0 503.3,54.2 504.8,60.2 506.3,67.0 507.5,73.0 509.3,68.5 510.5,69.2 512.0,74.5 513.5,68.5 514.5,73.7 515.4,68.5 516.5,73.0 518.0,73.7 519.5,71.5 521.0,70.0 522.5,73.7 523.7,70.0" fill="none" stroke="#9335ac" stroke-width="1.15" stroke-linejoin="round"/>
<polygon points="474.0,27.2 476.3,31.0 476.3,38.6 474.0,42.4 471.7,38.6 471.7,31.0" fill="#eed911" stroke="#eed911" stroke-width="2" stroke-linejoin="round"/>
<polygon points="496.4,16.9 498.6,20.3 498.6,27.3 496.4,30.7 494.1,27.3 494.1,20.3" fill="#ff7f1f" stroke="#ff7f1f" stroke-width="2" stroke-linejoin="round"/>
<!-- labels -->
<text transform="translate(20.5,282) rotate(-90)" font-size="21" textLength="187.5" lengthAdjust="spacingAndGlyphs">Intensity, rel. units</text>
<g font-size="8.2">
<text x="32" y="394.7" text-anchor="middle">0</text>
<text x="86" y="394.7" text-anchor="middle">10</text>
<text x="146.7" y="394.7" text-anchor="middle">20</text>
<text x="203" y="394.7" text-anchor="middle">30</text>
<text x="259.5" y="394.7" text-anchor="middle">40</text>
<text x="317.6" y="394.7" text-anchor="middle">50</text>
<text x="374" y="394.7" text-anchor="middle">60</text>
<text x="432.7" y="394.7" text-anchor="middle">70</text>
<text x="486" y="394.7" text-anchor="middle">80</text>
<text x="497" y="394.7" textLength="50" lengthAdjust="spacingAndGlyphs">2 Theta, deg.</text>
</g>
<g font-size="7.2">
<text x="423.5" y="92" text-anchor="middle">44</text>
<text x="448" y="92" text-anchor="middle">44.5</text>
<text x="474" y="92" text-anchor="middle">45</text>
<text x="498.7" y="92" text-anchor="middle">45.5</text>
<text x="525" y="92" text-anchor="middle">46</text>
<text x="481.5" y="100.5" text-anchor="middle">2 Theta, deg.</text>
</g>
<text transform="translate(418.3,83.2) rotate(-90)" font-size="9" textLength="80" lengthAdjust="spacingAndGlyphs">Intensity, rel. units</text>
<text x="224.3" y="16.9" font-size="12.5" textLength="24.8" lengthAdjust="spacingAndGlyphs">CaS</text>
<text y="48.5" font-size="12.5"><tspan x="224.3" textLength="35" lengthAdjust="spacingAndGlyphs">CaSO</tspan><tspan x="259.4" font-size="9.2" dy="3.2">4</tspan></text>
<text y="255.6" font-size="12.5"><tspan x="416.2" textLength="34.4" lengthAdjust="spacingAndGlyphs">CaSO</tspan><tspan x="450.7" font-size="9.6" dy="4">4</tspan><tspan x="458.1" dy="-5.6">·</tspan><tspan x="465.2" dy="1.6" textLength="17.4" lengthAdjust="spacingAndGlyphs">2H</tspan><tspan x="482.8" font-size="9.6" dy="4">2</tspan><tspan x="489" dy="-4">O</tspan></text>
<text y="285.9" font-size="12.5"><tspan x="418.8" textLength="33.8" lengthAdjust="spacingAndGlyphs">CaSO</tspan><tspan x="452.5" font-size="9.6" dy="3.8">4</tspan><tspan x="459.2" dy="-5.4">·</tspan><tspan x="465" dy="1.6" textLength="26.6" lengthAdjust="spacingAndGlyphs">0.5H</tspan><tspan x="491.5" font-size="9.8" dy="3.8">2</tspan><tspan x="498.6" dy="-3.8">O</tspan></text>
<polygon points="213.5,5 216.6,9 216.6,17.4 213.5,21.4 210.4,17.4 210.4,9" fill="#eed911" stroke="#eed911" stroke-width="1" stroke-linejoin="round"/>
<polygon points="216.8,37.6 219.5,41.6 219.5,49 216.8,53 214.1,49 214.1,41.6" fill="#ff7f1f" stroke="#ff7f1f" stroke-width="1" stroke-linejoin="round"/>
<polygon points="409.5,244.5 411.8,248 411.8,253.5 409.5,257 407.2,253.5 407.2,248" fill="#16a322" stroke="#16a322" stroke-width="1" stroke-linejoin="round"/>
<polygon points="409.8,274 412.3,278 412.3,285.3 409.8,289.3 407.3,285.3 407.3,278" fill="#1df01d" stroke="#1df01d" stroke-width="1" stroke-linejoin="round"/>
<text x="525" y="29.9" font-size="31" textLength="18" lengthAdjust="spacingAndGlyphs">c</text>
<text x="521.3" y="163.6" font-size="31" textLength="20.5" lengthAdjust="spacingAndGlyphs">b</text>
<text x="525.2" y="333.6" font-size="31" textLength="18" lengthAdjust="spacingAndGlyphs">a</text>
</svg>
</body></html>
